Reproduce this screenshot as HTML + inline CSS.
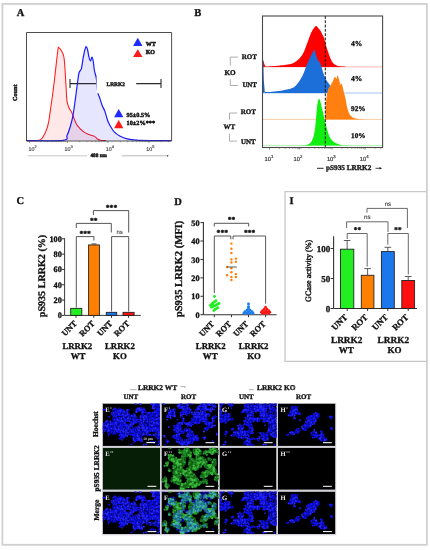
<!DOCTYPE html>
<html><head><meta charset="utf-8"><style>
html,body{margin:0;padding:0;background:#fff;}
svg{display:block;}
</style></head><body>
<svg width="430" height="550" viewBox="0 0 430 550" text-rendering="geometricPrecision">
<rect width="430" height="550" fill="#fff"/>
<rect x="2.4" y="3.9" width="424.5" height="540.9" fill="none" stroke="#d0d0d0" stroke-width="1.8"/>
<text x="16.8" y="16.3" font-family="'Liberation Serif', serif" font-size="10.5" font-weight="bold" fill="#111" stroke="#111" stroke-width="0.32" text-anchor="start">A</text>
<path d="M26.50,140.60 C28.65,140.53 36.47,141.13 39.40,140.20 C42.33,139.27 42.83,136.98 44.10,135.00 C45.37,133.02 46.20,130.68 47.00,128.30 C47.80,125.92 48.27,124.20 48.90,120.70 C49.53,117.20 50.17,111.75 50.80,107.30 C51.43,102.85 52.07,98.77 52.70,94.00 C53.33,89.23 53.97,84.12 54.60,78.70 C55.23,73.28 55.92,66.53 56.50,61.50 C57.08,56.47 57.72,50.82 58.10,48.50 C58.48,46.18 58.27,47.27 58.80,47.60 C59.33,47.93 60.57,49.38 61.30,50.50 C62.03,51.62 62.72,52.87 63.20,54.30 C63.68,55.73 63.88,56.40 64.20,59.10 C64.52,61.80 64.78,65.73 65.10,70.50 C65.42,75.27 65.78,82.60 66.10,87.70 C66.42,92.80 66.52,97.75 67.00,101.10 C67.48,104.45 68.20,105.88 69.00,107.80 C69.80,109.72 70.85,110.53 71.80,112.60 C72.75,114.67 73.73,117.98 74.70,120.20 C75.67,122.42 76.17,124.00 77.60,125.90 C79.03,127.80 81.40,130.17 83.30,131.60 C85.20,133.03 87.10,133.70 89.00,134.50 C90.90,135.30 93.30,135.65 94.70,136.40 C96.10,137.15 96.32,138.33 97.40,139.00 C98.48,139.67 99.77,140.13 101.20,140.40 C102.63,140.67 105.20,140.57 106.00,140.60 L106,140.8 L26.5,140.8 Z" fill="rgba(255,0,0,0.09)" stroke="none"/>
<path d="M26.50,140.60 C28.65,140.53 36.47,141.13 39.40,140.20 C42.33,139.27 42.83,136.98 44.10,135.00 C45.37,133.02 46.20,130.68 47.00,128.30 C47.80,125.92 48.27,124.20 48.90,120.70 C49.53,117.20 50.17,111.75 50.80,107.30 C51.43,102.85 52.07,98.77 52.70,94.00 C53.33,89.23 53.97,84.12 54.60,78.70 C55.23,73.28 55.92,66.53 56.50,61.50 C57.08,56.47 57.72,50.82 58.10,48.50 C58.48,46.18 58.27,47.27 58.80,47.60 C59.33,47.93 60.57,49.38 61.30,50.50 C62.03,51.62 62.72,52.87 63.20,54.30 C63.68,55.73 63.88,56.40 64.20,59.10 C64.52,61.80 64.78,65.73 65.10,70.50 C65.42,75.27 65.78,82.60 66.10,87.70 C66.42,92.80 66.52,97.75 67.00,101.10 C67.48,104.45 68.20,105.88 69.00,107.80 C69.80,109.72 70.85,110.53 71.80,112.60 C72.75,114.67 73.73,117.98 74.70,120.20 C75.67,122.42 76.17,124.00 77.60,125.90 C79.03,127.80 81.40,130.17 83.30,131.60 C85.20,133.03 87.10,133.70 89.00,134.50 C90.90,135.30 93.30,135.65 94.70,136.40 C96.10,137.15 96.32,138.33 97.40,139.00 C98.48,139.67 99.77,140.13 101.20,140.40 C102.63,140.67 105.20,140.57 106.00,140.60" fill="none" stroke="#ff1a1a" stroke-width="1.05"/>
<path d="M26.50,140.60 C32.62,140.57 56.45,141.25 63.20,140.40 C69.95,139.55 65.88,137.60 67.00,135.50 C68.12,133.40 68.93,130.98 69.90,127.80 C70.87,124.62 71.85,121.48 72.80,116.40 C73.75,111.32 74.80,103.03 75.60,97.30 C76.40,91.57 77.02,86.13 77.60,82.00 C78.18,77.87 78.47,74.73 79.10,72.50 C79.73,70.27 80.70,71.15 81.40,68.60 C82.10,66.05 82.67,60.53 83.30,57.20 C83.93,53.87 84.70,50.35 85.20,48.60 C85.70,46.85 85.92,46.55 86.30,46.70 C86.68,46.85 87.05,47.75 87.50,49.50 C87.95,51.25 88.50,55.28 89.00,57.20 C89.50,59.12 90.02,61.00 90.50,61.00 C90.98,61.00 91.45,57.20 91.90,57.20 C92.35,57.20 92.78,58.78 93.20,61.00 C93.62,63.22 93.88,67.63 94.40,70.50 C94.92,73.37 95.77,74.68 96.30,78.20 C96.83,81.72 97.07,88.42 97.60,91.60 C98.13,94.78 98.75,95.02 99.50,97.30 C100.25,99.58 101.20,102.95 102.10,105.30 C103.00,107.65 103.97,108.83 104.90,111.40 C105.83,113.97 106.77,118.22 107.70,120.70 C108.63,123.18 109.42,124.43 110.50,126.30 C111.58,128.17 112.65,130.28 114.20,131.90 C115.75,133.52 117.63,134.83 119.80,136.00 C121.97,137.17 124.42,138.20 127.20,138.90 C129.98,139.60 132.70,139.92 136.50,140.20 C140.30,140.48 144.25,140.53 150.00,140.60 C155.75,140.67 167.50,140.60 171.00,140.60 L171,140.8 L26.5,140.8 Z" fill="rgba(30,30,255,0.11)" stroke="none"/>
<path d="M26.50,140.60 C32.62,140.57 56.45,141.25 63.20,140.40 C69.95,139.55 65.88,137.60 67.00,135.50 C68.12,133.40 68.93,130.98 69.90,127.80 C70.87,124.62 71.85,121.48 72.80,116.40 C73.75,111.32 74.80,103.03 75.60,97.30 C76.40,91.57 77.02,86.13 77.60,82.00 C78.18,77.87 78.47,74.73 79.10,72.50 C79.73,70.27 80.70,71.15 81.40,68.60 C82.10,66.05 82.67,60.53 83.30,57.20 C83.93,53.87 84.70,50.35 85.20,48.60 C85.70,46.85 85.92,46.55 86.30,46.70 C86.68,46.85 87.05,47.75 87.50,49.50 C87.95,51.25 88.50,55.28 89.00,57.20 C89.50,59.12 90.02,61.00 90.50,61.00 C90.98,61.00 91.45,57.20 91.90,57.20 C92.35,57.20 92.78,58.78 93.20,61.00 C93.62,63.22 93.88,67.63 94.40,70.50 C94.92,73.37 95.77,74.68 96.30,78.20 C96.83,81.72 97.07,88.42 97.60,91.60 C98.13,94.78 98.75,95.02 99.50,97.30 C100.25,99.58 101.20,102.95 102.10,105.30 C103.00,107.65 103.97,108.83 104.90,111.40 C105.83,113.97 106.77,118.22 107.70,120.70 C108.63,123.18 109.42,124.43 110.50,126.30 C111.58,128.17 112.65,130.28 114.20,131.90 C115.75,133.52 117.63,134.83 119.80,136.00 C121.97,137.17 124.42,138.20 127.20,138.90 C129.98,139.60 132.70,139.92 136.50,140.20 C140.30,140.48 144.25,140.53 150.00,140.60 C155.75,140.67 167.50,140.60 171.00,140.60" fill="none" stroke="#1a1aff" stroke-width="1.2"/>
<path d="M26.5,141.0 L26.5,32.5 L171.6,32.5 L171.6,141.0 Z" fill="none" stroke="#3a3a3a" stroke-width="0.9"/>
<path d="M29.5,141.0 v2 M40.94,141.0 v1.2 M47.63,141.0 v1.2 M52.38,141.0 v1.2 M56.06,141.0 v1.2 M59.07,141.0 v1.2 M61.61,141.0 v1.2 M63.82,141.0 v1.2 M65.76,141.0 v1.2 M67.5,141.0 v2 M79.69,141.0 v1.2 M86.82,141.0 v1.2 M91.88,141.0 v1.2 M95.81,141.0 v1.2 M99.02,141.0 v1.2 M101.73,141.0 v1.2 M104.08,141.0 v1.2 M106.15,141.0 v1.2 M108,141.0 v2 M120.34,141.0 v1.2 M127.56,141.0 v1.2 M132.68,141.0 v1.2 M136.66,141.0 v1.2 M139.90,141.0 v1.2 M142.65,141.0 v1.2 M145.03,141.0 v1.2 M147.12,141.0 v1.2 M149,141.0 v2 M161.19,141.0 v1.2 M168.32,141.0 v1.2" stroke="#555" stroke-width="0.6" fill="none"/>
<text x="28.5" y="150.8" font-family="'Liberation Sans', sans-serif" font-size="5.3" fill="#444" stroke="#444" stroke-width="0.15">10<tspan dy="-2.9" font-size="3.9">2</tspan></text>
<text x="64.5" y="150.8" font-family="'Liberation Sans', sans-serif" font-size="5.3" fill="#444" stroke="#444" stroke-width="0.15">10<tspan dy="-2.9" font-size="3.9">3</tspan></text>
<text x="105.8" y="150.8" font-family="'Liberation Sans', sans-serif" font-size="5.3" fill="#444" stroke="#444" stroke-width="0.15">10<tspan dy="-2.9" font-size="3.9">4</tspan></text>
<text x="146.3" y="150.8" font-family="'Liberation Sans', sans-serif" font-size="5.3" fill="#444" stroke="#444" stroke-width="0.15">10<tspan dy="-2.9" font-size="3.9">5</tspan></text>
<line x1="27.8" y1="155.8" x2="87" y2="155.8" stroke="#bbb" stroke-width="0.8"/>
<line x1="121.6" y1="155.8" x2="168" y2="155.8" stroke="#999" stroke-width="0.7"/>
<path d="M168.8,155.8 l-1.8,-0.9 v1.8 Z" fill="#333"/>
<text x="90.4" y="157.1" font-family="'Liberation Serif', serif" font-size="5.3" font-weight="bold" fill="#111" stroke="#111" stroke-width="0.4" text-anchor="start">488 nm</text>
<text x="16.5" y="101" font-family="'Liberation Serif', serif" font-size="6.2" font-weight="bold" fill="#111" stroke="#111" stroke-width="0.4" text-anchor="start" transform="rotate(-90 16.5 101)">Count</text>
<rect x="96.6" y="77.2" width="39.2" height="16" fill="#fff"/>
<path d="M70,79 v9 M70,83.6 H96 M136.2,83.6 H161 M161,79 v9" stroke="#2a2a2a" stroke-width="1.1" fill="none"/>
<text x="106.6" y="85.6" font-family="'Liberation Serif', serif" font-size="5.4" font-weight="bold" fill="#111" stroke="#111" stroke-width="0.4" text-anchor="start">LRRK2</text>
<path d="M137.8,37.8 L142.5,46 L133.1,46 Z" fill="#1f2bff"/>
<path d="M137.8,49.2 L142.5,57 L133.1,57 Z" fill="#ff1a1a"/>
<text x="145.7" y="46.3" font-family="'Liberation Serif', serif" font-size="6.0" font-weight="bold" fill="#111" stroke="#111" stroke-width="0.45" text-anchor="start">WT</text>
<text x="145.7" y="54.0" font-family="'Liberation Serif', serif" font-size="6.0" font-weight="bold" fill="#111" stroke="#111" stroke-width="0.45" text-anchor="start">KO</text>
<path d="M118.7,109.1 L123.4,117.2 L114.1,117.2 Z" fill="#1f2bff"/>
<path d="M118.7,120.1 L123.4,128.3 L114.1,128.3 Z" fill="#ff1a1a"/>
<text x="126.5" y="117.2" font-family="'Liberation Serif', serif" font-size="6.3" font-weight="bold" fill="#111" stroke="#111" stroke-width="0.4" text-anchor="start">95±0.5%</text>
<text x="126.5" y="124.8" font-family="'Liberation Serif', serif" font-size="6.3" font-weight="bold" fill="#111" stroke="#111" stroke-width="0.4" text-anchor="start">10±2%***</text>
<text x="194.2" y="16.0" font-family="'Liberation Serif', serif" font-size="10.5" font-weight="bold" fill="#111" stroke="#111" stroke-width="0.32" text-anchor="start">B</text>
<line x1="262.5" y1="66.9" x2="382.6" y2="66.9" stroke="#f7a0a0" stroke-width="0.8"/>
<path d="M264.60,66.20 C264.83,66.25 263.67,66.58 266.00,66.50 C268.33,66.42 274.95,66.02 278.60,65.70 C282.25,65.38 285.27,65.15 287.90,64.60 C290.53,64.05 292.53,63.38 294.40,62.40 C296.27,61.42 297.70,60.10 299.10,58.70 C300.50,57.30 301.72,55.87 302.80,54.00 C303.88,52.13 304.67,49.83 305.60,47.50 C306.53,45.17 307.47,42.48 308.40,40.00 C309.33,37.52 310.27,34.60 311.20,32.60 C312.13,30.60 313.17,29.08 314.00,28.00 C314.83,26.92 315.43,26.02 316.20,26.10 C316.97,26.18 317.88,27.73 318.60,28.50 C319.32,29.27 319.88,29.70 320.50,30.70 C321.12,31.70 321.68,33.25 322.30,34.50 C322.92,35.75 323.58,36.35 324.20,38.20 C324.82,40.05 325.38,43.43 326.00,45.60 C326.62,47.77 327.27,49.33 327.90,51.20 C328.53,53.07 329.02,54.93 329.80,56.80 C330.58,58.67 331.52,61.00 332.60,62.40 C333.68,63.80 335.07,64.55 336.30,65.20 C337.53,65.85 338.55,66.07 340.00,66.30 C341.45,66.53 344.17,66.55 345.00,66.60 L345,66.9 L264.6,66.9 Z" fill="#ff0000"/>
<line x1="262.5" y1="93.0" x2="382.6" y2="93.0" stroke="#8cb8ee" stroke-width="0.8"/>
<path d="M264.70,91.80 C265.58,91.83 267.68,92.12 270.00,92.00 C272.32,91.88 275.62,91.55 278.60,91.10 C281.58,90.65 285.42,89.92 287.90,89.30 C290.38,88.68 291.95,88.27 293.50,87.40 C295.05,86.53 295.97,85.58 297.20,84.10 C298.43,82.62 299.82,80.37 300.90,78.50 C301.98,76.63 302.77,75.07 303.70,72.90 C304.63,70.73 305.57,67.82 306.50,65.50 C307.43,63.18 308.37,61.02 309.30,59.00 C310.23,56.98 311.23,54.95 312.10,53.40 C312.97,51.85 313.88,49.55 314.50,49.70 C315.12,49.85 315.27,52.60 315.80,54.30 C316.33,56.00 317.08,58.67 317.70,59.90 C318.32,61.13 318.88,60.62 319.50,61.70 C320.12,62.78 320.77,64.53 321.40,66.40 C322.03,68.27 322.68,71.03 323.30,72.90 C323.92,74.77 324.48,76.20 325.10,77.60 C325.72,79.00 326.22,80.07 327.00,81.30 C327.78,82.53 328.87,83.77 329.80,85.00 C330.73,86.23 331.52,87.62 332.60,88.70 C333.68,89.78 335.07,90.85 336.30,91.50 C337.53,92.15 339.38,92.42 340.00,92.60 L340,93.0 L264.7,93.0 Z" fill="#1c6fd8"/>
<line x1="262.5" y1="119.4" x2="382.6" y2="119.4" stroke="#f8c090" stroke-width="0.8"/>
<path d="M318.00,119.30 C319.12,119.25 323.42,121.47 324.70,119.00 C325.98,116.53 325.20,109.22 325.70,104.50 C326.20,99.78 327.05,93.67 327.70,90.70 C328.35,87.73 328.78,88.18 329.60,86.70 C330.42,85.22 331.77,83.43 332.60,81.80 C333.43,80.17 333.93,77.40 334.60,76.90 C335.27,76.40 336.12,79.07 336.60,78.80 C337.08,78.53 337.08,75.13 337.50,75.30 C337.92,75.47 338.60,78.22 339.10,79.80 C339.60,81.38 340.03,84.13 340.50,84.80 C340.97,85.47 341.40,82.82 341.90,83.80 C342.40,84.78 342.90,88.23 343.50,90.70 C344.10,93.17 344.85,95.63 345.50,98.60 C346.15,101.57 346.58,105.70 347.40,108.50 C348.22,111.30 349.08,113.75 350.40,115.40 C351.72,117.05 353.48,117.77 355.30,118.40 C357.12,119.03 359.52,119.03 361.30,119.20 C363.08,119.37 365.22,119.37 366.00,119.40 L366,119.4 L318,119.4 Z" fill="#ff8010"/>
<line x1="262.5" y1="145.4" x2="382.6" y2="145.4" stroke="#a0f0a0" stroke-width="0.8"/>
<path d="M300.00,145.30 C301.03,145.25 304.48,145.37 306.20,145.00 C307.92,144.63 309.27,144.00 310.30,143.10 C311.33,142.20 311.82,140.88 312.40,139.60 C312.98,138.32 313.33,137.48 313.80,135.40 C314.27,133.32 314.80,130.35 315.20,127.10 C315.60,123.85 315.85,119.62 316.20,115.90 C316.55,112.18 316.88,107.63 317.30,104.80 C317.72,101.97 318.23,99.60 318.70,98.90 C319.17,98.20 319.63,99.38 320.10,100.60 C320.57,101.82 321.03,104.35 321.50,106.20 C321.97,108.05 322.38,109.38 322.90,111.70 C323.42,114.02 324.02,117.53 324.60,120.10 C325.18,122.67 325.75,124.78 326.40,127.10 C327.05,129.42 327.68,131.92 328.50,134.00 C329.32,136.08 330.15,138.08 331.30,139.60 C332.45,141.12 333.78,142.22 335.40,143.10 C337.02,143.98 338.90,144.53 341.00,144.90 C343.10,145.27 346.83,145.23 348.00,145.30 L348,145.4 L300,145.4 Z" fill="#11ee11"/>
<path d="M262.6,67 V60 L263.5,61.3 L264.5,64.5 L265.6,66.7 Z" fill="#ff0000"/>
<path d="M262.6,93 V56 L263.3,61 L263.8,80 L264.8,92.3 Z" fill="#1c5fc8"/>
<line x1="325.3" y1="16.0" x2="325.3" y2="147.5" stroke="#111" stroke-width="1.0" stroke-dasharray="2.8 1.5"/>
<rect x="262.5" y="16.0" width="120.10000000000002" height="131.5" fill="none" stroke="#4a4a4a" stroke-width="1.1"/>
<path d="M269.5,147.5 v2.2 M279.43,147.5 v1.2 M285.25,147.5 v1.2 M289.37,147.5 v1.2 M292.57,147.5 v1.2 M295.18,147.5 v1.2 M297.39,147.5 v1.2 M299.30,147.5 v1.2 M300.99,147.5 v1.2 M299,147.5 v2.2 M308.93,147.5 v1.2 M314.75,147.5 v1.2 M318.87,147.5 v1.2 M322.07,147.5 v1.2 M324.68,147.5 v1.2 M326.89,147.5 v1.2 M328.80,147.5 v1.2 M330.49,147.5 v1.2 M332,147.5 v2.2 M341.93,147.5 v1.2 M347.75,147.5 v1.2 M351.87,147.5 v1.2 M355.07,147.5 v1.2 M357.68,147.5 v1.2 M359.89,147.5 v1.2 M361.80,147.5 v1.2 M363.49,147.5 v1.2 M365,147.5 v2.2 M374.93,147.5 v1.2 M380.75,147.5 v1.2" stroke="#444" stroke-width="0.6" fill="none"/>
<text x="264.59999999999997" y="160.9" font-family="'Liberation Sans', sans-serif" font-size="5.8" fill="#333" stroke="#333" stroke-width="0.18">10<tspan dy="-3.0" font-size="4.3">1</tspan></text>
<text x="293.59999999999997" y="160.9" font-family="'Liberation Sans', sans-serif" font-size="5.8" fill="#333" stroke="#333" stroke-width="0.18">10<tspan dy="-3.0" font-size="4.3">2</tspan></text>
<text x="326.9" y="160.9" font-family="'Liberation Sans', sans-serif" font-size="5.8" fill="#333" stroke="#333" stroke-width="0.18">10<tspan dy="-3.0" font-size="4.3">3</tspan></text>
<text x="359.8" y="160.9" font-family="'Liberation Sans', sans-serif" font-size="5.8" fill="#333" stroke="#333" stroke-width="0.18">10<tspan dy="-3.0" font-size="4.3">4</tspan></text>
<line x1="317" y1="168.3" x2="323.5" y2="168.3" stroke="#111" stroke-width="0.9"/>
<text x="326" y="170.4" font-family="'Liberation Serif', serif" font-size="7.25" font-weight="bold" fill="#111" stroke="#111" stroke-width="0.32" text-anchor="start">pS935 LRRK2</text>
<line x1="375.5" y1="168.3" x2="380" y2="168.3" stroke="#111" stroke-width="0.8"/><path d="M382,168.3 l-2.4,-1.2 v2.4 Z" fill="#111"/>
<text x="351" y="46.2" font-family="'Liberation Serif', serif" font-size="7.5" font-weight="bold" fill="#111" stroke="#111" stroke-width="0.32" text-anchor="start">4%</text>
<text x="351" y="80.9" font-family="'Liberation Serif', serif" font-size="7.5" font-weight="bold" fill="#111" stroke="#111" stroke-width="0.32" text-anchor="start">4%</text>
<text x="351" y="110.6" font-family="'Liberation Serif', serif" font-size="7.3" font-weight="bold" fill="#111" stroke="#111" stroke-width="0.32" text-anchor="start">92%</text>
<text x="351" y="138.4" font-family="'Liberation Serif', serif" font-size="7.3" font-weight="bold" fill="#111" stroke="#111" stroke-width="0.32" text-anchor="start">10%</text>
<text x="241.7" y="59.3" font-family="'Liberation Serif', serif" font-size="7.0" font-weight="bold" fill="#111" stroke="#111" stroke-width="0.32" text-anchor="start">ROT</text>
<text x="224.4" y="74.8" font-family="'Liberation Serif', serif" font-size="7.2" font-weight="bold" fill="#111" stroke="#111" stroke-width="0.32" text-anchor="start">KO</text>
<text x="242.4" y="87.2" font-family="'Liberation Serif', serif" font-size="6.9" font-weight="bold" fill="#111" stroke="#111" stroke-width="0.32" text-anchor="start">UNT</text>
<text x="240.7" y="113.8" font-family="'Liberation Serif', serif" font-size="7.0" font-weight="bold" fill="#111" stroke="#111" stroke-width="0.32" text-anchor="start">ROT</text>
<text x="223.4" y="128.9" font-family="'Liberation Serif', serif" font-size="7.0" font-weight="bold" fill="#111" stroke="#111" stroke-width="0.32" text-anchor="start">WT</text>
<text x="241.0" y="143.8" font-family="'Liberation Serif', serif" font-size="6.9" font-weight="bold" fill="#111" stroke="#111" stroke-width="0.32" text-anchor="start">UNT</text>
<path d="M238,57.1 H230.3 V65.6 M230.3,79.3 V85.5 H238 M237.1,113 H229.5 V119.6 M229.5,133.8 V141.1 H237.1" stroke="#999" stroke-width="0.8" fill="none"/>
<text x="16.4" y="204.2" font-family="'Liberation Serif', serif" font-size="10.5" font-weight="bold" fill="#111" stroke="#111" stroke-width="0.32" text-anchor="start">C</text>
<path d="M64.6,315.4 V238.3 M64.6,315.4 H140.8" stroke="#3a3a3a" stroke-width="1.0" fill="none"/>
<text x="61.9" y="318.2" font-family="'Liberation Serif', serif" font-size="8.3" font-weight="bold" fill="#111" stroke="#111" stroke-width="0.32" text-anchor="end">0</text>
<text x="61.9" y="302.88" font-family="'Liberation Serif', serif" font-size="8.3" font-weight="bold" fill="#111" stroke="#111" stroke-width="0.32" text-anchor="end">20</text>
<text x="61.9" y="287.56" font-family="'Liberation Serif', serif" font-size="8.3" font-weight="bold" fill="#111" stroke="#111" stroke-width="0.32" text-anchor="end">40</text>
<text x="61.9" y="272.24" font-family="'Liberation Serif', serif" font-size="8.3" font-weight="bold" fill="#111" stroke="#111" stroke-width="0.32" text-anchor="end">60</text>
<text x="61.9" y="256.91999999999996" font-family="'Liberation Serif', serif" font-size="8.3" font-weight="bold" fill="#111" stroke="#111" stroke-width="0.32" text-anchor="end">80</text>
<text x="61.9" y="241.6" font-family="'Liberation Serif', serif" font-size="8.3" font-weight="bold" fill="#111" stroke="#111" stroke-width="0.32" text-anchor="end">100</text>
<path d="M61.8,315.40 H64.6 M61.8,300.08 H64.6 M61.8,284.76 H64.6 M61.8,269.44 H64.6 M61.8,254.12 H64.6 M61.8,238.80 H64.6 M76,315.4 v2.5 M93.8,315.4 v2.5 M111.5,315.4 v2.5 M128.6,315.4 v2.5" stroke="#333" stroke-width="1" fill="none"/>
<rect x="70.7" y="308.35" width="11.099999999999994" height="7.05" fill="#22ee22" stroke="#222" stroke-width="0.9"/>
<rect x="88.6" y="244.93" width="10.800000000000011" height="70.47" fill="#ff8000" stroke="#222" stroke-width="0.9"/>
<rect x="106.3" y="312.34" width="10.400000000000006" height="3.06" fill="#1a78ec" stroke="#222" stroke-width="0.9"/>
<rect x="123.0" y="312.34" width="11.099999999999994" height="3.06" fill="#ff1010" stroke="#222" stroke-width="0.9"/>
<path d="M91.5,243.9 H96.5" stroke="#222" stroke-width="0.8"/>
<path d="M76.3,307.6 V236.6 H93.9 V240.5 M111.6,311.5 V236.6 H128.7 V311.5 M76.3,228 V223.4 H111.3 V232.5 M93.4,215.1 V210.6 H128.7 V232.5" stroke="#444" stroke-width="0.9" fill="none"/>
<text x="85.1" y="235.9" font-family="'Liberation Serif', serif" font-size="7.6" font-weight="bold" fill="#111" stroke="#111" stroke-width="0.32" text-anchor="middle">***</text>
<text x="93.8" y="222.7" font-family="'Liberation Serif', serif" font-size="7.6" font-weight="bold" fill="#111" stroke="#111" stroke-width="0.32" text-anchor="middle">**</text>
<text x="111.5" y="210.2" font-family="'Liberation Serif', serif" font-size="7.6" font-weight="bold" fill="#111" stroke="#111" stroke-width="0.32" text-anchor="middle">***</text>
<text x="119.7" y="234.0" font-family="'Liberation Sans', sans-serif" font-size="6.0" font-weight="normal" fill="#444" stroke="#444" stroke-width="0.1" text-anchor="middle">ns</text>
<text x="44.9" y="317.2" font-family="'Liberation Serif', serif" font-size="10.1" font-weight="bold" fill="#111" stroke="#111" stroke-width="0.32" text-anchor="start" transform="rotate(-90 44.9 317.2)">pS935 LRRK2 (%)</text>
<text x="77.5" y="324.2" font-family="'Liberation Serif', serif" font-size="8.3" font-weight="bold" fill="#111" stroke="#111" stroke-width="0.32" text-anchor="end" transform="rotate(-45 77.5 324.2)">UNT</text>
<text x="95.3" y="324.2" font-family="'Liberation Serif', serif" font-size="8.3" font-weight="bold" fill="#111" stroke="#111" stroke-width="0.32" text-anchor="end" transform="rotate(-45 95.3 324.2)">ROT</text>
<text x="113.0" y="324.2" font-family="'Liberation Serif', serif" font-size="8.3" font-weight="bold" fill="#111" stroke="#111" stroke-width="0.32" text-anchor="end" transform="rotate(-45 113.0 324.2)">UNT</text>
<text x="130.1" y="324.2" font-family="'Liberation Serif', serif" font-size="8.3" font-weight="bold" fill="#111" stroke="#111" stroke-width="0.32" text-anchor="end" transform="rotate(-45 130.1 324.2)">ROT</text>
<text x="77.3" y="349.2" font-family="'Liberation Serif', serif" font-size="8.8" font-weight="bold" fill="#111" stroke="#111" stroke-width="0.32" text-anchor="middle">LRRK2</text>
<text x="78" y="359.2" font-family="'Liberation Serif', serif" font-size="8.8" font-weight="bold" fill="#111" stroke="#111" stroke-width="0.32" text-anchor="middle">WT</text>
<text x="119.9" y="349.2" font-family="'Liberation Serif', serif" font-size="8.8" font-weight="bold" fill="#111" stroke="#111" stroke-width="0.32" text-anchor="middle">LRRK2</text>
<text x="119.9" y="359.2" font-family="'Liberation Serif', serif" font-size="8.8" font-weight="bold" fill="#111" stroke="#111" stroke-width="0.32" text-anchor="middle">KO</text>
<text x="174.2" y="204.6" font-family="'Liberation Serif', serif" font-size="10.5" font-weight="bold" fill="#111" stroke="#111" stroke-width="0.32" text-anchor="start">D</text>
<path d="M203.4,314.7 V222 M203.4,314.7 H276.6" stroke="#333" stroke-width="1.1" fill="none"/>
<text x="199.6" y="317.9" font-family="'Liberation Serif', serif" font-size="8.3" font-weight="bold" fill="#111" stroke="#111" stroke-width="0.32" text-anchor="end">0</text>
<text x="199.6" y="299.47999999999996" font-family="'Liberation Serif', serif" font-size="8.3" font-weight="bold" fill="#111" stroke="#111" stroke-width="0.32" text-anchor="end">10</text>
<text x="199.6" y="281.06" font-family="'Liberation Serif', serif" font-size="8.3" font-weight="bold" fill="#111" stroke="#111" stroke-width="0.32" text-anchor="end">20</text>
<text x="199.6" y="262.64" font-family="'Liberation Serif', serif" font-size="8.3" font-weight="bold" fill="#111" stroke="#111" stroke-width="0.32" text-anchor="end">30</text>
<text x="199.6" y="244.21999999999997" font-family="'Liberation Serif', serif" font-size="8.3" font-weight="bold" fill="#111" stroke="#111" stroke-width="0.32" text-anchor="end">40</text>
<text x="199.6" y="225.79999999999995" font-family="'Liberation Serif', serif" font-size="8.3" font-weight="bold" fill="#111" stroke="#111" stroke-width="0.32" text-anchor="end">50</text>
<path d="M200.4,314.70 H203.4 M200.4,296.28 H203.4 M200.4,277.86 H203.4 M200.4,259.44 H203.4 M200.4,241.02 H203.4 M200.4,222.60 H203.4 M214.3,314.7 v2.5 M231.5,314.7 v2.5 M248.5,314.7 v2.5 M265.6,314.7 v2.5" stroke="#333" stroke-width="1" fill="none"/>
<path d="M214.3,293 V236 H230.8 V239.3 M233,239.3 V236 H265.6 V303.7 M214.3,226.5 V223.3 H248.7 V226.5" stroke="#444" stroke-width="0.9" fill="none"/>
<text x="222.3" y="234.8" font-family="'Liberation Serif', serif" font-size="7.6" font-weight="bold" fill="#111" stroke="#111" stroke-width="0.32" text-anchor="middle">***</text>
<text x="231.6" y="221.8" font-family="'Liberation Serif', serif" font-size="7.6" font-weight="bold" fill="#111" stroke="#111" stroke-width="0.32" text-anchor="middle">**</text>
<text x="249.6" y="234.8" font-family="'Liberation Serif', serif" font-size="7.6" font-weight="bold" fill="#111" stroke="#111" stroke-width="0.32" text-anchor="middle">***</text>
<circle cx="214.5" cy="296.5" r="1.45" fill="#22ee22"/><circle cx="216.0" cy="300.8" r="1.45" fill="#22ee22"/><circle cx="214.6" cy="301.8" r="1.45" fill="#22ee22"/><circle cx="213.2" cy="302.8" r="1.45" fill="#22ee22"/><circle cx="211.8" cy="304.0" r="1.45" fill="#22ee22"/><circle cx="210.4" cy="305.4" r="1.45" fill="#22ee22"/><circle cx="219" cy="303.4" r="1.45" fill="#22ee22"/><circle cx="217.6" cy="304.2" r="1.45" fill="#22ee22"/><circle cx="216.2" cy="305.0" r="1.45" fill="#22ee22"/><circle cx="214.6" cy="305.9" r="1.45" fill="#22ee22"/><circle cx="213.0" cy="306.6" r="1.45" fill="#22ee22"/><circle cx="211.6" cy="307.2" r="1.45" fill="#22ee22"/><circle cx="217.8" cy="307.8" r="1.45" fill="#22ee22"/><circle cx="216.4" cy="308.6" r="1.45" fill="#22ee22"/><circle cx="215.0" cy="309.4" r="1.45" fill="#22ee22"/><circle cx="213.9" cy="310.6" r="1.45" fill="#22ee22"/><circle cx="212.8" cy="305.0" r="1.45" fill="#22ee22"/><circle cx="231.4" cy="243.6" r="1.2" fill="#ff7f0e"/><circle cx="231.4" cy="248.8" r="1.2" fill="#ff7f0e"/><circle cx="231.4" cy="253" r="1.2" fill="#ff7f0e"/><circle cx="231.4" cy="259.4" r="1.2" fill="#ff7f0e"/><circle cx="235.9" cy="258.6" r="1.2" fill="#ff7f0e"/><circle cx="231.4" cy="262.5" r="1.2" fill="#ff7f0e"/><circle cx="235.9" cy="261.8" r="1.2" fill="#ff7f0e"/><circle cx="227" cy="267" r="1.2" fill="#ff7f0e"/><circle cx="231.4" cy="268.2" r="1.2" fill="#ff7f0e"/><circle cx="231.4" cy="272.3" r="1.2" fill="#ff7f0e"/><circle cx="227" cy="275.2" r="1.2" fill="#ff7f0e"/><circle cx="235.9" cy="274.1" r="1.2" fill="#ff7f0e"/><circle cx="231.4" cy="277" r="1.2" fill="#ff7f0e"/><circle cx="235.9" cy="277" r="1.2" fill="#ff7f0e"/><circle cx="231.4" cy="280" r="1.2" fill="#ff7f0e"/><circle cx="248.5" cy="304.0" r="1.45" fill="#1a7cf0"/><circle cx="248.5" cy="306.8" r="1.45" fill="#1a7cf0"/><circle cx="248.5" cy="308.4" r="1.45" fill="#1a7cf0"/><circle cx="247" cy="310.2" r="1.45" fill="#1a7cf0"/><circle cx="250" cy="310.2" r="1.45" fill="#1a7cf0"/><circle cx="245" cy="311.8" r="1.45" fill="#1a7cf0"/><circle cx="248.5" cy="311.8" r="1.45" fill="#1a7cf0"/><circle cx="252" cy="311.8" r="1.45" fill="#1a7cf0"/><circle cx="244" cy="313.2" r="1.45" fill="#1a7cf0"/><circle cx="247" cy="313.2" r="1.45" fill="#1a7cf0"/><circle cx="250" cy="313.2" r="1.45" fill="#1a7cf0"/><circle cx="253" cy="313.2" r="1.45" fill="#1a7cf0"/><circle cx="265.6" cy="307.2" r="1.35" fill="#ff1010"/><circle cx="264.2" cy="309" r="1.35" fill="#ff1010"/><circle cx="267" cy="309" r="1.35" fill="#ff1010"/><circle cx="262.5" cy="310.6" r="1.35" fill="#ff1010"/><circle cx="265.6" cy="310.6" r="1.35" fill="#ff1010"/><circle cx="268.7" cy="310.6" r="1.35" fill="#ff1010"/><circle cx="261.4" cy="312.2" r="1.35" fill="#ff1010"/><circle cx="264.2" cy="312.2" r="1.35" fill="#ff1010"/><circle cx="267" cy="312.2" r="1.35" fill="#ff1010"/><circle cx="269.8" cy="312.2" r="1.35" fill="#ff1010"/><circle cx="262.5" cy="313.6" r="1.35" fill="#ff1010"/><circle cx="265.6" cy="313.6" r="1.35" fill="#ff1010"/><circle cx="268.7" cy="313.6" r="1.35" fill="#ff1010"/>
<line x1="226.8" y1="267" x2="236.8" y2="267" stroke="#333" stroke-width="0.8"/>
<text x="181.8" y="317.2" font-family="'Liberation Serif', serif" font-size="10.6" font-weight="bold" fill="#111" stroke="#111" stroke-width="0.32" text-anchor="start" transform="rotate(-90 181.8 317.2)">pS935 LRRK2 (MFI)</text>
<text x="214.8" y="324.6" font-family="'Liberation Serif', serif" font-size="8.3" font-weight="bold" fill="#111" stroke="#111" stroke-width="0.32" text-anchor="end" transform="rotate(-45 214.8 324.6)">UNT</text>
<text x="232.0" y="324.6" font-family="'Liberation Serif', serif" font-size="8.3" font-weight="bold" fill="#111" stroke="#111" stroke-width="0.32" text-anchor="end" transform="rotate(-45 232.0 324.6)">ROT</text>
<text x="249.0" y="324.6" font-family="'Liberation Serif', serif" font-size="8.3" font-weight="bold" fill="#111" stroke="#111" stroke-width="0.32" text-anchor="end" transform="rotate(-45 249.0 324.6)">UNT</text>
<text x="266.1" y="324.6" font-family="'Liberation Serif', serif" font-size="8.3" font-weight="bold" fill="#111" stroke="#111" stroke-width="0.32" text-anchor="end" transform="rotate(-45 266.1 324.6)">ROT</text>
<text x="210.7" y="349.2" font-family="'Liberation Serif', serif" font-size="8.8" font-weight="bold" fill="#111" stroke="#111" stroke-width="0.32" text-anchor="middle">LRRK2</text>
<text x="210.2" y="359.2" font-family="'Liberation Serif', serif" font-size="8.8" font-weight="bold" fill="#111" stroke="#111" stroke-width="0.32" text-anchor="middle">WT</text>
<text x="253.6" y="349.2" font-family="'Liberation Serif', serif" font-size="8.8" font-weight="bold" fill="#111" stroke="#111" stroke-width="0.32" text-anchor="middle">LRRK2</text>
<text x="254.1" y="359.2" font-family="'Liberation Serif', serif" font-size="8.8" font-weight="bold" fill="#111" stroke="#111" stroke-width="0.32" text-anchor="middle">KO</text>
<path d="M427,191.6 H285 V361.4 H427" fill="none" stroke="#c8c8c8" stroke-width="1.3"/>
<text x="289.5" y="203.8" font-family="'Liberation Serif', serif" font-size="10.5" font-weight="bold" fill="#111" stroke="#111" stroke-width="0.32" text-anchor="start">I</text>
<path d="M333.6,308.5 V236.2 M333.6,308.5 H417" stroke="#333" stroke-width="1.1" fill="none"/>
<text x="330.2" y="311.5" font-family="'Liberation Serif', serif" font-size="9.0" font-weight="bold" fill="#111" stroke="#111" stroke-width="0.32" text-anchor="end">0</text>
<text x="330.2" y="281.5" font-family="'Liberation Serif', serif" font-size="9.0" font-weight="bold" fill="#111" stroke="#111" stroke-width="0.32" text-anchor="end">50</text>
<text x="330.2" y="251.5" font-family="'Liberation Serif', serif" font-size="9.0" font-weight="bold" fill="#111" stroke="#111" stroke-width="0.32" text-anchor="end">100</text>
<path d="M330.6,308.50 H333.6 M330.6,278.50 H333.6 M330.6,248.50 H333.6 M347.2,308.5 v2.5 M367.6,308.5 v2.5 M387.8,308.5 v2.5 M408.2,308.5 v2.5" stroke="#333" stroke-width="1" fill="none"/>
<path d="M347.15,249.2 V240.5 M343.85,240.5 H350.45" stroke="#333" stroke-width="0.8"/>
<rect x="340.5" y="249.2" width="13.30" height="59.30" fill="#22ee22" stroke="#222" stroke-width="0.9"/>
<path d="M367.60,275.3 V268.6 M364.30,268.6 H370.90" stroke="#333" stroke-width="0.8"/>
<rect x="361.3" y="275.3" width="12.60" height="33.20" fill="#ff8000" stroke="#222" stroke-width="0.9"/>
<path d="M387.85,251.6 V247.3 M384.55,247.3 H391.15" stroke="#333" stroke-width="0.8"/>
<rect x="381.4" y="251.6" width="12.90" height="56.90" fill="#1a78ec" stroke="#222" stroke-width="0.9"/>
<path d="M408.20,280.5 V276.5 M404.90,276.5 H411.50" stroke="#333" stroke-width="0.8"/>
<rect x="401.8" y="280.5" width="12.80" height="28.00" fill="#ff1010" stroke="#222" stroke-width="0.9"/>
<path d="M347.2,239 V233.5 H367.2 V266.6 M387.8,244.7 V233.5 H408.3 V274.5 M346.6,228 V221.8 H388 V232 M367,212.6 V208.4 H407.4 V228" stroke="#444" stroke-width="0.8" fill="none"/>
<text x="357.4" y="232.4" font-family="'Liberation Serif', serif" font-size="7.2" font-weight="bold" fill="#111" stroke="#111" stroke-width="0.32" text-anchor="middle">**</text>
<text x="397.9" y="232.4" font-family="'Liberation Serif', serif" font-size="7.2" font-weight="bold" fill="#111" stroke="#111" stroke-width="0.32" text-anchor="middle">**</text>
<text x="367.3" y="219.4" font-family="'Liberation Sans', sans-serif" font-size="6.2" font-weight="normal" fill="#333" stroke="#333" stroke-width="0.1" text-anchor="middle">ns</text>
<text x="387.9" y="206.1" font-family="'Liberation Sans', sans-serif" font-size="6.2" font-weight="normal" fill="#333" stroke="#333" stroke-width="0.1" text-anchor="middle">ns</text>
<text x="311.1" y="301.9" font-family="'Liberation Serif', serif" font-size="8.1" font-weight="normal" fill="#111" stroke="#111" stroke-width="0.4" text-anchor="start" transform="rotate(-90 311.1 301.9)">GCase activity (%)</text>
<text x="348.0" y="317.8" font-family="'Liberation Serif', serif" font-size="8.7" font-weight="bold" fill="#111" stroke="#111" stroke-width="0.32" text-anchor="end" transform="rotate(-45 348.0 317.8)">UNT</text>
<text x="368.40000000000003" y="317.8" font-family="'Liberation Serif', serif" font-size="8.7" font-weight="bold" fill="#111" stroke="#111" stroke-width="0.32" text-anchor="end" transform="rotate(-45 368.40000000000003 317.8)">ROT</text>
<text x="388.6" y="317.8" font-family="'Liberation Serif', serif" font-size="8.7" font-weight="bold" fill="#111" stroke="#111" stroke-width="0.32" text-anchor="end" transform="rotate(-45 388.6 317.8)">UNT</text>
<text x="409.0" y="317.8" font-family="'Liberation Serif', serif" font-size="8.7" font-weight="bold" fill="#111" stroke="#111" stroke-width="0.32" text-anchor="end" transform="rotate(-45 409.0 317.8)">ROT</text>
<text x="346.7" y="342.6" font-family="'Liberation Serif', serif" font-size="9.3" font-weight="bold" fill="#111" stroke="#111" stroke-width="0.32" text-anchor="middle">LRRK2</text>
<text x="346.2" y="353.0" font-family="'Liberation Serif', serif" font-size="9.0" font-weight="bold" fill="#111" stroke="#111" stroke-width="0.32" text-anchor="middle">WT</text>
<text x="393.3" y="342.6" font-family="'Liberation Serif', serif" font-size="9.3" font-weight="bold" fill="#111" stroke="#111" stroke-width="0.32" text-anchor="middle">LRRK2</text>
<text x="394.4" y="353.0" font-family="'Liberation Serif', serif" font-size="9.0" font-weight="bold" fill="#111" stroke="#111" stroke-width="0.32" text-anchor="middle">KO</text>
<rect x="102" y="403" width="234.2" height="132.3" fill="#d2d2d8"/>
<defs><clipPath id="cp"><rect x="0" y="0" width="57.3" height="42.3"/></clipPath><g id="bE"><g fill="#1414ff"><circle cx="32.4" cy="-0.1" r="0.8"/><circle cx="36.6" cy="0.1" r="0.9"/><circle cx="48.5" cy="0.5" r="1.1"/><circle cx="50.9" cy="0.3" r="0.7"/><circle cx="54.1" cy="0.3" r="1.0"/><circle cx="49.9" cy="1.6" r="0.9"/><circle cx="50.7" cy="3.0" r="0.7"/><circle cx="55.8" cy="3.3" r="0.8"/><circle cx="12.2" cy="4.9" r="1.0"/><circle cx="13.0" cy="4.9" r="0.9"/><circle cx="16.3" cy="4.6" r="0.7"/><circle cx="39.1" cy="4.5" r="0.9"/><circle cx="41.2" cy="4.8" r="0.8"/><circle cx="55.3" cy="5.0" r="1.0"/><circle cx="56.8" cy="5.0" r="0.9"/><circle cx="1.5" cy="6.0" r="1.0"/><circle cx="2.9" cy="6.1" r="0.8"/><circle cx="16.5" cy="6.5" r="0.8"/><circle cx="17.9" cy="6.3" r="0.9"/><circle cx="20.2" cy="6.4" r="0.9"/><circle cx="33.7" cy="6.1" r="1.1"/><circle cx="39.4" cy="6.1" r="1.0"/><circle cx="41.1" cy="6.1" r="0.8"/><circle cx="42.0" cy="6.0" r="0.9"/><circle cx="53.9" cy="6.5" r="1.0"/><circle cx="55.1" cy="6.5" r="0.8"/><circle cx="56.7" cy="6.1" r="1.1"/><circle cx="10.1" cy="7.4" r="0.8"/><circle cx="13.0" cy="7.5" r="1.0"/><circle cx="15.9" cy="7.5" r="1.1"/><circle cx="20.4" cy="7.8" r="0.8"/><circle cx="23.9" cy="7.4" r="0.9"/><circle cx="25.2" cy="7.8" r="0.8"/><circle cx="33.6" cy="7.4" r="1.0"/><circle cx="34.9" cy="7.4" r="0.9"/><circle cx="39.6" cy="7.8" r="1.1"/><circle cx="40.9" cy="7.4" r="0.7"/><circle cx="52.3" cy="7.7" r="1.1"/><circle cx="54.0" cy="7.6" r="0.7"/><circle cx="56.5" cy="7.2" r="1.0"/><circle cx="17.5" cy="8.8" r="0.9"/><circle cx="24.7" cy="9.3" r="1.0"/><circle cx="39.5" cy="8.9" r="1.1"/><circle cx="41.0" cy="8.6" r="0.9"/><circle cx="42.5" cy="8.6" r="0.7"/><circle cx="43.5" cy="9.0" r="0.8"/><circle cx="47.0" cy="8.8" r="1.0"/><circle cx="49.9" cy="8.9" r="1.0"/><circle cx="51.2" cy="9.4" r="1.0"/><circle cx="55.0" cy="9.1" r="1.1"/><circle cx="12.0" cy="10.8" r="1.0"/><circle cx="13.3" cy="10.1" r="0.7"/><circle cx="19.3" cy="10.8" r="0.9"/><circle cx="32.2" cy="10.8" r="0.8"/><circle cx="39.5" cy="10.4" r="0.9"/><circle cx="40.6" cy="10.4" r="0.8"/><circle cx="45.1" cy="10.2" r="0.8"/><circle cx="46.5" cy="10.4" r="0.7"/><circle cx="53.9" cy="10.6" r="0.9"/><circle cx="55.4" cy="10.1" r="0.8"/><circle cx="56.7" cy="10.6" r="1.1"/><circle cx="10.3" cy="11.5" r="1.0"/><circle cx="12.1" cy="12.3" r="0.9"/><circle cx="13.6" cy="12.0" r="0.8"/><circle cx="16.5" cy="11.8" r="1.1"/><circle cx="17.9" cy="11.7" r="0.7"/><circle cx="18.9" cy="12.1" r="0.8"/><circle cx="23.7" cy="11.8" r="0.8"/><circle cx="25.2" cy="11.6" r="0.9"/><circle cx="37.7" cy="12.2" r="0.8"/><circle cx="39.5" cy="12.3" r="1.0"/><circle cx="43.8" cy="12.2" r="0.9"/><circle cx="49.7" cy="11.6" r="0.9"/><circle cx="55.0" cy="11.6" r="0.8"/><circle cx="57.2" cy="11.6" r="0.7"/><circle cx="10.8" cy="13.2" r="0.7"/><circle cx="12.1" cy="13.2" r="0.8"/><circle cx="15.2" cy="13.6" r="0.7"/><circle cx="16.6" cy="13.6" r="0.7"/><circle cx="17.6" cy="13.5" r="0.7"/><circle cx="23.2" cy="13.2" r="0.8"/><circle cx="27.5" cy="13.2" r="0.9"/><circle cx="29.5" cy="13.0" r="1.0"/><circle cx="30.8" cy="13.1" r="0.8"/><circle cx="32.1" cy="13.3" r="1.0"/><circle cx="39.4" cy="13.5" r="0.8"/><circle cx="48.0" cy="13.2" r="0.9"/><circle cx="49.6" cy="13.7" r="0.8"/><circle cx="52.4" cy="13.3" r="0.9"/><circle cx="57.1" cy="13.6" r="0.8"/><circle cx="11.9" cy="15.1" r="0.7"/><circle cx="14.6" cy="14.7" r="0.8"/><circle cx="16.6" cy="15.0" r="1.0"/><circle cx="21.9" cy="14.8" r="0.8"/><circle cx="26.2" cy="14.7" r="0.8"/><circle cx="29.7" cy="14.5" r="0.7"/><circle cx="30.9" cy="15.1" r="0.7"/><circle cx="32.2" cy="14.7" r="0.7"/><circle cx="37.8" cy="14.8" r="0.9"/><circle cx="42.0" cy="15.0" r="1.0"/><circle cx="44.1" cy="14.5" r="0.7"/><circle cx="47.8" cy="15.2" r="1.0"/><circle cx="49.4" cy="14.6" r="0.9"/><circle cx="50.7" cy="14.6" r="0.8"/><circle cx="54.2" cy="14.7" r="0.9"/><circle cx="11.6" cy="15.9" r="0.9"/><circle cx="13.5" cy="16.0" r="1.0"/><circle cx="16.5" cy="16.4" r="0.7"/><circle cx="17.7" cy="16.6" r="1.0"/><circle cx="21.9" cy="15.9" r="1.1"/><circle cx="23.3" cy="16.3" r="1.1"/><circle cx="24.7" cy="16.5" r="0.8"/><circle cx="27.5" cy="15.9" r="0.7"/><circle cx="29.6" cy="16.0" r="0.8"/><circle cx="33.6" cy="16.3" r="0.8"/><circle cx="34.8" cy="16.0" r="1.0"/><circle cx="36.3" cy="16.0" r="0.8"/><circle cx="39.1" cy="16.4" r="0.8"/><circle cx="42.0" cy="16.1" r="0.9"/><circle cx="43.4" cy="16.1" r="0.9"/><circle cx="48.1" cy="16.2" r="0.7"/><circle cx="49.7" cy="16.5" r="0.7"/><circle cx="50.9" cy="16.1" r="1.0"/><circle cx="52.3" cy="16.2" r="1.1"/><circle cx="56.9" cy="16.3" r="1.0"/><circle cx="5.0" cy="17.5" r="1.0"/><circle cx="12.1" cy="17.4" r="0.9"/><circle cx="18.1" cy="17.8" r="1.1"/><circle cx="24.8" cy="17.7" r="0.9"/><circle cx="27.9" cy="17.9" r="0.8"/><circle cx="28.9" cy="18.1" r="0.7"/><circle cx="30.9" cy="17.9" r="0.9"/><circle cx="32.5" cy="17.7" r="1.0"/><circle cx="33.8" cy="17.4" r="0.8"/><circle cx="34.8" cy="17.7" r="1.0"/><circle cx="36.3" cy="18.1" r="0.9"/><circle cx="42.3" cy="18.0" r="0.7"/><circle cx="46.9" cy="17.7" r="0.7"/><circle cx="49.4" cy="17.7" r="1.0"/><circle cx="50.7" cy="17.3" r="0.7"/><circle cx="52.4" cy="17.5" r="0.7"/><circle cx="55.3" cy="17.9" r="0.8"/><circle cx="3.1" cy="19.2" r="0.9"/><circle cx="4.6" cy="19.2" r="0.8"/><circle cx="10.4" cy="19.4" r="1.0"/><circle cx="14.9" cy="19.4" r="1.0"/><circle cx="17.5" cy="19.1" r="1.0"/><circle cx="21.0" cy="19.4" r="0.7"/><circle cx="27.5" cy="19.2" r="0.7"/><circle cx="29.2" cy="19.4" r="1.0"/><circle cx="30.5" cy="19.0" r="0.8"/><circle cx="32.2" cy="19.1" r="1.1"/><circle cx="33.7" cy="19.2" r="0.7"/><circle cx="46.6" cy="19.4" r="0.9"/><circle cx="48.2" cy="18.9" r="0.7"/><circle cx="52.1" cy="19.1" r="1.0"/><circle cx="55.6" cy="19.2" r="0.7"/><circle cx="57.0" cy="19.2" r="0.9"/><circle cx="0.6" cy="20.4" r="0.9"/><circle cx="1.5" cy="20.2" r="0.7"/><circle cx="9.0" cy="20.6" r="1.0"/><circle cx="10.1" cy="20.7" r="1.0"/><circle cx="11.6" cy="20.3" r="1.1"/><circle cx="17.5" cy="20.7" r="0.9"/><circle cx="19.5" cy="20.5" r="1.1"/><circle cx="23.6" cy="20.8" r="1.0"/><circle cx="37.7" cy="20.6" r="0.7"/><circle cx="39.8" cy="20.8" r="0.9"/><circle cx="43.9" cy="20.7" r="0.8"/><circle cx="46.7" cy="20.4" r="1.0"/><circle cx="47.9" cy="20.9" r="0.7"/><circle cx="49.8" cy="20.7" r="0.8"/><circle cx="51.1" cy="20.4" r="1.0"/><circle cx="52.8" cy="20.2" r="0.9"/><circle cx="53.9" cy="20.5" r="1.0"/><circle cx="56.8" cy="20.9" r="0.8"/><circle cx="0.6" cy="22.4" r="1.0"/><circle cx="2.1" cy="21.9" r="1.0"/><circle cx="12.0" cy="22.4" r="1.0"/><circle cx="16.6" cy="22.0" r="0.9"/><circle cx="17.9" cy="22.2" r="1.1"/><circle cx="20.4" cy="21.9" r="0.9"/><circle cx="22.3" cy="21.7" r="1.0"/><circle cx="29.0" cy="22.3" r="1.1"/><circle cx="36.2" cy="22.1" r="0.8"/><circle cx="37.7" cy="21.7" r="0.8"/><circle cx="40.6" cy="22.2" r="1.0"/><circle cx="43.6" cy="22.4" r="1.0"/><circle cx="46.7" cy="22.3" r="1.0"/><circle cx="47.9" cy="21.8" r="0.8"/><circle cx="51.1" cy="21.9" r="1.1"/><circle cx="55.6" cy="22.0" r="0.7"/><circle cx="3.5" cy="23.3" r="0.8"/><circle cx="5.7" cy="23.2" r="0.9"/><circle cx="7.3" cy="23.8" r="0.8"/><circle cx="10.1" cy="23.9" r="0.7"/><circle cx="11.9" cy="23.8" r="1.1"/><circle cx="14.5" cy="23.5" r="0.8"/><circle cx="17.7" cy="23.5" r="0.8"/><circle cx="19.1" cy="23.4" r="1.1"/><circle cx="20.2" cy="23.1" r="0.8"/><circle cx="24.7" cy="23.4" r="0.8"/><circle cx="28.2" cy="23.1" r="0.9"/><circle cx="29.3" cy="23.5" r="0.7"/><circle cx="33.3" cy="23.7" r="1.0"/><circle cx="38.1" cy="23.8" r="0.7"/><circle cx="42.2" cy="23.9" r="0.9"/><circle cx="51.3" cy="23.8" r="0.7"/><circle cx="52.6" cy="23.7" r="1.0"/><circle cx="53.9" cy="23.9" r="0.8"/><circle cx="56.6" cy="23.7" r="0.8"/><circle cx="3.3" cy="25.3" r="0.7"/><circle cx="6.2" cy="24.6" r="1.0"/><circle cx="10.2" cy="24.9" r="0.8"/><circle cx="16.2" cy="25.0" r="0.8"/><circle cx="23.8" cy="25.0" r="0.8"/><circle cx="25.0" cy="25.3" r="1.0"/><circle cx="27.6" cy="25.3" r="1.0"/><circle cx="30.4" cy="24.7" r="0.8"/><circle cx="36.8" cy="25.3" r="0.8"/><circle cx="38.3" cy="24.9" r="0.8"/><circle cx="39.6" cy="25.1" r="0.9"/><circle cx="44.9" cy="24.7" r="1.1"/><circle cx="48.0" cy="25.2" r="0.7"/><circle cx="49.6" cy="25.1" r="0.7"/><circle cx="50.9" cy="24.7" r="1.1"/><circle cx="55.7" cy="25.0" r="0.9"/><circle cx="2.1" cy="26.2" r="0.8"/><circle cx="3.1" cy="26.2" r="1.0"/><circle cx="10.7" cy="26.0" r="1.0"/><circle cx="15.0" cy="26.5" r="1.0"/><circle cx="17.7" cy="26.5" r="1.0"/><circle cx="20.4" cy="26.5" r="1.0"/><circle cx="22.4" cy="26.3" r="0.7"/><circle cx="29.1" cy="26.2" r="0.8"/><circle cx="30.4" cy="26.5" r="1.0"/><circle cx="32.6" cy="26.4" r="1.0"/><circle cx="33.3" cy="26.7" r="0.7"/><circle cx="43.4" cy="26.0" r="0.9"/><circle cx="44.9" cy="26.7" r="0.7"/><circle cx="48.1" cy="26.1" r="1.1"/><circle cx="51.4" cy="26.3" r="1.0"/><circle cx="52.4" cy="26.5" r="0.8"/><circle cx="54.2" cy="26.2" r="1.1"/><circle cx="56.7" cy="26.1" r="1.0"/><circle cx="0.4" cy="27.5" r="0.7"/><circle cx="4.9" cy="28.2" r="1.0"/><circle cx="6.3" cy="27.5" r="1.0"/><circle cx="9.3" cy="28.0" r="1.0"/><circle cx="13.7" cy="27.9" r="0.7"/><circle cx="15.2" cy="28.1" r="1.0"/><circle cx="22.3" cy="27.7" r="0.8"/><circle cx="23.7" cy="28.1" r="0.8"/><circle cx="30.7" cy="28.2" r="0.9"/><circle cx="33.4" cy="27.7" r="0.9"/><circle cx="36.4" cy="27.6" r="0.8"/><circle cx="42.7" cy="28.1" r="0.9"/><circle cx="45.1" cy="27.9" r="0.8"/><circle cx="46.4" cy="27.9" r="1.0"/><circle cx="47.8" cy="27.6" r="0.8"/><circle cx="49.8" cy="27.9" r="0.7"/><circle cx="53.8" cy="27.6" r="0.7"/><circle cx="55.8" cy="28.0" r="1.0"/><circle cx="56.8" cy="28.2" r="1.1"/><circle cx="6.5" cy="29.7" r="0.9"/><circle cx="10.7" cy="29.5" r="0.8"/><circle cx="11.5" cy="29.0" r="0.8"/><circle cx="14.4" cy="29.2" r="0.7"/><circle cx="17.8" cy="29.3" r="1.0"/><circle cx="19.1" cy="28.9" r="0.7"/><circle cx="20.7" cy="29.7" r="1.0"/><circle cx="22.4" cy="29.2" r="0.9"/><circle cx="30.4" cy="29.1" r="0.8"/><circle cx="31.9" cy="29.4" r="0.9"/><circle cx="35.4" cy="29.5" r="1.1"/><circle cx="37.8" cy="29.1" r="1.0"/><circle cx="39.2" cy="29.4" r="0.7"/><circle cx="45.2" cy="29.2" r="0.9"/><circle cx="53.6" cy="29.4" r="0.7"/><circle cx="55.6" cy="29.2" r="1.0"/><circle cx="5.8" cy="31.1" r="0.9"/><circle cx="16.5" cy="30.5" r="0.7"/><circle cx="17.5" cy="30.9" r="0.8"/><circle cx="21.0" cy="31.0" r="0.9"/><circle cx="27.8" cy="30.9" r="1.1"/><circle cx="29.6" cy="31.1" r="1.0"/><circle cx="30.9" cy="30.7" r="0.8"/><circle cx="32.0" cy="30.7" r="0.8"/><circle cx="33.7" cy="30.6" r="1.0"/><circle cx="37.8" cy="30.6" r="0.8"/><circle cx="39.7" cy="30.6" r="0.8"/><circle cx="43.7" cy="31.1" r="0.9"/><circle cx="52.8" cy="30.6" r="0.7"/><circle cx="54.3" cy="31.1" r="0.8"/><circle cx="16.5" cy="31.9" r="0.8"/><circle cx="18.8" cy="32.4" r="1.0"/><circle cx="20.3" cy="32.4" r="1.1"/><circle cx="21.9" cy="32.1" r="1.1"/><circle cx="30.7" cy="32.0" r="1.1"/><circle cx="32.1" cy="32.0" r="0.9"/><circle cx="33.7" cy="32.1" r="0.8"/><circle cx="36.3" cy="32.5" r="1.1"/><circle cx="39.7" cy="31.9" r="0.7"/><circle cx="44.1" cy="32.5" r="0.7"/><circle cx="45.1" cy="32.0" r="0.7"/><circle cx="48.3" cy="32.0" r="0.7"/><circle cx="49.5" cy="32.2" r="0.8"/><circle cx="55.6" cy="32.4" r="1.1"/><circle cx="57.1" cy="32.3" r="0.8"/><circle cx="17.8" cy="33.5" r="0.8"/><circle cx="19.0" cy="33.7" r="0.9"/><circle cx="20.9" cy="33.5" r="1.0"/><circle cx="21.7" cy="33.5" r="0.8"/><circle cx="32.3" cy="33.4" r="0.9"/><circle cx="47.9" cy="33.5" r="1.0"/><circle cx="52.1" cy="33.8" r="0.8"/><circle cx="54.3" cy="33.9" r="0.8"/><circle cx="17.5" cy="35.4" r="0.7"/><circle cx="19.1" cy="35.5" r="0.8"/><circle cx="32.2" cy="35.4" r="0.8"/><circle cx="55.2" cy="34.8" r="1.0"/><circle cx="32.2" cy="36.6" r="0.8"/><circle cx="33.6" cy="36.4" r="0.9"/><circle cx="35.1" cy="36.6" r="1.0"/><circle cx="38.3" cy="36.9" r="0.7"/><circle cx="56.6" cy="36.8" r="0.7"/><circle cx="32.2" cy="37.6" r="1.1"/><circle cx="39.1" cy="37.6" r="1.0"/><circle cx="48.2" cy="38.1" r="1.0"/><circle cx="50.7" cy="37.7" r="0.7"/><circle cx="52.6" cy="38.3" r="0.9"/><circle cx="56.6" cy="38.1" r="0.9"/><circle cx="31.1" cy="39.1" r="0.7"/><circle cx="29.2" cy="40.7" r="0.8"/><circle cx="43.6" cy="40.9" r="1.0"/></g><g fill="#0a0ad8"><circle cx="49.6" cy="0.4" r="0.8"/><circle cx="52.5" cy="0.1" r="0.8"/><circle cx="55.2" cy="-0.1" r="0.8"/><circle cx="52.4" cy="1.5" r="1.1"/><circle cx="54.2" cy="1.4" r="1.1"/><circle cx="55.3" cy="1.7" r="1.0"/><circle cx="52.1" cy="3.3" r="1.0"/><circle cx="54.2" cy="3.3" r="0.8"/><circle cx="57.2" cy="3.3" r="0.8"/><circle cx="17.9" cy="5.0" r="0.7"/><circle cx="37.8" cy="4.4" r="0.8"/><circle cx="52.7" cy="4.4" r="0.9"/><circle cx="54.3" cy="4.9" r="1.0"/><circle cx="12.1" cy="5.9" r="1.1"/><circle cx="13.6" cy="6.4" r="0.9"/><circle cx="14.8" cy="6.5" r="1.0"/><circle cx="19.1" cy="6.4" r="1.0"/><circle cx="26.4" cy="6.2" r="0.9"/><circle cx="35.2" cy="6.5" r="1.0"/><circle cx="12.1" cy="7.8" r="1.0"/><circle cx="19.0" cy="7.5" r="1.1"/><circle cx="36.6" cy="7.3" r="1.0"/><circle cx="38.0" cy="7.2" r="0.8"/><circle cx="42.2" cy="7.2" r="0.9"/><circle cx="55.1" cy="7.4" r="1.0"/><circle cx="11.8" cy="9.1" r="0.9"/><circle cx="14.9" cy="9.0" r="0.7"/><circle cx="16.0" cy="8.8" r="0.9"/><circle cx="19.1" cy="8.7" r="0.8"/><circle cx="20.6" cy="9.0" r="1.0"/><circle cx="22.2" cy="8.6" r="0.8"/><circle cx="48.2" cy="8.9" r="0.7"/><circle cx="53.9" cy="9.2" r="0.9"/><circle cx="57.0" cy="9.0" r="0.8"/><circle cx="9.0" cy="10.4" r="0.9"/><circle cx="10.6" cy="10.2" r="0.9"/><circle cx="14.5" cy="10.7" r="1.0"/><circle cx="18.1" cy="10.1" r="0.8"/><circle cx="22.2" cy="10.3" r="0.8"/><circle cx="23.8" cy="10.8" r="0.8"/><circle cx="26.6" cy="10.6" r="1.0"/><circle cx="30.9" cy="10.4" r="0.9"/><circle cx="42.6" cy="10.3" r="0.7"/><circle cx="44.1" cy="10.7" r="0.9"/><circle cx="48.0" cy="10.2" r="1.0"/><circle cx="49.4" cy="10.4" r="1.0"/><circle cx="51.1" cy="10.4" r="0.8"/><circle cx="52.2" cy="10.7" r="0.7"/><circle cx="14.8" cy="11.6" r="1.1"/><circle cx="20.7" cy="11.7" r="0.9"/><circle cx="26.0" cy="11.7" r="1.0"/><circle cx="28.2" cy="12.2" r="0.7"/><circle cx="30.8" cy="11.7" r="0.9"/><circle cx="41.3" cy="12.1" r="1.0"/><circle cx="45.3" cy="11.8" r="0.7"/><circle cx="47.0" cy="11.7" r="1.0"/><circle cx="48.4" cy="11.8" r="1.1"/><circle cx="51.4" cy="11.8" r="0.8"/><circle cx="52.6" cy="12.0" r="0.9"/><circle cx="6.4" cy="13.2" r="1.1"/><circle cx="19.3" cy="13.7" r="0.7"/><circle cx="21.8" cy="13.0" r="0.7"/><circle cx="25.3" cy="13.2" r="1.1"/><circle cx="42.6" cy="13.4" r="0.9"/><circle cx="45.2" cy="13.3" r="1.0"/><circle cx="46.7" cy="13.4" r="1.0"/><circle cx="51.2" cy="13.7" r="1.0"/><circle cx="54.2" cy="13.0" r="1.0"/><circle cx="55.2" cy="13.0" r="0.8"/><circle cx="10.3" cy="14.6" r="0.9"/><circle cx="13.7" cy="14.9" r="0.9"/><circle cx="17.9" cy="14.6" r="0.9"/><circle cx="20.6" cy="14.7" r="0.9"/><circle cx="23.3" cy="14.5" r="0.9"/><circle cx="33.4" cy="14.6" r="0.8"/><circle cx="39.4" cy="14.4" r="0.8"/><circle cx="45.1" cy="14.9" r="0.9"/><circle cx="46.8" cy="14.5" r="0.8"/><circle cx="52.5" cy="15.1" r="1.0"/><circle cx="55.7" cy="15.1" r="1.1"/><circle cx="10.6" cy="16.0" r="0.9"/><circle cx="20.9" cy="16.5" r="0.9"/><circle cx="26.3" cy="15.9" r="1.1"/><circle cx="32.2" cy="16.2" r="1.0"/><circle cx="44.9" cy="16.1" r="1.0"/><circle cx="47.1" cy="16.3" r="1.1"/><circle cx="55.2" cy="16.1" r="1.0"/><circle cx="10.4" cy="17.3" r="0.9"/><circle cx="13.5" cy="18.0" r="0.9"/><circle cx="14.9" cy="17.5" r="0.7"/><circle cx="23.4" cy="17.4" r="1.1"/><circle cx="38.3" cy="17.9" r="0.8"/><circle cx="39.2" cy="17.9" r="0.9"/><circle cx="43.8" cy="18.0" r="0.9"/><circle cx="53.9" cy="17.9" r="0.8"/><circle cx="56.8" cy="17.7" r="0.9"/><circle cx="2.1" cy="19.2" r="0.9"/><circle cx="5.9" cy="19.2" r="0.8"/><circle cx="8.9" cy="19.0" r="0.9"/><circle cx="11.7" cy="19.1" r="1.0"/><circle cx="15.9" cy="19.2" r="0.8"/><circle cx="19.1" cy="18.9" r="0.9"/><circle cx="36.4" cy="18.8" r="0.9"/><circle cx="40.7" cy="19.4" r="1.0"/><circle cx="42.0" cy="19.1" r="0.7"/><circle cx="44.2" cy="19.2" r="1.0"/><circle cx="49.2" cy="19.3" r="0.9"/><circle cx="3.2" cy="20.2" r="0.7"/><circle cx="5.0" cy="20.5" r="0.9"/><circle cx="14.6" cy="20.4" r="0.9"/><circle cx="16.3" cy="20.5" r="0.7"/><circle cx="20.6" cy="20.4" r="0.8"/><circle cx="22.0" cy="20.7" r="0.8"/><circle cx="25.1" cy="20.7" r="0.9"/><circle cx="29.1" cy="20.9" r="1.0"/><circle cx="36.9" cy="20.6" r="1.0"/><circle cx="41.0" cy="20.7" r="0.9"/><circle cx="42.7" cy="20.6" r="0.9"/><circle cx="6.3" cy="21.7" r="0.8"/><circle cx="7.7" cy="22.4" r="1.1"/><circle cx="9.2" cy="22.0" r="0.7"/><circle cx="13.4" cy="21.7" r="0.8"/><circle cx="14.5" cy="21.9" r="1.0"/><circle cx="18.9" cy="21.9" r="0.9"/><circle cx="24.6" cy="22.2" r="1.1"/><circle cx="27.8" cy="22.4" r="0.7"/><circle cx="42.4" cy="22.4" r="0.9"/><circle cx="52.1" cy="21.8" r="1.0"/><circle cx="53.8" cy="21.8" r="0.9"/><circle cx="56.6" cy="22.1" r="1.0"/><circle cx="-0.1" cy="23.9" r="0.9"/><circle cx="1.5" cy="23.3" r="0.8"/><circle cx="9.3" cy="23.6" r="1.0"/><circle cx="22.0" cy="23.8" r="1.0"/><circle cx="23.8" cy="23.8" r="0.7"/><circle cx="43.9" cy="23.2" r="1.0"/><circle cx="45.5" cy="23.2" r="0.9"/><circle cx="46.3" cy="23.7" r="1.1"/><circle cx="48.4" cy="23.9" r="0.9"/><circle cx="49.9" cy="23.6" r="0.8"/><circle cx="55.0" cy="23.2" r="0.9"/><circle cx="1.7" cy="25.1" r="1.0"/><circle cx="4.3" cy="24.8" r="0.9"/><circle cx="7.9" cy="24.8" r="1.0"/><circle cx="14.8" cy="25.2" r="0.9"/><circle cx="18.0" cy="24.6" r="1.0"/><circle cx="18.9" cy="24.9" r="1.0"/><circle cx="22.2" cy="24.8" r="0.8"/><circle cx="31.9" cy="25.0" r="1.0"/><circle cx="33.3" cy="24.6" r="0.9"/><circle cx="42.0" cy="25.0" r="1.1"/><circle cx="46.8" cy="25.3" r="1.0"/><circle cx="54.3" cy="24.6" r="0.9"/><circle cx="56.5" cy="24.6" r="0.8"/><circle cx="4.8" cy="26.0" r="1.0"/><circle cx="7.7" cy="26.4" r="0.9"/><circle cx="8.9" cy="26.7" r="1.0"/><circle cx="12.0" cy="26.5" r="0.9"/><circle cx="25.1" cy="26.4" r="0.9"/><circle cx="26.8" cy="26.3" r="0.8"/><circle cx="28.1" cy="26.6" r="0.7"/><circle cx="38.1" cy="26.7" r="0.7"/><circle cx="40.8" cy="26.4" r="1.0"/><circle cx="46.5" cy="26.7" r="1.1"/><circle cx="7.3" cy="27.8" r="0.7"/><circle cx="10.3" cy="28.1" r="0.8"/><circle cx="16.6" cy="27.5" r="1.0"/><circle cx="19.5" cy="27.7" r="0.8"/><circle cx="24.8" cy="27.7" r="0.7"/><circle cx="26.8" cy="27.6" r="1.0"/><circle cx="27.9" cy="28.1" r="0.9"/><circle cx="32.4" cy="28.2" r="1.1"/><circle cx="34.9" cy="28.1" r="0.8"/><circle cx="37.8" cy="27.7" r="1.1"/><circle cx="39.4" cy="27.7" r="0.8"/><circle cx="40.8" cy="27.6" r="0.8"/><circle cx="51.0" cy="27.6" r="1.0"/><circle cx="52.7" cy="27.9" r="0.8"/><circle cx="0.4" cy="29.3" r="0.8"/><circle cx="7.7" cy="29.4" r="0.8"/><circle cx="8.8" cy="29.1" r="0.7"/><circle cx="13.0" cy="29.2" r="0.7"/><circle cx="16.4" cy="29.0" r="1.0"/><circle cx="27.6" cy="29.4" r="0.8"/><circle cx="29.3" cy="29.1" r="1.0"/><circle cx="33.5" cy="29.4" r="0.8"/><circle cx="36.8" cy="29.2" r="1.0"/><circle cx="42.0" cy="29.2" r="0.7"/><circle cx="10.6" cy="30.5" r="1.0"/><circle cx="13.0" cy="30.5" r="1.0"/><circle cx="21.7" cy="30.8" r="0.8"/><circle cx="23.4" cy="30.8" r="0.9"/><circle cx="26.6" cy="30.6" r="0.9"/><circle cx="36.5" cy="30.4" r="0.8"/><circle cx="42.0" cy="30.7" r="0.9"/><circle cx="45.6" cy="30.8" r="0.7"/><circle cx="49.3" cy="30.5" r="0.8"/><circle cx="5.8" cy="32.2" r="0.8"/><circle cx="17.5" cy="32.1" r="1.0"/><circle cx="38.4" cy="32.6" r="1.0"/><circle cx="47.0" cy="31.9" r="0.9"/><circle cx="53.6" cy="32.4" r="0.8"/><circle cx="30.8" cy="34.0" r="1.0"/><circle cx="33.6" cy="34.0" r="0.9"/><circle cx="36.6" cy="33.6" r="0.7"/><circle cx="38.3" cy="33.7" r="0.8"/><circle cx="39.2" cy="33.5" r="0.8"/><circle cx="47.0" cy="33.3" r="0.7"/><circle cx="51.1" cy="33.3" r="0.7"/><circle cx="55.2" cy="33.3" r="1.1"/><circle cx="57.0" cy="33.6" r="0.8"/><circle cx="16.6" cy="35.0" r="1.0"/><circle cx="20.8" cy="35.2" r="0.7"/><circle cx="33.8" cy="35.0" r="1.0"/><circle cx="39.1" cy="35.5" r="0.9"/><circle cx="57.0" cy="35.3" r="0.9"/><circle cx="37.9" cy="37.9" r="1.0"/><circle cx="49.2" cy="37.7" r="1.1"/><circle cx="55.7" cy="38.1" r="0.8"/><circle cx="28.2" cy="41.2" r="0.8"/><circle cx="54.0" cy="41.3" r="0.7"/></g><g fill="#2828ff"><circle cx="33.3" cy="0.4" r="0.9"/><circle cx="38.1" cy="0.5" r="1.0"/><circle cx="57.2" cy="0.6" r="0.9"/><circle cx="51.1" cy="1.5" r="1.0"/><circle cx="56.6" cy="1.9" r="0.7"/><circle cx="49.9" cy="2.8" r="0.7"/><circle cx="35.1" cy="5.0" r="1.0"/><circle cx="36.7" cy="4.7" r="1.1"/><circle cx="50.0" cy="4.6" r="1.1"/><circle cx="51.4" cy="4.9" r="1.1"/><circle cx="0.0" cy="6.2" r="0.9"/><circle cx="10.7" cy="5.7" r="0.8"/><circle cx="24.8" cy="6.4" r="1.0"/><circle cx="36.4" cy="6.0" r="1.1"/><circle cx="38.1" cy="6.4" r="1.1"/><circle cx="14.8" cy="7.9" r="0.7"/><circle cx="17.7" cy="7.5" r="1.1"/><circle cx="21.7" cy="7.9" r="1.0"/><circle cx="8.9" cy="9.4" r="0.8"/><circle cx="10.6" cy="9.3" r="0.9"/><circle cx="13.4" cy="9.0" r="0.8"/><circle cx="23.2" cy="9.3" r="0.7"/><circle cx="33.7" cy="8.6" r="1.1"/><circle cx="45.6" cy="9.3" r="1.0"/><circle cx="52.4" cy="8.9" r="0.8"/><circle cx="16.1" cy="10.2" r="1.1"/><circle cx="20.2" cy="10.7" r="1.1"/><circle cx="25.0" cy="10.4" r="1.0"/><circle cx="22.4" cy="11.9" r="1.0"/><circle cx="28.9" cy="11.8" r="0.9"/><circle cx="32.0" cy="11.8" r="1.0"/><circle cx="42.3" cy="12.2" r="0.9"/><circle cx="54.2" cy="11.9" r="0.9"/><circle cx="13.3" cy="13.5" r="0.8"/><circle cx="20.7" cy="13.6" r="0.9"/><circle cx="26.2" cy="13.7" r="0.7"/><circle cx="33.4" cy="13.5" r="0.8"/><circle cx="37.7" cy="13.5" r="1.0"/><circle cx="40.8" cy="13.5" r="1.0"/><circle cx="43.8" cy="13.5" r="0.9"/><circle cx="18.8" cy="14.7" r="0.9"/><circle cx="25.2" cy="15.0" r="1.0"/><circle cx="27.9" cy="14.8" r="0.7"/><circle cx="41.1" cy="14.6" r="0.8"/><circle cx="56.5" cy="14.5" r="1.0"/><circle cx="14.7" cy="16.3" r="1.1"/><circle cx="19.0" cy="16.6" r="0.9"/><circle cx="30.8" cy="16.6" r="0.9"/><circle cx="37.9" cy="16.3" r="1.0"/><circle cx="41.0" cy="16.5" r="1.0"/><circle cx="54.1" cy="15.9" r="0.9"/><circle cx="3.5" cy="17.6" r="0.9"/><circle cx="7.6" cy="17.8" r="1.0"/><circle cx="16.1" cy="17.4" r="0.9"/><circle cx="19.1" cy="17.3" r="0.8"/><circle cx="20.2" cy="17.8" r="0.9"/><circle cx="22.4" cy="17.4" r="0.8"/><circle cx="26.4" cy="17.4" r="0.9"/><circle cx="40.6" cy="18.0" r="0.8"/><circle cx="45.0" cy="17.7" r="0.9"/><circle cx="48.5" cy="17.8" r="0.8"/><circle cx="7.9" cy="19.4" r="0.8"/><circle cx="13.1" cy="19.1" r="1.1"/><circle cx="22.1" cy="19.3" r="1.0"/><circle cx="38.3" cy="19.3" r="0.8"/><circle cx="39.1" cy="19.3" r="0.7"/><circle cx="51.1" cy="18.8" r="1.0"/><circle cx="54.2" cy="19.3" r="1.0"/><circle cx="5.8" cy="20.6" r="1.0"/><circle cx="7.7" cy="20.6" r="0.9"/><circle cx="13.5" cy="20.3" r="0.9"/><circle cx="27.6" cy="21.0" r="1.1"/><circle cx="30.6" cy="20.3" r="1.1"/><circle cx="55.6" cy="20.2" r="0.9"/><circle cx="3.0" cy="21.9" r="1.0"/><circle cx="4.7" cy="21.7" r="1.0"/><circle cx="10.4" cy="22.3" r="0.7"/><circle cx="23.7" cy="22.3" r="1.1"/><circle cx="26.4" cy="22.3" r="0.8"/><circle cx="39.5" cy="22.1" r="1.0"/><circle cx="49.3" cy="22.1" r="1.1"/><circle cx="4.3" cy="23.1" r="1.0"/><circle cx="13.1" cy="23.1" r="0.7"/><circle cx="16.1" cy="23.3" r="0.9"/><circle cx="26.0" cy="23.3" r="1.0"/><circle cx="35.2" cy="23.5" r="0.8"/><circle cx="36.6" cy="23.7" r="1.1"/><circle cx="39.4" cy="23.5" r="0.8"/><circle cx="41.0" cy="23.8" r="0.9"/><circle cx="0.4" cy="25.2" r="0.9"/><circle cx="8.6" cy="25.0" r="0.8"/><circle cx="11.9" cy="25.0" r="0.7"/><circle cx="13.1" cy="25.3" r="1.0"/><circle cx="20.6" cy="25.0" r="0.8"/><circle cx="26.0" cy="25.1" r="0.8"/><circle cx="34.9" cy="25.0" r="0.7"/><circle cx="40.6" cy="24.6" r="1.1"/><circle cx="44.2" cy="24.7" r="1.0"/><circle cx="52.6" cy="24.9" r="1.0"/><circle cx="0.2" cy="26.4" r="0.8"/><circle cx="5.9" cy="26.6" r="1.0"/><circle cx="13.6" cy="26.8" r="0.7"/><circle cx="16.2" cy="26.0" r="1.1"/><circle cx="19.2" cy="26.6" r="0.9"/><circle cx="23.4" cy="26.8" r="1.1"/><circle cx="35.2" cy="26.0" r="0.9"/><circle cx="36.2" cy="26.7" r="1.1"/><circle cx="39.8" cy="26.7" r="0.8"/><circle cx="42.2" cy="26.7" r="1.1"/><circle cx="49.7" cy="26.6" r="0.9"/><circle cx="55.2" cy="26.5" r="0.8"/><circle cx="1.8" cy="27.6" r="0.8"/><circle cx="12.0" cy="27.6" r="0.8"/><circle cx="17.6" cy="28.1" r="0.8"/><circle cx="20.5" cy="27.9" r="1.0"/><circle cx="29.0" cy="27.6" r="0.9"/><circle cx="44.1" cy="27.5" r="0.9"/><circle cx="23.2" cy="29.3" r="0.9"/><circle cx="25.1" cy="29.1" r="0.9"/><circle cx="26.2" cy="29.1" r="0.8"/><circle cx="40.7" cy="29.5" r="0.8"/><circle cx="43.9" cy="29.5" r="1.0"/><circle cx="52.6" cy="29.5" r="0.7"/><circle cx="56.5" cy="29.2" r="0.9"/><circle cx="19.2" cy="31.1" r="0.9"/><circle cx="25.3" cy="30.8" r="0.7"/><circle cx="34.9" cy="30.7" r="0.8"/><circle cx="40.9" cy="30.9" r="1.1"/><circle cx="47.1" cy="30.9" r="0.8"/><circle cx="47.8" cy="31.0" r="0.7"/><circle cx="51.2" cy="30.8" r="0.7"/><circle cx="55.8" cy="30.6" r="1.0"/><circle cx="57.1" cy="31.0" r="0.9"/><circle cx="23.1" cy="31.9" r="0.9"/><circle cx="24.6" cy="32.4" r="0.9"/><circle cx="34.8" cy="32.4" r="1.0"/><circle cx="51.4" cy="31.8" r="0.8"/><circle cx="52.5" cy="32.4" r="0.7"/><circle cx="35.4" cy="33.7" r="0.7"/><circle cx="30.8" cy="34.9" r="0.9"/><circle cx="35.0" cy="35.0" r="0.8"/><circle cx="36.3" cy="35.1" r="1.1"/><circle cx="38.4" cy="35.2" r="0.8"/><circle cx="41.2" cy="35.1" r="1.0"/><circle cx="19.4" cy="36.3" r="0.7"/><circle cx="30.7" cy="36.3" r="0.9"/><circle cx="36.9" cy="36.3" r="1.1"/><circle cx="39.5" cy="36.4" r="1.0"/><circle cx="51.3" cy="39.6" r="0.8"/><circle cx="57.0" cy="39.8" r="0.8"/><circle cx="40.9" cy="41.2" r="0.9"/><circle cx="42.7" cy="40.5" r="0.7"/><circle cx="55.7" cy="40.9" r="0.9"/></g></g><g id="bF"><g fill="#1414ff"><circle cx="0.2" cy="-0.0" r="0.8"/><circle cx="3.0" cy="0.5" r="0.9"/><circle cx="17.4" cy="0.7" r="0.8"/><circle cx="19.5" cy="0.0" r="1.1"/><circle cx="24.7" cy="0.6" r="0.8"/><circle cx="27.5" cy="0.0" r="0.8"/><circle cx="29.2" cy="0.1" r="0.8"/><circle cx="30.5" cy="0.4" r="0.8"/><circle cx="39.4" cy="0.7" r="0.8"/><circle cx="44.9" cy="-0.0" r="1.1"/><circle cx="47.0" cy="0.4" r="1.1"/><circle cx="48.0" cy="0.5" r="0.7"/><circle cx="50.7" cy="0.7" r="1.0"/><circle cx="16.0" cy="1.7" r="0.8"/><circle cx="42.2" cy="2.1" r="0.8"/><circle cx="46.7" cy="1.7" r="0.8"/><circle cx="48.0" cy="1.5" r="0.9"/><circle cx="49.6" cy="1.8" r="0.8"/><circle cx="52.6" cy="2.1" r="1.0"/><circle cx="53.7" cy="2.0" r="0.8"/><circle cx="17.8" cy="3.4" r="0.9"/><circle cx="18.9" cy="2.8" r="1.0"/><circle cx="22.0" cy="3.2" r="0.8"/><circle cx="23.3" cy="3.2" r="1.0"/><circle cx="36.6" cy="3.3" r="1.1"/><circle cx="38.0" cy="2.9" r="1.0"/><circle cx="39.2" cy="3.0" r="1.0"/><circle cx="42.4" cy="2.9" r="1.0"/><circle cx="45.3" cy="3.6" r="0.7"/><circle cx="19.3" cy="4.4" r="0.9"/><circle cx="22.2" cy="4.7" r="0.8"/><circle cx="23.5" cy="4.6" r="0.8"/><circle cx="27.9" cy="4.7" r="1.0"/><circle cx="37.7" cy="4.7" r="0.9"/><circle cx="45.2" cy="5.0" r="0.9"/><circle cx="50.9" cy="4.7" r="1.0"/><circle cx="23.8" cy="6.2" r="1.0"/><circle cx="24.7" cy="6.3" r="0.7"/><circle cx="26.6" cy="5.9" r="0.8"/><circle cx="28.1" cy="5.7" r="1.0"/><circle cx="34.0" cy="5.8" r="0.7"/><circle cx="36.4" cy="5.7" r="1.1"/><circle cx="37.9" cy="5.8" r="0.9"/><circle cx="42.6" cy="6.2" r="1.0"/><circle cx="44.1" cy="5.7" r="0.7"/><circle cx="48.3" cy="5.9" r="0.9"/><circle cx="52.6" cy="6.1" r="0.8"/><circle cx="7.3" cy="7.4" r="0.7"/><circle cx="10.3" cy="7.9" r="1.0"/><circle cx="11.6" cy="7.9" r="1.0"/><circle cx="21.9" cy="7.6" r="0.8"/><circle cx="23.4" cy="7.2" r="0.8"/><circle cx="24.9" cy="7.6" r="1.0"/><circle cx="26.4" cy="7.4" r="0.8"/><circle cx="28.2" cy="7.9" r="1.0"/><circle cx="29.0" cy="7.2" r="0.8"/><circle cx="35.3" cy="7.5" r="0.8"/><circle cx="36.4" cy="7.4" r="0.8"/><circle cx="48.2" cy="7.5" r="0.9"/><circle cx="9.1" cy="9.3" r="0.9"/><circle cx="19.1" cy="9.1" r="1.0"/><circle cx="20.5" cy="8.9" r="0.8"/><circle cx="22.2" cy="8.7" r="1.0"/><circle cx="23.6" cy="8.7" r="1.0"/><circle cx="25.2" cy="9.4" r="0.9"/><circle cx="32.4" cy="9.3" r="0.7"/><circle cx="38.3" cy="9.2" r="0.9"/><circle cx="39.3" cy="8.8" r="0.8"/><circle cx="43.6" cy="9.2" r="1.0"/><circle cx="7.2" cy="10.5" r="1.0"/><circle cx="10.4" cy="10.2" r="0.8"/><circle cx="12.0" cy="10.4" r="0.8"/><circle cx="13.2" cy="10.2" r="0.9"/><circle cx="19.4" cy="10.8" r="1.0"/><circle cx="20.9" cy="10.1" r="0.7"/><circle cx="30.4" cy="10.6" r="0.7"/><circle cx="31.9" cy="10.6" r="1.1"/><circle cx="36.4" cy="10.7" r="1.0"/><circle cx="42.3" cy="10.4" r="1.0"/><circle cx="46.6" cy="10.6" r="1.0"/><circle cx="48.3" cy="10.5" r="0.8"/><circle cx="5.9" cy="12.2" r="1.1"/><circle cx="7.8" cy="11.6" r="0.9"/><circle cx="10.1" cy="11.7" r="0.7"/><circle cx="11.7" cy="12.2" r="1.1"/><circle cx="20.3" cy="11.6" r="0.9"/><circle cx="32.4" cy="11.5" r="1.0"/><circle cx="36.5" cy="11.8" r="0.9"/><circle cx="39.6" cy="11.9" r="1.0"/><circle cx="48.0" cy="12.2" r="0.8"/><circle cx="7.4" cy="13.7" r="1.0"/><circle cx="19.0" cy="13.3" r="0.8"/><circle cx="20.9" cy="13.0" r="0.7"/><circle cx="32.3" cy="13.3" r="0.9"/><circle cx="36.5" cy="13.1" r="1.1"/><circle cx="39.4" cy="13.2" r="0.8"/><circle cx="40.7" cy="13.7" r="0.9"/><circle cx="42.0" cy="13.1" r="1.1"/><circle cx="44.9" cy="13.4" r="0.9"/><circle cx="9.2" cy="14.6" r="0.9"/><circle cx="30.4" cy="15.0" r="0.8"/><circle cx="33.4" cy="14.5" r="0.9"/><circle cx="35.3" cy="14.6" r="1.0"/><circle cx="39.3" cy="14.6" r="1.0"/><circle cx="40.8" cy="14.7" r="0.7"/><circle cx="44.2" cy="14.7" r="1.1"/><circle cx="49.8" cy="15.0" r="0.7"/><circle cx="15.9" cy="15.9" r="0.8"/><circle cx="21.8" cy="16.3" r="1.1"/><circle cx="30.7" cy="16.3" r="1.0"/><circle cx="32.1" cy="16.3" r="0.9"/><circle cx="34.8" cy="16.2" r="1.0"/><circle cx="37.8" cy="16.6" r="1.0"/><circle cx="39.1" cy="15.9" r="1.0"/><circle cx="40.6" cy="15.9" r="1.0"/><circle cx="42.7" cy="16.1" r="0.9"/><circle cx="43.9" cy="16.0" r="0.8"/><circle cx="44.9" cy="16.3" r="1.1"/><circle cx="21.0" cy="17.5" r="0.9"/><circle cx="30.4" cy="17.4" r="0.7"/><circle cx="38.3" cy="17.5" r="1.1"/><circle cx="39.6" cy="17.4" r="0.7"/><circle cx="43.7" cy="17.8" r="0.8"/><circle cx="51.3" cy="17.5" r="1.0"/><circle cx="52.2" cy="17.7" r="0.9"/><circle cx="19.1" cy="18.9" r="0.8"/><circle cx="26.2" cy="19.5" r="1.1"/><circle cx="32.0" cy="18.8" r="0.7"/><circle cx="35.3" cy="19.3" r="1.0"/><circle cx="36.8" cy="19.2" r="1.0"/><circle cx="38.0" cy="19.4" r="1.0"/><circle cx="45.2" cy="19.3" r="1.0"/><circle cx="46.9" cy="19.1" r="0.9"/><circle cx="49.5" cy="19.2" r="0.9"/><circle cx="50.7" cy="19.3" r="1.1"/><circle cx="16.5" cy="20.7" r="0.8"/><circle cx="27.6" cy="20.7" r="1.1"/><circle cx="29.3" cy="20.5" r="1.0"/><circle cx="31.8" cy="20.9" r="0.8"/><circle cx="43.9" cy="20.2" r="1.0"/><circle cx="45.2" cy="21.0" r="1.0"/><circle cx="46.9" cy="20.5" r="0.9"/><circle cx="47.9" cy="21.0" r="0.8"/><circle cx="49.8" cy="20.3" r="0.9"/><circle cx="15.0" cy="21.8" r="1.0"/><circle cx="16.1" cy="22.1" r="1.1"/><circle cx="17.5" cy="22.3" r="0.8"/><circle cx="18.9" cy="22.4" r="1.0"/><circle cx="28.0" cy="21.9" r="1.0"/><circle cx="53.6" cy="21.9" r="1.0"/><circle cx="14.6" cy="23.9" r="1.0"/><circle cx="16.6" cy="23.3" r="1.0"/><circle cx="13.6" cy="25.0" r="0.8"/><circle cx="18.0" cy="25.3" r="1.1"/><circle cx="19.0" cy="24.6" r="1.0"/><circle cx="27.6" cy="25.2" r="0.8"/><circle cx="43.5" cy="25.0" r="1.1"/><circle cx="46.4" cy="24.8" r="1.0"/><circle cx="12.1" cy="26.1" r="0.8"/><circle cx="13.2" cy="26.3" r="1.1"/><circle cx="14.9" cy="26.3" r="0.9"/><circle cx="19.2" cy="26.1" r="0.9"/><circle cx="23.5" cy="26.3" r="1.0"/><circle cx="26.2" cy="26.7" r="1.0"/><circle cx="28.0" cy="26.3" r="1.0"/><circle cx="43.7" cy="26.2" r="0.7"/><circle cx="45.5" cy="26.3" r="0.9"/><circle cx="16.3" cy="28.1" r="1.0"/><circle cx="19.5" cy="27.5" r="0.8"/><circle cx="20.4" cy="27.8" r="1.1"/><circle cx="23.4" cy="27.5" r="0.8"/><circle cx="25.3" cy="27.7" r="0.8"/><circle cx="29.7" cy="27.8" r="0.8"/><circle cx="16.3" cy="28.9" r="0.9"/><circle cx="17.5" cy="29.5" r="0.7"/><circle cx="22.0" cy="29.0" r="1.1"/><circle cx="27.8" cy="29.0" r="0.8"/><circle cx="29.1" cy="29.7" r="0.8"/><circle cx="30.4" cy="29.0" r="0.9"/><circle cx="55.1" cy="29.6" r="0.8"/><circle cx="16.4" cy="31.1" r="1.0"/><circle cx="27.5" cy="30.8" r="1.0"/><circle cx="30.5" cy="30.8" r="0.7"/><circle cx="32.1" cy="30.7" r="0.8"/><circle cx="2.1" cy="32.1" r="0.9"/><circle cx="12.2" cy="31.9" r="1.0"/><circle cx="13.3" cy="32.2" r="1.0"/><circle cx="17.8" cy="32.4" r="0.8"/><circle cx="25.0" cy="32.0" r="1.0"/><circle cx="28.1" cy="32.2" r="0.8"/><circle cx="29.3" cy="31.9" r="1.0"/><circle cx="30.4" cy="31.9" r="0.8"/><circle cx="32.3" cy="32.1" r="0.8"/><circle cx="35.5" cy="32.1" r="1.0"/><circle cx="3.2" cy="33.3" r="0.9"/><circle cx="12.0" cy="33.5" r="1.0"/><circle cx="15.2" cy="33.8" r="0.9"/><circle cx="27.7" cy="33.5" r="0.8"/><circle cx="29.5" cy="33.7" r="0.7"/><circle cx="32.3" cy="33.5" r="0.9"/><circle cx="35.5" cy="33.6" r="0.8"/><circle cx="36.8" cy="33.8" r="0.7"/><circle cx="42.0" cy="33.8" r="0.9"/><circle cx="13.6" cy="34.7" r="1.0"/><circle cx="16.3" cy="35.0" r="0.8"/><circle cx="17.5" cy="34.9" r="0.8"/><circle cx="29.0" cy="34.9" r="1.0"/><circle cx="30.9" cy="35.0" r="0.9"/><circle cx="32.0" cy="35.4" r="1.0"/><circle cx="33.3" cy="34.8" r="0.8"/><circle cx="35.1" cy="34.9" r="1.1"/><circle cx="36.5" cy="35.2" r="1.0"/><circle cx="17.3" cy="36.2" r="0.8"/><circle cx="19.5" cy="36.2" r="0.7"/><circle cx="20.5" cy="36.8" r="1.0"/><circle cx="23.4" cy="36.3" r="0.8"/><circle cx="26.3" cy="36.3" r="0.7"/><circle cx="35.2" cy="36.3" r="1.1"/><circle cx="4.7" cy="38.4" r="0.8"/><circle cx="7.2" cy="37.8" r="0.9"/><circle cx="15.0" cy="37.9" r="0.8"/><circle cx="17.6" cy="38.2" r="0.9"/><circle cx="20.2" cy="38.2" r="1.0"/><circle cx="22.4" cy="38.4" r="0.9"/><circle cx="23.1" cy="38.2" r="1.0"/><circle cx="24.6" cy="37.9" r="1.0"/><circle cx="29.2" cy="37.9" r="0.9"/><circle cx="31.9" cy="37.7" r="0.8"/><circle cx="19.5" cy="39.6" r="1.0"/><circle cx="21.7" cy="39.7" r="1.1"/><circle cx="28.2" cy="39.7" r="1.1"/><circle cx="30.8" cy="39.3" r="0.9"/><circle cx="3.4" cy="41.1" r="0.8"/><circle cx="21.8" cy="40.9" r="0.9"/><circle cx="23.3" cy="40.6" r="0.8"/><circle cx="24.6" cy="41.1" r="1.0"/><circle cx="26.1" cy="40.8" r="1.0"/></g><g fill="#0a0ad8"><circle cx="1.9" cy="0.2" r="0.8"/><circle cx="41.0" cy="0.2" r="1.0"/><circle cx="44.1" cy="0.3" r="0.9"/><circle cx="49.5" cy="0.0" r="0.7"/><circle cx="52.8" cy="0.1" r="0.9"/><circle cx="19.2" cy="1.7" r="0.8"/><circle cx="21.0" cy="1.5" r="1.0"/><circle cx="23.5" cy="1.5" r="0.8"/><circle cx="25.1" cy="1.9" r="1.0"/><circle cx="39.5" cy="1.7" r="0.9"/><circle cx="40.9" cy="1.9" r="0.7"/><circle cx="45.0" cy="2.0" r="1.0"/><circle cx="51.1" cy="2.0" r="0.8"/><circle cx="25.3" cy="3.3" r="0.7"/><circle cx="26.3" cy="3.2" r="0.7"/><circle cx="49.8" cy="3.5" r="0.7"/><circle cx="51.1" cy="3.1" r="0.9"/><circle cx="17.7" cy="4.6" r="1.1"/><circle cx="25.2" cy="5.0" r="1.0"/><circle cx="35.5" cy="4.9" r="0.9"/><circle cx="39.8" cy="5.0" r="0.8"/><circle cx="41.1" cy="4.8" r="0.8"/><circle cx="42.2" cy="4.4" r="1.0"/><circle cx="46.8" cy="4.9" r="1.1"/><circle cx="52.8" cy="4.5" r="0.7"/><circle cx="8.7" cy="5.9" r="1.0"/><circle cx="10.6" cy="6.1" r="0.8"/><circle cx="13.1" cy="5.9" r="1.0"/><circle cx="34.8" cy="6.3" r="0.9"/><circle cx="39.2" cy="5.7" r="0.8"/><circle cx="40.6" cy="5.9" r="0.9"/><circle cx="13.5" cy="7.5" r="0.9"/><circle cx="20.7" cy="7.6" r="1.0"/><circle cx="42.2" cy="7.6" r="0.9"/><circle cx="10.3" cy="8.8" r="0.7"/><circle cx="11.8" cy="9.3" r="0.7"/><circle cx="26.3" cy="9.4" r="1.0"/><circle cx="27.8" cy="9.4" r="1.1"/><circle cx="35.4" cy="8.7" r="1.0"/><circle cx="42.0" cy="9.4" r="0.9"/><circle cx="9.1" cy="10.2" r="0.9"/><circle cx="25.3" cy="10.7" r="0.7"/><circle cx="26.4" cy="10.5" r="0.8"/><circle cx="44.1" cy="10.4" r="0.9"/><circle cx="25.2" cy="12.0" r="0.9"/><circle cx="33.7" cy="11.7" r="0.7"/><circle cx="35.1" cy="12.0" r="1.0"/><circle cx="37.8" cy="12.1" r="0.8"/><circle cx="40.5" cy="12.2" r="1.0"/><circle cx="42.7" cy="11.8" r="0.9"/><circle cx="45.1" cy="11.5" r="0.7"/><circle cx="54.0" cy="12.1" r="0.8"/><circle cx="52.5" cy="13.0" r="0.9"/><circle cx="53.7" cy="13.7" r="0.9"/><circle cx="55.2" cy="13.1" r="0.8"/><circle cx="20.9" cy="14.7" r="0.9"/><circle cx="32.1" cy="15.0" r="1.0"/><circle cx="36.4" cy="14.5" r="1.0"/><circle cx="38.0" cy="15.1" r="0.7"/><circle cx="45.0" cy="14.8" r="1.0"/><circle cx="52.7" cy="14.7" r="1.0"/><circle cx="33.9" cy="16.6" r="1.0"/><circle cx="36.5" cy="16.2" r="0.8"/><circle cx="52.6" cy="16.5" r="0.8"/><circle cx="21.9" cy="17.4" r="1.0"/><circle cx="29.6" cy="18.0" r="0.9"/><circle cx="32.2" cy="17.3" r="1.0"/><circle cx="33.8" cy="18.1" r="1.0"/><circle cx="35.2" cy="17.7" r="1.0"/><circle cx="36.4" cy="17.9" r="0.7"/><circle cx="41.0" cy="18.0" r="0.9"/><circle cx="44.9" cy="17.6" r="0.9"/><circle cx="46.7" cy="17.9" r="0.9"/><circle cx="16.3" cy="19.5" r="0.9"/><circle cx="22.0" cy="18.8" r="0.9"/><circle cx="24.9" cy="19.5" r="0.9"/><circle cx="29.6" cy="19.4" r="0.8"/><circle cx="30.4" cy="18.8" r="0.9"/><circle cx="43.7" cy="19.0" r="0.8"/><circle cx="19.5" cy="20.3" r="1.0"/><circle cx="30.5" cy="20.5" r="1.0"/><circle cx="35.2" cy="20.3" r="0.7"/><circle cx="50.7" cy="21.0" r="0.9"/><circle cx="12.3" cy="22.1" r="0.8"/><circle cx="13.1" cy="22.1" r="1.0"/><circle cx="26.2" cy="22.4" r="1.0"/><circle cx="47.0" cy="21.9" r="1.1"/><circle cx="48.1" cy="22.3" r="0.8"/><circle cx="49.9" cy="22.3" r="1.0"/><circle cx="12.1" cy="23.5" r="0.8"/><circle cx="13.2" cy="23.5" r="0.9"/><circle cx="18.0" cy="23.8" r="0.9"/><circle cx="19.4" cy="23.6" r="0.8"/><circle cx="44.9" cy="23.9" r="0.9"/><circle cx="46.5" cy="23.8" r="0.8"/><circle cx="47.8" cy="23.6" r="1.0"/><circle cx="50.8" cy="23.4" r="1.0"/><circle cx="14.6" cy="25.3" r="0.9"/><circle cx="23.8" cy="24.7" r="0.8"/><circle cx="24.8" cy="25.0" r="0.9"/><circle cx="45.6" cy="24.9" r="0.8"/><circle cx="16.4" cy="26.4" r="0.8"/><circle cx="29.2" cy="26.8" r="0.9"/><circle cx="13.5" cy="28.2" r="0.9"/><circle cx="17.5" cy="28.1" r="0.9"/><circle cx="22.0" cy="27.8" r="1.1"/><circle cx="26.1" cy="27.9" r="0.9"/><circle cx="28.0" cy="27.6" r="0.9"/><circle cx="15.1" cy="29.0" r="0.7"/><circle cx="19.1" cy="29.6" r="1.0"/><circle cx="20.6" cy="29.5" r="0.9"/><circle cx="26.0" cy="29.3" r="0.7"/><circle cx="32.2" cy="29.6" r="0.8"/><circle cx="28.9" cy="30.7" r="1.0"/><circle cx="16.5" cy="32.3" r="0.9"/><circle cx="33.7" cy="32.2" r="0.8"/><circle cx="10.7" cy="33.4" r="0.8"/><circle cx="13.2" cy="33.6" r="0.8"/><circle cx="16.6" cy="33.9" r="1.0"/><circle cx="17.4" cy="33.5" r="0.9"/><circle cx="18.9" cy="34.0" r="0.9"/><circle cx="26.7" cy="33.6" r="0.9"/><circle cx="30.9" cy="33.6" r="1.0"/><circle cx="41.1" cy="34.0" r="0.7"/><circle cx="14.9" cy="34.7" r="0.9"/><circle cx="18.9" cy="35.0" r="0.7"/><circle cx="20.4" cy="35.3" r="0.9"/><circle cx="26.7" cy="35.0" r="0.7"/><circle cx="43.8" cy="34.8" r="1.0"/><circle cx="5.0" cy="36.7" r="1.0"/><circle cx="15.0" cy="36.4" r="0.9"/><circle cx="27.5" cy="36.7" r="0.8"/><circle cx="29.3" cy="36.2" r="1.1"/><circle cx="30.8" cy="36.3" r="1.0"/><circle cx="33.9" cy="36.7" r="0.8"/><circle cx="36.2" cy="36.5" r="1.1"/><circle cx="19.1" cy="37.7" r="1.0"/><circle cx="26.5" cy="38.1" r="0.8"/><circle cx="31.0" cy="37.8" r="0.7"/><circle cx="51.2" cy="37.7" r="1.0"/><circle cx="6.1" cy="39.2" r="0.9"/><circle cx="25.0" cy="39.2" r="1.0"/><circle cx="29.5" cy="39.4" r="0.8"/><circle cx="19.2" cy="40.8" r="0.9"/></g><g fill="#2828ff"><circle cx="20.2" cy="0.2" r="0.8"/><circle cx="26.5" cy="0.0" r="0.8"/><circle cx="32.4" cy="-0.1" r="0.7"/><circle cx="42.4" cy="0.3" r="1.1"/><circle cx="17.6" cy="1.7" r="1.0"/><circle cx="26.4" cy="1.4" r="1.0"/><circle cx="38.3" cy="1.9" r="0.8"/><circle cx="43.8" cy="1.7" r="0.9"/><circle cx="16.6" cy="3.0" r="1.0"/><circle cx="20.7" cy="3.1" r="0.9"/><circle cx="41.3" cy="3.1" r="0.8"/><circle cx="44.2" cy="3.3" r="1.0"/><circle cx="52.2" cy="2.8" r="0.9"/><circle cx="54.2" cy="3.3" r="0.8"/><circle cx="20.5" cy="4.3" r="1.0"/><circle cx="26.0" cy="4.5" r="1.0"/><circle cx="36.9" cy="4.8" r="1.0"/><circle cx="43.7" cy="4.6" r="1.1"/><circle cx="49.2" cy="4.6" r="0.7"/><circle cx="12.0" cy="5.9" r="1.0"/><circle cx="21.8" cy="5.9" r="1.0"/><circle cx="29.4" cy="6.1" r="0.7"/><circle cx="45.5" cy="6.1" r="1.1"/><circle cx="47.1" cy="6.2" r="0.8"/><circle cx="49.2" cy="6.2" r="1.0"/><circle cx="51.3" cy="5.8" r="1.0"/><circle cx="8.9" cy="7.5" r="1.0"/><circle cx="39.3" cy="7.5" r="0.9"/><circle cx="41.1" cy="7.9" r="0.8"/><circle cx="43.7" cy="7.2" r="0.7"/><circle cx="49.4" cy="7.8" r="1.0"/><circle cx="7.7" cy="9.2" r="1.1"/><circle cx="13.1" cy="8.9" r="0.8"/><circle cx="30.4" cy="8.8" r="1.0"/><circle cx="33.5" cy="8.6" r="0.9"/><circle cx="36.7" cy="8.9" r="0.8"/><circle cx="41.0" cy="9.1" r="0.8"/><circle cx="22.1" cy="10.5" r="0.9"/><circle cx="23.7" cy="10.6" r="0.8"/><circle cx="33.8" cy="10.5" r="1.0"/><circle cx="35.4" cy="10.3" r="0.7"/><circle cx="37.8" cy="10.4" r="1.0"/><circle cx="39.8" cy="10.3" r="0.9"/><circle cx="40.8" cy="10.5" r="0.8"/><circle cx="45.4" cy="10.6" r="1.0"/><circle cx="8.7" cy="11.8" r="0.9"/><circle cx="13.3" cy="11.9" r="0.9"/><circle cx="19.4" cy="11.6" r="0.9"/><circle cx="44.1" cy="11.7" r="1.0"/><circle cx="46.5" cy="12.3" r="0.7"/><circle cx="5.8" cy="13.3" r="0.9"/><circle cx="9.0" cy="13.4" r="0.9"/><circle cx="13.2" cy="13.0" r="1.0"/><circle cx="33.6" cy="13.1" r="0.9"/><circle cx="35.0" cy="13.5" r="1.0"/><circle cx="37.8" cy="13.5" r="1.0"/><circle cx="44.0" cy="13.1" r="0.8"/><circle cx="51.2" cy="13.6" r="0.8"/><circle cx="22.2" cy="14.9" r="0.9"/><circle cx="42.0" cy="14.8" r="0.9"/><circle cx="51.2" cy="15.0" r="1.0"/><circle cx="5.7" cy="16.2" r="0.8"/><circle cx="51.0" cy="16.2" r="0.8"/><circle cx="42.3" cy="17.7" r="1.0"/><circle cx="17.8" cy="19.5" r="1.0"/><circle cx="20.6" cy="19.3" r="0.9"/><circle cx="23.3" cy="19.3" r="0.8"/><circle cx="27.9" cy="18.9" r="1.0"/><circle cx="33.5" cy="19.5" r="1.0"/><circle cx="48.2" cy="19.3" r="1.0"/><circle cx="17.5" cy="20.4" r="0.8"/><circle cx="20.8" cy="20.4" r="0.9"/><circle cx="24.8" cy="20.5" r="1.1"/><circle cx="26.7" cy="20.7" r="1.0"/><circle cx="29.6" cy="22.1" r="1.0"/><circle cx="51.2" cy="22.3" r="0.8"/><circle cx="52.7" cy="22.0" r="0.9"/><circle cx="7.3" cy="23.3" r="0.9"/><circle cx="49.8" cy="23.6" r="0.9"/><circle cx="16.1" cy="24.9" r="1.1"/><circle cx="17.3" cy="26.7" r="0.9"/><circle cx="25.3" cy="26.7" r="0.9"/><circle cx="15.1" cy="27.6" r="0.7"/><circle cx="30.9" cy="28.1" r="0.8"/><circle cx="42.4" cy="27.9" r="1.1"/><circle cx="15.0" cy="30.8" r="1.0"/><circle cx="17.8" cy="30.4" r="0.9"/><circle cx="26.6" cy="30.6" r="1.0"/><circle cx="55.4" cy="31.0" r="1.0"/><circle cx="2.9" cy="32.1" r="1.0"/><circle cx="15.2" cy="32.5" r="0.9"/><circle cx="26.4" cy="32.5" r="0.9"/><circle cx="33.8" cy="33.5" r="1.1"/><circle cx="43.5" cy="33.6" r="1.0"/><circle cx="27.6" cy="35.4" r="0.8"/><circle cx="42.7" cy="35.4" r="0.8"/><circle cx="16.6" cy="36.2" r="0.7"/><circle cx="25.2" cy="36.4" r="0.8"/><circle cx="32.4" cy="36.2" r="1.0"/><circle cx="6.2" cy="37.8" r="0.8"/><circle cx="15.9" cy="38.2" r="1.0"/><circle cx="27.6" cy="38.2" r="0.9"/><circle cx="17.7" cy="39.4" r="0.9"/><circle cx="20.6" cy="39.4" r="0.8"/><circle cx="23.1" cy="39.4" r="0.7"/><circle cx="26.4" cy="39.2" r="1.1"/><circle cx="20.7" cy="41.0" r="1.1"/></g></g><g id="bG"><g fill="#1414ff"><circle cx="0.2" cy="0.4" r="1.0"/><circle cx="1.6" cy="0.2" r="0.9"/><circle cx="4.3" cy="0.1" r="1.0"/><circle cx="8.9" cy="0.5" r="1.0"/><circle cx="10.6" cy="0.4" r="1.0"/><circle cx="26.4" cy="0.1" r="0.8"/><circle cx="33.9" cy="0.2" r="1.0"/><circle cx="36.7" cy="0.0" r="0.8"/><circle cx="51.0" cy="0.1" r="0.9"/><circle cx="55.5" cy="-0.1" r="0.8"/><circle cx="56.5" cy="0.3" r="1.1"/><circle cx="11.9" cy="1.7" r="1.0"/><circle cx="13.3" cy="2.0" r="0.8"/><circle cx="24.7" cy="1.7" r="0.8"/><circle cx="26.1" cy="1.5" r="0.9"/><circle cx="28.9" cy="1.7" r="0.8"/><circle cx="31.1" cy="1.5" r="0.7"/><circle cx="31.9" cy="1.8" r="0.8"/><circle cx="35.1" cy="2.1" r="0.8"/><circle cx="36.4" cy="2.0" r="0.9"/><circle cx="39.1" cy="1.4" r="0.7"/><circle cx="44.1" cy="2.1" r="0.7"/><circle cx="45.3" cy="2.1" r="0.7"/><circle cx="47.0" cy="1.4" r="0.8"/><circle cx="54.0" cy="1.9" r="0.8"/><circle cx="55.1" cy="1.9" r="0.7"/><circle cx="57.1" cy="1.9" r="0.7"/><circle cx="10.6" cy="3.0" r="0.7"/><circle cx="12.0" cy="3.3" r="0.7"/><circle cx="25.3" cy="2.9" r="0.9"/><circle cx="28.1" cy="3.1" r="0.9"/><circle cx="31.9" cy="3.1" r="0.9"/><circle cx="36.4" cy="3.1" r="0.7"/><circle cx="44.1" cy="3.0" r="1.1"/><circle cx="46.8" cy="2.8" r="1.0"/><circle cx="49.4" cy="2.9" r="0.8"/><circle cx="52.9" cy="3.6" r="1.0"/><circle cx="12.1" cy="5.0" r="0.7"/><circle cx="31.1" cy="4.9" r="0.9"/><circle cx="34.0" cy="4.7" r="0.9"/><circle cx="36.3" cy="4.5" r="0.9"/><circle cx="39.1" cy="4.7" r="0.9"/><circle cx="40.7" cy="4.8" r="1.1"/><circle cx="45.0" cy="4.6" r="1.0"/><circle cx="46.5" cy="5.0" r="1.1"/><circle cx="48.1" cy="4.5" r="0.7"/><circle cx="50.0" cy="4.3" r="0.8"/><circle cx="52.6" cy="4.9" r="0.7"/><circle cx="54.3" cy="4.3" r="0.8"/><circle cx="55.2" cy="4.7" r="0.7"/><circle cx="57.2" cy="4.4" r="1.1"/><circle cx="0.7" cy="6.2" r="1.0"/><circle cx="1.4" cy="6.3" r="0.8"/><circle cx="23.7" cy="6.3" r="0.9"/><circle cx="27.6" cy="6.5" r="1.0"/><circle cx="30.7" cy="6.4" r="0.7"/><circle cx="35.1" cy="5.8" r="0.9"/><circle cx="36.6" cy="6.0" r="0.8"/><circle cx="39.7" cy="5.9" r="1.1"/><circle cx="40.6" cy="6.1" r="1.0"/><circle cx="42.5" cy="5.9" r="1.1"/><circle cx="45.3" cy="6.1" r="0.9"/><circle cx="46.6" cy="6.4" r="1.0"/><circle cx="52.4" cy="5.9" r="0.9"/><circle cx="56.6" cy="5.8" r="0.8"/><circle cx="23.5" cy="7.8" r="1.1"/><circle cx="28.2" cy="7.3" r="0.8"/><circle cx="30.8" cy="7.2" r="0.8"/><circle cx="33.8" cy="7.6" r="0.8"/><circle cx="38.2" cy="7.3" r="0.7"/><circle cx="39.3" cy="7.3" r="1.0"/><circle cx="42.3" cy="7.3" r="0.8"/><circle cx="44.9" cy="7.5" r="0.8"/><circle cx="46.5" cy="7.4" r="1.0"/><circle cx="50.8" cy="7.7" r="0.9"/><circle cx="55.7" cy="7.5" r="0.9"/><circle cx="0.7" cy="8.9" r="1.1"/><circle cx="6.1" cy="9.0" r="1.0"/><circle cx="23.4" cy="8.7" r="0.9"/><circle cx="27.5" cy="8.6" r="0.9"/><circle cx="31.1" cy="9.3" r="0.9"/><circle cx="33.3" cy="9.4" r="0.9"/><circle cx="41.1" cy="9.2" r="1.1"/><circle cx="42.5" cy="9.2" r="0.8"/><circle cx="44.2" cy="8.9" r="1.0"/><circle cx="45.4" cy="8.8" r="0.9"/><circle cx="51.1" cy="8.9" r="0.7"/><circle cx="57.0" cy="9.3" r="0.8"/><circle cx="4.7" cy="10.8" r="0.7"/><circle cx="5.8" cy="10.7" r="0.8"/><circle cx="8.6" cy="10.3" r="1.0"/><circle cx="40.8" cy="10.1" r="0.9"/><circle cx="42.5" cy="10.7" r="1.1"/><circle cx="43.9" cy="10.3" r="0.9"/><circle cx="45.1" cy="10.2" r="0.9"/><circle cx="47.1" cy="10.1" r="1.1"/><circle cx="51.1" cy="10.8" r="0.7"/><circle cx="55.4" cy="10.5" r="0.7"/><circle cx="57.0" cy="10.3" r="0.9"/><circle cx="1.7" cy="11.7" r="0.8"/><circle cx="3.0" cy="12.0" r="0.9"/><circle cx="5.9" cy="12.2" r="0.9"/><circle cx="8.9" cy="12.1" r="0.8"/><circle cx="32.0" cy="11.5" r="1.1"/><circle cx="33.6" cy="12.3" r="0.8"/><circle cx="40.7" cy="11.9" r="0.9"/><circle cx="44.0" cy="12.2" r="0.7"/><circle cx="47.0" cy="11.9" r="0.7"/><circle cx="47.8" cy="12.2" r="0.8"/><circle cx="50.0" cy="11.7" r="1.1"/><circle cx="51.2" cy="11.6" r="1.1"/><circle cx="52.4" cy="12.0" r="0.9"/><circle cx="55.3" cy="11.6" r="0.8"/><circle cx="56.7" cy="11.9" r="0.9"/><circle cx="0.1" cy="13.3" r="1.0"/><circle cx="2.0" cy="13.3" r="0.7"/><circle cx="4.9" cy="13.3" r="0.8"/><circle cx="5.7" cy="13.4" r="0.9"/><circle cx="7.5" cy="13.3" r="1.0"/><circle cx="9.4" cy="13.0" r="1.0"/><circle cx="26.2" cy="13.5" r="0.7"/><circle cx="31.0" cy="13.5" r="0.7"/><circle cx="46.6" cy="13.1" r="0.7"/><circle cx="56.9" cy="13.0" r="0.8"/><circle cx="0.7" cy="14.8" r="0.9"/><circle cx="1.9" cy="15.1" r="1.0"/><circle cx="6.1" cy="15.1" r="0.9"/><circle cx="8.9" cy="14.4" r="0.7"/><circle cx="10.1" cy="15.1" r="0.9"/><circle cx="13.1" cy="15.2" r="0.7"/><circle cx="26.1" cy="14.5" r="1.0"/><circle cx="29.4" cy="15.1" r="0.7"/><circle cx="32.4" cy="15.1" r="1.0"/><circle cx="33.7" cy="15.0" r="1.0"/><circle cx="36.2" cy="14.9" r="0.9"/><circle cx="39.5" cy="15.1" r="1.1"/><circle cx="42.3" cy="14.6" r="1.0"/><circle cx="44.0" cy="14.9" r="1.0"/><circle cx="45.1" cy="15.1" r="1.0"/><circle cx="1.6" cy="16.6" r="1.0"/><circle cx="3.4" cy="16.2" r="0.9"/><circle cx="4.9" cy="16.5" r="1.0"/><circle cx="6.4" cy="15.9" r="0.9"/><circle cx="10.4" cy="15.9" r="1.1"/><circle cx="26.4" cy="16.6" r="1.0"/><circle cx="28.1" cy="16.2" r="0.8"/><circle cx="30.5" cy="16.2" r="0.7"/><circle cx="32.5" cy="16.3" r="0.7"/><circle cx="33.8" cy="16.1" r="1.1"/><circle cx="35.4" cy="16.3" r="1.0"/><circle cx="36.2" cy="16.0" r="0.9"/><circle cx="45.3" cy="16.4" r="1.1"/><circle cx="47.0" cy="16.6" r="0.8"/><circle cx="48.4" cy="16.6" r="1.0"/><circle cx="49.7" cy="15.9" r="0.8"/><circle cx="52.8" cy="15.9" r="1.1"/><circle cx="54.2" cy="16.5" r="1.1"/><circle cx="55.6" cy="16.1" r="1.0"/><circle cx="0.2" cy="17.4" r="0.8"/><circle cx="3.5" cy="18.0" r="1.0"/><circle cx="4.5" cy="17.4" r="0.9"/><circle cx="24.6" cy="17.4" r="1.1"/><circle cx="26.6" cy="17.8" r="0.8"/><circle cx="32.0" cy="17.7" r="0.7"/><circle cx="33.9" cy="17.9" r="1.0"/><circle cx="37.8" cy="17.9" r="0.9"/><circle cx="39.7" cy="17.4" r="0.9"/><circle cx="43.7" cy="18.0" r="1.0"/><circle cx="44.9" cy="18.1" r="0.9"/><circle cx="46.4" cy="17.9" r="0.8"/><circle cx="49.8" cy="17.8" r="0.9"/><circle cx="51.2" cy="17.8" r="0.9"/><circle cx="53.6" cy="17.5" r="1.1"/><circle cx="0.6" cy="18.9" r="0.8"/><circle cx="2.0" cy="18.8" r="0.7"/><circle cx="6.1" cy="19.1" r="1.1"/><circle cx="25.2" cy="19.5" r="0.9"/><circle cx="31.0" cy="18.8" r="1.0"/><circle cx="50.0" cy="19.2" r="1.0"/><circle cx="50.8" cy="19.0" r="1.0"/><circle cx="52.8" cy="19.0" r="1.1"/><circle cx="55.3" cy="19.2" r="0.8"/><circle cx="56.7" cy="19.5" r="0.7"/><circle cx="24.7" cy="20.9" r="0.9"/><circle cx="26.8" cy="21.0" r="1.0"/><circle cx="27.7" cy="20.6" r="0.8"/><circle cx="31.8" cy="20.9" r="0.9"/><circle cx="49.3" cy="20.4" r="0.8"/><circle cx="51.2" cy="20.2" r="0.9"/><circle cx="53.8" cy="20.6" r="0.9"/><circle cx="55.4" cy="20.6" r="0.8"/><circle cx="57.1" cy="20.5" r="0.8"/><circle cx="18.0" cy="22.3" r="0.8"/><circle cx="29.3" cy="21.9" r="0.9"/><circle cx="30.6" cy="22.3" r="0.7"/><circle cx="52.7" cy="21.9" r="0.7"/><circle cx="19.1" cy="23.7" r="0.8"/><circle cx="20.4" cy="23.7" r="0.9"/><circle cx="23.8" cy="23.6" r="1.0"/><circle cx="30.4" cy="23.6" r="1.1"/><circle cx="32.3" cy="23.8" r="1.0"/><circle cx="13.5" cy="25.3" r="1.1"/><circle cx="31.9" cy="25.1" r="0.7"/><circle cx="49.4" cy="25.1" r="1.0"/><circle cx="52.6" cy="25.3" r="0.8"/><circle cx="55.2" cy="25.0" r="0.9"/><circle cx="12.0" cy="26.2" r="0.8"/><circle cx="13.1" cy="26.3" r="0.7"/><circle cx="20.9" cy="26.3" r="0.7"/><circle cx="22.4" cy="26.1" r="0.9"/><circle cx="23.3" cy="26.5" r="0.7"/><circle cx="32.4" cy="26.4" r="1.1"/><circle cx="33.7" cy="26.5" r="0.9"/><circle cx="57.1" cy="26.1" r="0.9"/><circle cx="6.4" cy="28.2" r="1.0"/><circle cx="7.3" cy="27.8" r="0.8"/><circle cx="16.4" cy="27.7" r="0.8"/><circle cx="20.9" cy="27.5" r="1.1"/><circle cx="22.4" cy="28.2" r="0.8"/><circle cx="25.2" cy="27.7" r="1.0"/><circle cx="26.3" cy="27.8" r="1.0"/><circle cx="27.9" cy="27.9" r="1.0"/><circle cx="30.4" cy="27.6" r="0.7"/><circle cx="52.3" cy="27.6" r="0.9"/><circle cx="20.9" cy="29.3" r="0.9"/><circle cx="22.3" cy="29.4" r="0.9"/><circle cx="23.2" cy="29.2" r="1.1"/><circle cx="25.2" cy="29.0" r="0.8"/><circle cx="26.2" cy="29.5" r="0.8"/><circle cx="29.6" cy="29.2" r="0.8"/><circle cx="31.1" cy="29.7" r="0.9"/><circle cx="31.9" cy="29.6" r="0.9"/><circle cx="33.4" cy="29.3" r="1.0"/><circle cx="39.6" cy="29.2" r="0.7"/><circle cx="42.2" cy="29.0" r="0.7"/><circle cx="48.3" cy="29.2" r="0.8"/><circle cx="49.7" cy="29.5" r="0.7"/><circle cx="55.1" cy="29.0" r="0.8"/><circle cx="57.2" cy="29.3" r="0.9"/><circle cx="5.8" cy="30.7" r="1.0"/><circle cx="13.3" cy="30.7" r="0.7"/><circle cx="15.9" cy="30.6" r="0.9"/><circle cx="19.0" cy="30.6" r="0.9"/><circle cx="20.2" cy="30.7" r="0.8"/><circle cx="22.3" cy="30.9" r="0.9"/><circle cx="26.4" cy="30.6" r="0.7"/><circle cx="44.0" cy="30.6" r="0.9"/><circle cx="46.6" cy="30.6" r="0.9"/><circle cx="48.0" cy="31.1" r="0.8"/><circle cx="53.8" cy="30.5" r="0.8"/><circle cx="56.7" cy="30.9" r="1.1"/><circle cx="6.4" cy="32.3" r="0.7"/><circle cx="14.6" cy="32.1" r="0.7"/><circle cx="19.1" cy="32.1" r="1.0"/><circle cx="20.3" cy="31.9" r="1.1"/><circle cx="21.7" cy="32.3" r="0.7"/><circle cx="26.4" cy="31.9" r="1.1"/><circle cx="28.2" cy="31.8" r="0.7"/><circle cx="29.4" cy="32.3" r="1.0"/><circle cx="42.3" cy="32.4" r="1.0"/><circle cx="43.9" cy="32.5" r="1.0"/><circle cx="44.9" cy="32.6" r="1.0"/><circle cx="46.9" cy="32.3" r="0.9"/><circle cx="48.3" cy="32.1" r="0.8"/><circle cx="52.4" cy="31.8" r="1.0"/><circle cx="55.7" cy="32.5" r="1.1"/><circle cx="57.1" cy="32.2" r="1.0"/><circle cx="19.0" cy="34.0" r="1.0"/><circle cx="23.4" cy="33.9" r="0.8"/><circle cx="24.7" cy="34.0" r="0.7"/><circle cx="26.4" cy="33.8" r="1.0"/><circle cx="27.8" cy="33.8" r="0.7"/><circle cx="29.6" cy="33.3" r="0.7"/><circle cx="40.5" cy="33.4" r="0.9"/><circle cx="44.2" cy="33.7" r="0.8"/><circle cx="55.2" cy="33.9" r="0.7"/><circle cx="29.2" cy="34.9" r="0.8"/><circle cx="30.4" cy="35.0" r="0.8"/><circle cx="32.5" cy="35.3" r="0.9"/><circle cx="34.9" cy="35.3" r="0.9"/><circle cx="36.8" cy="35.0" r="0.7"/><circle cx="38.1" cy="34.9" r="0.7"/><circle cx="43.7" cy="35.0" r="1.1"/><circle cx="44.9" cy="34.7" r="0.9"/><circle cx="30.6" cy="36.3" r="0.9"/><circle cx="38.0" cy="36.3" r="0.8"/><circle cx="44.1" cy="36.5" r="1.1"/><circle cx="45.2" cy="36.7" r="1.0"/><circle cx="6.1" cy="38.3" r="1.1"/><circle cx="24.9" cy="38.2" r="0.8"/><circle cx="26.4" cy="38.0" r="0.7"/><circle cx="27.5" cy="37.9" r="1.1"/><circle cx="5.7" cy="39.2" r="0.8"/><circle cx="27.9" cy="39.7" r="0.8"/><circle cx="3.5" cy="41.0" r="0.7"/><circle cx="6.0" cy="40.8" r="0.7"/><circle cx="29.0" cy="41.0" r="0.9"/><circle cx="30.5" cy="41.3" r="0.9"/><circle cx="32.2" cy="41.2" r="0.9"/><circle cx="46.5" cy="40.8" r="0.9"/><circle cx="55.2" cy="41.2" r="0.9"/></g><g fill="#0a0ad8"><circle cx="3.3" cy="0.7" r="0.8"/><circle cx="12.1" cy="0.7" r="1.0"/><circle cx="13.0" cy="0.3" r="0.8"/><circle cx="28.0" cy="0.5" r="0.9"/><circle cx="30.4" cy="0.3" r="0.8"/><circle cx="32.1" cy="0.2" r="0.8"/><circle cx="34.9" cy="-0.0" r="0.7"/><circle cx="38.2" cy="0.6" r="1.0"/><circle cx="39.2" cy="0.2" r="0.8"/><circle cx="44.1" cy="0.7" r="0.8"/><circle cx="45.3" cy="0.4" r="1.1"/><circle cx="46.5" cy="0.6" r="0.9"/><circle cx="49.8" cy="0.4" r="0.9"/><circle cx="52.5" cy="0.4" r="0.9"/><circle cx="54.3" cy="0.6" r="0.7"/><circle cx="1.8" cy="2.1" r="1.0"/><circle cx="10.2" cy="1.5" r="0.9"/><circle cx="27.5" cy="1.7" r="0.9"/><circle cx="33.3" cy="1.9" r="0.8"/><circle cx="37.7" cy="1.9" r="1.1"/><circle cx="48.3" cy="2.1" r="0.8"/><circle cx="50.9" cy="1.7" r="0.8"/><circle cx="52.5" cy="1.6" r="0.8"/><circle cx="26.7" cy="3.3" r="0.9"/><circle cx="30.5" cy="3.2" r="0.9"/><circle cx="33.7" cy="3.4" r="0.9"/><circle cx="39.8" cy="3.3" r="1.1"/><circle cx="44.9" cy="3.4" r="0.8"/><circle cx="48.1" cy="3.1" r="1.0"/><circle cx="50.7" cy="2.9" r="1.0"/><circle cx="25.2" cy="4.4" r="0.7"/><circle cx="26.6" cy="4.7" r="1.0"/><circle cx="27.7" cy="4.4" r="0.7"/><circle cx="29.6" cy="5.0" r="0.9"/><circle cx="32.2" cy="4.4" r="0.8"/><circle cx="38.3" cy="4.9" r="1.1"/><circle cx="32.5" cy="6.3" r="1.1"/><circle cx="33.7" cy="6.3" r="0.7"/><circle cx="50.0" cy="6.0" r="0.8"/><circle cx="51.4" cy="6.0" r="1.0"/><circle cx="53.8" cy="6.2" r="1.0"/><circle cx="55.1" cy="5.9" r="0.8"/><circle cx="-0.1" cy="7.6" r="1.1"/><circle cx="26.7" cy="7.4" r="0.9"/><circle cx="29.4" cy="7.2" r="1.1"/><circle cx="35.4" cy="7.3" r="0.9"/><circle cx="49.6" cy="7.6" r="0.8"/><circle cx="52.7" cy="7.5" r="0.9"/><circle cx="54.1" cy="7.5" r="0.7"/><circle cx="1.5" cy="9.2" r="0.8"/><circle cx="22.1" cy="8.8" r="1.0"/><circle cx="26.3" cy="8.8" r="0.9"/><circle cx="29.3" cy="8.7" r="0.7"/><circle cx="49.5" cy="9.2" r="0.8"/><circle cx="52.6" cy="8.8" r="1.0"/><circle cx="55.6" cy="8.9" r="0.7"/><circle cx="0.7" cy="10.6" r="0.9"/><circle cx="1.5" cy="10.5" r="1.0"/><circle cx="7.9" cy="10.5" r="0.8"/><circle cx="27.6" cy="10.5" r="0.8"/><circle cx="29.4" cy="10.6" r="1.0"/><circle cx="30.7" cy="10.3" r="0.7"/><circle cx="32.2" cy="10.1" r="1.1"/><circle cx="47.8" cy="10.6" r="0.9"/><circle cx="49.6" cy="10.6" r="0.7"/><circle cx="52.6" cy="10.8" r="0.9"/><circle cx="4.4" cy="11.6" r="0.8"/><circle cx="7.5" cy="11.5" r="1.0"/><circle cx="10.2" cy="11.7" r="0.9"/><circle cx="3.5" cy="13.3" r="0.8"/><circle cx="10.7" cy="13.2" r="0.7"/><circle cx="29.1" cy="13.5" r="1.0"/><circle cx="32.2" cy="13.7" r="0.8"/><circle cx="33.4" cy="13.6" r="0.9"/><circle cx="41.2" cy="13.3" r="0.8"/><circle cx="42.5" cy="13.2" r="0.8"/><circle cx="48.2" cy="13.2" r="1.1"/><circle cx="49.6" cy="13.5" r="0.9"/><circle cx="53.6" cy="13.3" r="0.9"/><circle cx="55.2" cy="13.2" r="0.7"/><circle cx="3.2" cy="14.8" r="0.7"/><circle cx="4.5" cy="14.6" r="0.9"/><circle cx="7.2" cy="14.8" r="0.8"/><circle cx="12.1" cy="14.9" r="0.7"/><circle cx="28.0" cy="14.7" r="1.0"/><circle cx="41.2" cy="15.1" r="1.1"/><circle cx="46.7" cy="14.7" r="1.0"/><circle cx="48.0" cy="15.2" r="1.1"/><circle cx="51.2" cy="14.6" r="1.0"/><circle cx="52.4" cy="14.9" r="0.9"/><circle cx="54.2" cy="15.2" r="0.7"/><circle cx="56.5" cy="15.0" r="0.9"/><circle cx="0.1" cy="16.3" r="0.7"/><circle cx="7.2" cy="16.2" r="1.1"/><circle cx="11.7" cy="16.5" r="0.7"/><circle cx="13.6" cy="16.3" r="0.8"/><circle cx="39.7" cy="16.3" r="1.0"/><circle cx="1.6" cy="17.9" r="1.1"/><circle cx="6.3" cy="17.6" r="0.9"/><circle cx="7.7" cy="17.4" r="0.8"/><circle cx="27.9" cy="18.1" r="0.9"/><circle cx="29.1" cy="17.9" r="0.9"/><circle cx="31.1" cy="17.4" r="1.1"/><circle cx="55.7" cy="17.8" r="0.7"/><circle cx="26.7" cy="18.9" r="0.8"/><circle cx="29.0" cy="19.0" r="1.1"/><circle cx="53.9" cy="18.9" r="0.7"/><circle cx="29.1" cy="20.4" r="1.0"/><circle cx="30.7" cy="20.6" r="0.9"/><circle cx="52.6" cy="20.9" r="0.8"/><circle cx="20.9" cy="22.2" r="0.9"/><circle cx="23.6" cy="21.9" r="0.8"/><circle cx="27.8" cy="22.0" r="1.0"/><circle cx="32.5" cy="21.9" r="0.9"/><circle cx="49.4" cy="22.3" r="0.8"/><circle cx="51.1" cy="22.0" r="0.7"/><circle cx="57.1" cy="22.4" r="1.0"/><circle cx="21.9" cy="23.6" r="0.8"/><circle cx="29.6" cy="23.7" r="0.9"/><circle cx="49.5" cy="23.8" r="0.9"/><circle cx="52.7" cy="23.5" r="0.9"/><circle cx="12.0" cy="25.1" r="0.7"/><circle cx="20.2" cy="25.1" r="1.0"/><circle cx="30.5" cy="24.7" r="0.9"/><circle cx="51.1" cy="25.1" r="0.8"/><circle cx="56.8" cy="24.9" r="0.8"/><circle cx="19.4" cy="26.2" r="0.9"/><circle cx="29.5" cy="26.5" r="0.9"/><circle cx="30.9" cy="26.6" r="0.8"/><circle cx="51.0" cy="26.5" r="1.0"/><circle cx="52.4" cy="26.2" r="1.0"/><circle cx="53.8" cy="26.5" r="0.7"/><circle cx="55.7" cy="26.8" r="0.7"/><circle cx="15.1" cy="28.1" r="0.9"/><circle cx="17.9" cy="28.1" r="0.8"/><circle cx="18.8" cy="27.9" r="0.9"/><circle cx="29.2" cy="27.9" r="0.9"/><circle cx="49.6" cy="27.9" r="1.1"/><circle cx="50.9" cy="27.7" r="1.0"/><circle cx="54.2" cy="28.0" r="0.7"/><circle cx="55.5" cy="27.5" r="0.9"/><circle cx="5.9" cy="29.0" r="0.8"/><circle cx="7.3" cy="29.3" r="1.1"/><circle cx="28.0" cy="29.3" r="1.0"/><circle cx="43.8" cy="29.5" r="1.0"/><circle cx="46.5" cy="29.1" r="0.8"/><circle cx="15.0" cy="31.1" r="1.1"/><circle cx="17.9" cy="30.6" r="1.0"/><circle cx="23.7" cy="30.6" r="0.7"/><circle cx="28.2" cy="31.0" r="0.8"/><circle cx="29.1" cy="30.9" r="0.8"/><circle cx="41.2" cy="30.7" r="0.9"/><circle cx="42.1" cy="30.7" r="0.9"/><circle cx="44.9" cy="31.0" r="1.1"/><circle cx="49.7" cy="30.4" r="0.8"/><circle cx="55.1" cy="31.1" r="0.9"/><circle cx="13.7" cy="32.3" r="0.8"/><circle cx="16.6" cy="32.4" r="0.8"/><circle cx="17.3" cy="32.5" r="0.9"/><circle cx="50.9" cy="31.9" r="0.8"/><circle cx="20.5" cy="33.8" r="0.9"/><circle cx="45.2" cy="33.9" r="1.0"/><circle cx="46.7" cy="34.0" r="0.8"/><circle cx="48.5" cy="33.9" r="0.9"/><circle cx="22.0" cy="34.7" r="0.8"/><circle cx="23.5" cy="34.8" r="1.0"/><circle cx="33.8" cy="35.0" r="1.1"/><circle cx="47.1" cy="34.7" r="0.8"/><circle cx="26.4" cy="36.8" r="0.7"/><circle cx="29.5" cy="36.2" r="1.0"/><circle cx="39.2" cy="36.8" r="1.0"/><circle cx="30.4" cy="37.9" r="1.0"/><circle cx="24.9" cy="39.3" r="1.0"/><circle cx="26.4" cy="39.5" r="0.8"/><circle cx="29.6" cy="39.5" r="1.0"/><circle cx="31.0" cy="39.3" r="1.0"/><circle cx="24.6" cy="40.8" r="0.7"/><circle cx="26.8" cy="40.7" r="1.0"/><circle cx="34.0" cy="41.2" r="1.0"/></g><g fill="#2828ff"><circle cx="29.2" cy="0.1" r="0.8"/><circle cx="42.2" cy="0.5" r="0.7"/><circle cx="0.6" cy="1.9" r="0.7"/><circle cx="40.5" cy="1.4" r="1.0"/><circle cx="42.1" cy="2.1" r="0.9"/><circle cx="49.8" cy="2.0" r="0.9"/><circle cx="0.6" cy="3.3" r="1.0"/><circle cx="29.0" cy="3.5" r="0.9"/><circle cx="35.2" cy="3.0" r="0.8"/><circle cx="37.7" cy="3.5" r="1.0"/><circle cx="40.8" cy="3.6" r="1.1"/><circle cx="42.3" cy="3.4" r="0.9"/><circle cx="0.6" cy="4.5" r="0.9"/><circle cx="35.1" cy="4.9" r="0.9"/><circle cx="42.5" cy="4.5" r="0.9"/><circle cx="44.2" cy="4.8" r="0.8"/><circle cx="50.7" cy="4.7" r="1.0"/><circle cx="25.0" cy="6.1" r="0.9"/><circle cx="26.2" cy="6.2" r="1.1"/><circle cx="29.1" cy="5.9" r="0.7"/><circle cx="38.1" cy="6.5" r="1.1"/><circle cx="43.8" cy="6.1" r="1.0"/><circle cx="1.9" cy="7.8" r="1.0"/><circle cx="24.6" cy="7.5" r="0.9"/><circle cx="32.5" cy="7.6" r="0.8"/><circle cx="36.4" cy="7.8" r="1.1"/><circle cx="41.2" cy="7.9" r="0.7"/><circle cx="43.8" cy="7.5" r="1.0"/><circle cx="57.2" cy="7.7" r="0.8"/><circle cx="31.9" cy="8.8" r="0.8"/><circle cx="10.1" cy="10.5" r="0.8"/><circle cx="33.7" cy="10.4" r="0.7"/><circle cx="0.2" cy="12.0" r="1.0"/><circle cx="28.2" cy="11.7" r="1.0"/><circle cx="29.2" cy="11.6" r="0.8"/><circle cx="30.7" cy="11.8" r="0.9"/><circle cx="42.4" cy="11.7" r="1.0"/><circle cx="45.0" cy="11.6" r="1.1"/><circle cx="53.6" cy="12.0" r="0.7"/><circle cx="28.0" cy="13.0" r="0.9"/><circle cx="44.0" cy="13.2" r="0.7"/><circle cx="45.4" cy="13.4" r="0.8"/><circle cx="51.0" cy="13.4" r="0.9"/><circle cx="52.3" cy="13.6" r="0.8"/><circle cx="30.6" cy="14.7" r="1.0"/><circle cx="35.0" cy="14.9" r="0.8"/><circle cx="38.1" cy="14.8" r="1.1"/><circle cx="49.4" cy="14.6" r="1.0"/><circle cx="55.8" cy="14.9" r="0.9"/><circle cx="8.9" cy="16.5" r="0.8"/><circle cx="29.5" cy="16.3" r="0.8"/><circle cx="37.7" cy="16.5" r="1.0"/><circle cx="43.6" cy="16.2" r="0.7"/><circle cx="57.2" cy="16.3" r="0.7"/><circle cx="48.3" cy="17.6" r="1.0"/><circle cx="52.7" cy="17.5" r="1.0"/><circle cx="56.5" cy="18.0" r="0.8"/><circle cx="28.1" cy="19.2" r="0.7"/><circle cx="20.4" cy="20.7" r="0.8"/><circle cx="19.2" cy="22.1" r="0.8"/><circle cx="21.8" cy="22.3" r="0.7"/><circle cx="45.6" cy="21.8" r="0.8"/><circle cx="53.8" cy="22.4" r="1.0"/><circle cx="55.6" cy="21.8" r="0.8"/><circle cx="51.2" cy="23.4" r="0.8"/><circle cx="53.8" cy="23.2" r="0.9"/><circle cx="55.1" cy="23.9" r="0.8"/><circle cx="57.1" cy="23.3" r="0.8"/><circle cx="19.0" cy="25.1" r="1.0"/><circle cx="22.3" cy="25.2" r="0.9"/><circle cx="23.5" cy="24.6" r="0.8"/><circle cx="33.3" cy="24.9" r="0.7"/><circle cx="54.0" cy="25.0" r="0.9"/><circle cx="49.5" cy="26.6" r="1.1"/><circle cx="23.2" cy="28.2" r="1.0"/><circle cx="32.5" cy="27.9" r="0.9"/><circle cx="48.5" cy="27.6" r="0.7"/><circle cx="56.8" cy="28.0" r="0.8"/><circle cx="14.5" cy="29.0" r="1.0"/><circle cx="16.2" cy="28.9" r="0.7"/><circle cx="17.9" cy="29.2" r="1.0"/><circle cx="18.8" cy="29.5" r="1.1"/><circle cx="40.7" cy="29.5" r="0.8"/><circle cx="51.3" cy="29.5" r="0.7"/><circle cx="52.7" cy="29.5" r="0.8"/><circle cx="53.9" cy="29.4" r="1.1"/><circle cx="25.3" cy="30.6" r="0.9"/><circle cx="51.3" cy="30.6" r="0.7"/><circle cx="52.1" cy="30.7" r="0.9"/><circle cx="11.8" cy="31.9" r="0.9"/><circle cx="23.7" cy="32.0" r="0.9"/><circle cx="25.2" cy="32.5" r="0.7"/><circle cx="53.6" cy="32.4" r="0.9"/><circle cx="21.9" cy="33.7" r="0.9"/><circle cx="39.1" cy="33.5" r="0.7"/><circle cx="54.0" cy="33.3" r="0.8"/><circle cx="56.9" cy="33.5" r="1.1"/><circle cx="27.9" cy="34.9" r="1.0"/><circle cx="39.7" cy="34.9" r="1.0"/><circle cx="42.7" cy="35.2" r="1.0"/><circle cx="48.2" cy="35.4" r="1.0"/><circle cx="27.7" cy="36.8" r="1.0"/><circle cx="46.7" cy="36.4" r="0.8"/><circle cx="48.5" cy="36.5" r="0.7"/><circle cx="29.5" cy="38.1" r="1.0"/><circle cx="4.3" cy="41.2" r="1.0"/><circle cx="27.9" cy="41.1" r="0.9"/><circle cx="43.8" cy="40.9" r="1.0"/><circle cx="45.6" cy="41.0" r="0.8"/></g></g><g id="bH"><g fill="#1414ff"><circle cx="13.4" cy="3.4" r="0.7"/><circle cx="15.0" cy="2.9" r="0.7"/><circle cx="19.5" cy="3.5" r="0.8"/><circle cx="13.4" cy="4.3" r="0.9"/><circle cx="15.1" cy="6.0" r="1.1"/><circle cx="19.2" cy="6.2" r="1.1"/><circle cx="13.1" cy="7.2" r="0.9"/><circle cx="16.1" cy="7.7" r="0.7"/><circle cx="19.5" cy="7.5" r="0.8"/><circle cx="12.3" cy="8.7" r="1.0"/><circle cx="13.0" cy="8.8" r="1.0"/><circle cx="14.8" cy="8.7" r="0.8"/><circle cx="16.3" cy="9.3" r="0.9"/><circle cx="22.0" cy="9.4" r="0.7"/><circle cx="16.0" cy="10.1" r="0.8"/><circle cx="17.6" cy="10.1" r="0.9"/><circle cx="19.0" cy="10.1" r="0.9"/><circle cx="20.9" cy="10.3" r="1.1"/><circle cx="22.0" cy="10.7" r="0.9"/><circle cx="36.4" cy="10.3" r="0.9"/><circle cx="39.5" cy="10.8" r="1.1"/><circle cx="12.0" cy="12.0" r="1.1"/><circle cx="13.7" cy="11.9" r="0.9"/><circle cx="14.4" cy="11.6" r="0.9"/><circle cx="33.5" cy="12.0" r="0.9"/><circle cx="36.9" cy="12.0" r="0.7"/><circle cx="39.3" cy="12.1" r="1.0"/><circle cx="30.5" cy="13.3" r="1.0"/><circle cx="32.2" cy="13.3" r="1.1"/><circle cx="33.9" cy="13.1" r="1.1"/><circle cx="36.6" cy="13.2" r="1.0"/><circle cx="39.7" cy="13.7" r="0.7"/><circle cx="52.2" cy="13.0" r="1.0"/><circle cx="53.8" cy="13.3" r="1.0"/><circle cx="16.0" cy="15.1" r="0.9"/><circle cx="17.4" cy="14.9" r="0.8"/><circle cx="29.0" cy="14.5" r="1.0"/><circle cx="30.9" cy="14.6" r="0.8"/><circle cx="36.7" cy="14.9" r="0.9"/><circle cx="39.4" cy="14.5" r="0.7"/><circle cx="21.9" cy="16.6" r="1.0"/><circle cx="32.2" cy="16.0" r="1.0"/><circle cx="36.6" cy="16.6" r="0.7"/><circle cx="37.7" cy="16.1" r="1.1"/><circle cx="27.7" cy="18.0" r="0.8"/><circle cx="29.4" cy="17.7" r="1.0"/><circle cx="31.1" cy="17.5" r="0.9"/><circle cx="32.1" cy="17.7" r="1.1"/><circle cx="33.4" cy="18.0" r="1.1"/><circle cx="35.1" cy="18.0" r="0.9"/><circle cx="36.5" cy="17.5" r="0.8"/><circle cx="29.3" cy="18.9" r="0.9"/><circle cx="31.0" cy="19.4" r="0.7"/><circle cx="32.3" cy="19.2" r="0.8"/><circle cx="26.6" cy="20.9" r="1.0"/><circle cx="28.9" cy="20.8" r="0.9"/><circle cx="30.7" cy="20.4" r="0.8"/><circle cx="33.7" cy="20.5" r="0.9"/><circle cx="26.4" cy="21.8" r="0.9"/><circle cx="30.4" cy="22.2" r="0.7"/><circle cx="29.2" cy="23.2" r="1.0"/><circle cx="31.0" cy="23.6" r="0.8"/><circle cx="53.8" cy="23.6" r="0.7"/><circle cx="20.6" cy="25.0" r="0.8"/><circle cx="52.9" cy="24.8" r="0.9"/><circle cx="53.8" cy="25.3" r="1.0"/><circle cx="18.0" cy="26.7" r="0.9"/><circle cx="19.3" cy="26.2" r="1.1"/><circle cx="26.1" cy="26.3" r="1.0"/><circle cx="13.7" cy="28.2" r="0.9"/><circle cx="35.4" cy="27.9" r="0.7"/><circle cx="36.4" cy="27.6" r="0.9"/><circle cx="42.7" cy="28.0" r="1.0"/><circle cx="44.0" cy="27.7" r="0.8"/><circle cx="13.0" cy="29.5" r="1.0"/><circle cx="19.5" cy="29.1" r="0.8"/><circle cx="20.4" cy="29.3" r="0.7"/><circle cx="33.5" cy="29.4" r="1.1"/><circle cx="35.5" cy="29.2" r="0.8"/><circle cx="44.0" cy="29.4" r="0.9"/><circle cx="13.0" cy="30.4" r="0.8"/><circle cx="14.8" cy="30.8" r="0.8"/><circle cx="34.9" cy="31.1" r="0.8"/><circle cx="38.0" cy="30.5" r="0.8"/><circle cx="42.4" cy="30.9" r="0.9"/><circle cx="43.4" cy="30.6" r="0.9"/><circle cx="45.4" cy="31.1" r="1.0"/><circle cx="35.3" cy="31.9" r="0.8"/><circle cx="37.8" cy="32.2" r="1.0"/><circle cx="39.2" cy="32.3" r="1.1"/><circle cx="42.7" cy="32.0" r="0.8"/><circle cx="43.9" cy="32.1" r="1.0"/><circle cx="45.2" cy="32.4" r="0.7"/><circle cx="34.9" cy="33.8" r="1.0"/><circle cx="36.8" cy="33.6" r="0.9"/><circle cx="38.2" cy="33.6" r="0.9"/><circle cx="41.0" cy="33.6" r="0.7"/><circle cx="45.2" cy="33.8" r="0.7"/><circle cx="40.9" cy="35.2" r="0.8"/><circle cx="48.1" cy="34.9" r="0.7"/><circle cx="42.6" cy="36.2" r="1.1"/><circle cx="43.5" cy="36.8" r="0.8"/><circle cx="48.2" cy="36.3" r="1.1"/></g><g fill="#0a0ad8"><circle cx="16.1" cy="3.1" r="0.8"/><circle cx="17.4" cy="3.1" r="1.0"/><circle cx="15.2" cy="4.4" r="1.0"/><circle cx="16.2" cy="4.5" r="0.8"/><circle cx="17.7" cy="4.7" r="0.8"/><circle cx="18.9" cy="4.6" r="1.0"/><circle cx="13.6" cy="6.4" r="0.8"/><circle cx="17.4" cy="7.8" r="0.8"/><circle cx="19.1" cy="8.8" r="0.7"/><circle cx="20.8" cy="9.3" r="1.1"/><circle cx="39.1" cy="9.0" r="0.8"/><circle cx="11.8" cy="10.7" r="1.0"/><circle cx="13.7" cy="10.7" r="1.0"/><circle cx="35.4" cy="10.4" r="0.9"/><circle cx="38.3" cy="10.3" r="0.8"/><circle cx="40.9" cy="10.6" r="0.9"/><circle cx="32.3" cy="12.2" r="0.8"/><circle cx="35.4" cy="11.9" r="1.1"/><circle cx="40.9" cy="12.2" r="0.9"/><circle cx="34.8" cy="13.5" r="0.9"/><circle cx="38.1" cy="13.5" r="0.8"/><circle cx="40.6" cy="13.1" r="0.9"/><circle cx="32.4" cy="14.7" r="1.1"/><circle cx="33.7" cy="14.8" r="0.9"/><circle cx="37.8" cy="15.0" r="0.8"/><circle cx="52.6" cy="14.9" r="0.9"/><circle cx="53.7" cy="14.7" r="0.8"/><circle cx="29.4" cy="16.5" r="1.1"/><circle cx="33.8" cy="16.1" r="1.0"/><circle cx="35.2" cy="19.2" r="0.7"/><circle cx="27.7" cy="21.0" r="0.9"/><circle cx="36.5" cy="20.5" r="0.9"/><circle cx="29.4" cy="21.9" r="1.1"/><circle cx="33.4" cy="22.1" r="0.7"/><circle cx="26.5" cy="23.2" r="1.1"/><circle cx="28.0" cy="23.2" r="1.0"/><circle cx="19.3" cy="25.2" r="0.9"/><circle cx="26.1" cy="25.3" r="1.1"/><circle cx="27.6" cy="24.9" r="0.7"/><circle cx="29.0" cy="24.9" r="0.7"/><circle cx="20.7" cy="26.5" r="0.7"/><circle cx="22.0" cy="26.6" r="0.9"/><circle cx="25.1" cy="26.1" r="0.8"/><circle cx="27.7" cy="26.4" r="1.0"/><circle cx="54.0" cy="26.0" r="0.8"/><circle cx="14.9" cy="28.1" r="0.8"/><circle cx="17.4" cy="28.0" r="0.8"/><circle cx="19.2" cy="28.1" r="1.0"/><circle cx="16.2" cy="29.3" r="0.8"/><circle cx="17.7" cy="29.2" r="0.9"/><circle cx="36.4" cy="28.9" r="0.8"/><circle cx="8.7" cy="30.9" r="0.8"/><circle cx="10.2" cy="30.9" r="0.9"/><circle cx="34.0" cy="30.4" r="0.8"/><circle cx="36.5" cy="30.8" r="0.7"/><circle cx="39.4" cy="30.5" r="0.9"/><circle cx="9.0" cy="31.8" r="0.7"/><circle cx="10.2" cy="32.1" r="0.7"/><circle cx="33.8" cy="31.8" r="0.7"/><circle cx="36.7" cy="32.0" r="1.0"/><circle cx="46.4" cy="33.7" r="1.0"/><circle cx="43.9" cy="35.4" r="0.9"/><circle cx="45.3" cy="35.1" r="0.7"/><circle cx="46.5" cy="35.4" r="1.0"/><circle cx="45.2" cy="36.9" r="0.8"/><circle cx="46.3" cy="37.9" r="0.9"/></g><g fill="#2828ff"><circle cx="16.6" cy="6.4" r="1.1"/><circle cx="17.9" cy="6.0" r="1.0"/><circle cx="14.9" cy="7.6" r="1.0"/><circle cx="18.0" cy="9.2" r="1.0"/><circle cx="37.6" cy="9.3" r="0.8"/><circle cx="14.6" cy="10.6" r="1.0"/><circle cx="10.5" cy="11.7" r="0.9"/><circle cx="16.5" cy="11.6" r="1.0"/><circle cx="38.4" cy="12.0" r="1.0"/><circle cx="16.1" cy="13.6" r="0.9"/><circle cx="51.4" cy="13.3" r="0.7"/><circle cx="35.5" cy="14.6" r="0.8"/><circle cx="30.8" cy="16.6" r="1.0"/><circle cx="35.1" cy="16.2" r="0.8"/><circle cx="37.7" cy="17.7" r="1.0"/><circle cx="28.1" cy="19.2" r="0.8"/><circle cx="33.4" cy="19.1" r="0.9"/><circle cx="36.6" cy="19.3" r="0.8"/><circle cx="32.1" cy="20.5" r="0.8"/><circle cx="34.9" cy="20.5" r="0.9"/><circle cx="25.0" cy="22.0" r="0.7"/><circle cx="27.6" cy="22.1" r="0.7"/><circle cx="32.3" cy="22.2" r="1.1"/><circle cx="23.6" cy="23.2" r="0.8"/><circle cx="24.6" cy="23.5" r="0.7"/><circle cx="24.6" cy="24.8" r="1.1"/><circle cx="36.3" cy="26.3" r="0.8"/><circle cx="20.9" cy="28.1" r="0.7"/><circle cx="12.1" cy="28.9" r="1.1"/><circle cx="14.9" cy="29.0" r="0.9"/><circle cx="38.0" cy="29.1" r="1.1"/><circle cx="16.1" cy="30.6" r="0.9"/><circle cx="40.9" cy="31.8" r="0.8"/><circle cx="42.6" cy="33.6" r="0.8"/><circle cx="43.4" cy="33.6" r="0.8"/><circle cx="42.0" cy="35.1" r="1.1"/><circle cx="46.8" cy="36.5" r="1.0"/></g></g><g id="gF"><g fill="#22942a"><circle cx="9.1" cy="0.5" r="1.0"/><circle cx="24.8" cy="0.0" r="1.0"/><circle cx="26.4" cy="-0.1" r="1.3"/><circle cx="48.1" cy="0.7" r="0.9"/><circle cx="51.4" cy="0.3" r="1.0"/><circle cx="53.6" cy="0.1" r="0.9"/><circle cx="17.7" cy="2.0" r="1.0"/><circle cx="23.2" cy="1.5" r="0.9"/><circle cx="26.0" cy="1.5" r="1.0"/><circle cx="34.0" cy="1.9" r="1.2"/><circle cx="35.3" cy="1.7" r="0.9"/><circle cx="36.3" cy="1.6" r="1.2"/><circle cx="37.7" cy="2.0" r="1.1"/><circle cx="55.1" cy="2.0" r="1.0"/><circle cx="22.1" cy="2.9" r="1.0"/><circle cx="23.1" cy="3.0" r="1.0"/><circle cx="39.2" cy="3.6" r="1.1"/><circle cx="44.1" cy="3.5" r="1.1"/><circle cx="46.6" cy="3.5" r="0.9"/><circle cx="48.0" cy="3.3" r="1.3"/><circle cx="49.7" cy="3.4" r="1.0"/><circle cx="19.5" cy="4.8" r="1.3"/><circle cx="20.3" cy="4.3" r="0.9"/><circle cx="22.0" cy="4.8" r="1.2"/><circle cx="23.4" cy="4.7" r="1.0"/><circle cx="25.0" cy="4.5" r="1.2"/><circle cx="28.0" cy="4.5" r="0.9"/><circle cx="29.2" cy="4.8" r="1.3"/><circle cx="32.4" cy="4.9" r="1.1"/><circle cx="33.5" cy="4.9" r="1.1"/><circle cx="35.0" cy="4.4" r="1.1"/><circle cx="38.0" cy="4.6" r="1.3"/><circle cx="43.4" cy="4.4" r="1.3"/><circle cx="46.8" cy="4.7" r="0.9"/><circle cx="49.7" cy="4.8" r="0.9"/><circle cx="54.3" cy="4.4" r="1.2"/><circle cx="56.6" cy="4.6" r="1.0"/><circle cx="21.7" cy="6.2" r="1.0"/><circle cx="23.5" cy="6.2" r="1.3"/><circle cx="26.1" cy="6.1" r="1.2"/><circle cx="29.5" cy="5.7" r="1.1"/><circle cx="33.6" cy="6.2" r="1.3"/><circle cx="42.2" cy="6.1" r="1.1"/><circle cx="43.8" cy="5.7" r="0.9"/><circle cx="45.0" cy="6.5" r="1.0"/><circle cx="49.7" cy="6.0" r="1.1"/><circle cx="10.1" cy="7.8" r="1.0"/><circle cx="20.7" cy="7.7" r="0.9"/><circle cx="23.8" cy="7.3" r="1.0"/><circle cx="26.3" cy="7.8" r="1.2"/><circle cx="35.2" cy="7.2" r="1.3"/><circle cx="36.7" cy="7.7" r="1.0"/><circle cx="45.3" cy="7.2" r="1.0"/><circle cx="7.4" cy="9.2" r="1.1"/><circle cx="8.6" cy="9.4" r="1.1"/><circle cx="10.8" cy="9.1" r="1.1"/><circle cx="20.6" cy="9.1" r="1.2"/><circle cx="22.2" cy="8.7" r="1.1"/><circle cx="23.4" cy="8.6" r="1.2"/><circle cx="34.9" cy="9.3" r="1.1"/><circle cx="12.1" cy="10.7" r="1.1"/><circle cx="13.7" cy="10.8" r="0.9"/><circle cx="14.7" cy="10.1" r="1.0"/><circle cx="21.8" cy="10.4" r="1.1"/><circle cx="29.4" cy="10.8" r="1.2"/><circle cx="35.1" cy="10.7" r="1.0"/><circle cx="36.6" cy="10.3" r="0.9"/><circle cx="37.6" cy="10.2" r="1.0"/><circle cx="40.8" cy="10.8" r="0.9"/><circle cx="46.8" cy="10.5" r="0.9"/><circle cx="48.1" cy="10.7" r="1.0"/><circle cx="7.5" cy="11.9" r="0.9"/><circle cx="9.0" cy="11.6" r="1.2"/><circle cx="14.8" cy="11.6" r="1.2"/><circle cx="16.4" cy="11.9" r="1.2"/><circle cx="22.0" cy="11.8" r="0.9"/><circle cx="29.5" cy="12.2" r="0.9"/><circle cx="30.9" cy="11.7" r="1.1"/><circle cx="35.4" cy="11.6" r="1.1"/><circle cx="36.6" cy="11.6" r="1.2"/><circle cx="38.2" cy="12.3" r="1.3"/><circle cx="41.1" cy="11.9" r="1.0"/><circle cx="42.3" cy="12.2" r="1.0"/><circle cx="43.9" cy="11.8" r="1.1"/><circle cx="47.0" cy="12.0" r="1.0"/><circle cx="49.4" cy="11.8" r="1.1"/><circle cx="52.5" cy="11.7" r="1.1"/><circle cx="53.7" cy="12.3" r="1.2"/><circle cx="13.4" cy="13.3" r="1.1"/><circle cx="14.4" cy="13.2" r="1.1"/><circle cx="20.9" cy="13.6" r="1.0"/><circle cx="21.7" cy="13.4" r="1.0"/><circle cx="30.9" cy="13.0" r="0.9"/><circle cx="32.2" cy="13.0" r="1.2"/><circle cx="33.6" cy="13.4" r="1.2"/><circle cx="35.1" cy="13.4" r="1.1"/><circle cx="37.7" cy="13.3" r="1.1"/><circle cx="39.1" cy="13.7" r="0.9"/><circle cx="40.7" cy="13.0" r="1.0"/><circle cx="42.3" cy="13.7" r="0.9"/><circle cx="44.0" cy="13.4" r="0.9"/><circle cx="45.1" cy="13.7" r="1.0"/><circle cx="52.1" cy="13.4" r="1.1"/><circle cx="6.3" cy="14.8" r="1.3"/><circle cx="22.1" cy="14.4" r="1.3"/><circle cx="28.0" cy="14.9" r="1.3"/><circle cx="29.2" cy="14.6" r="1.0"/><circle cx="32.6" cy="14.7" r="1.0"/><circle cx="34.9" cy="14.5" r="1.2"/><circle cx="41.1" cy="15.0" r="1.2"/><circle cx="43.5" cy="15.2" r="1.1"/><circle cx="44.9" cy="14.7" r="1.1"/><circle cx="54.0" cy="14.7" r="0.9"/><circle cx="6.2" cy="16.1" r="1.2"/><circle cx="13.1" cy="15.9" r="1.1"/><circle cx="14.8" cy="16.6" r="1.3"/><circle cx="22.4" cy="16.4" r="0.9"/><circle cx="27.9" cy="16.5" r="1.3"/><circle cx="32.1" cy="16.0" r="0.9"/><circle cx="33.3" cy="16.6" r="1.3"/><circle cx="35.0" cy="16.1" r="1.2"/><circle cx="36.3" cy="16.6" r="1.3"/><circle cx="38.0" cy="16.0" r="1.1"/><circle cx="43.9" cy="16.5" r="1.2"/><circle cx="3.1" cy="18.1" r="1.1"/><circle cx="4.7" cy="17.8" r="1.0"/><circle cx="11.8" cy="17.9" r="1.1"/><circle cx="14.9" cy="17.8" r="0.9"/><circle cx="17.9" cy="17.9" r="1.0"/><circle cx="30.7" cy="17.3" r="0.9"/><circle cx="39.6" cy="18.1" r="1.0"/><circle cx="43.5" cy="17.5" r="1.3"/><circle cx="45.5" cy="17.6" r="1.0"/><circle cx="52.1" cy="17.3" r="1.0"/><circle cx="12.1" cy="19.1" r="1.0"/><circle cx="16.2" cy="19.1" r="1.2"/><circle cx="20.4" cy="19.0" r="0.9"/><circle cx="29.3" cy="19.0" r="1.0"/><circle cx="38.2" cy="19.1" r="0.9"/><circle cx="39.4" cy="19.0" r="1.1"/><circle cx="46.8" cy="19.0" r="1.1"/><circle cx="51.1" cy="19.0" r="0.9"/><circle cx="52.2" cy="18.9" r="1.2"/><circle cx="16.5" cy="20.9" r="1.1"/><circle cx="26.4" cy="20.7" r="1.0"/><circle cx="28.2" cy="20.3" r="1.2"/><circle cx="29.3" cy="20.6" r="1.0"/><circle cx="35.2" cy="20.9" r="1.1"/><circle cx="36.5" cy="20.8" r="0.9"/><circle cx="45.6" cy="20.6" r="0.9"/><circle cx="47.1" cy="20.8" r="1.3"/><circle cx="47.8" cy="20.7" r="1.0"/><circle cx="51.0" cy="20.6" r="1.0"/><circle cx="14.6" cy="22.2" r="1.1"/><circle cx="16.4" cy="22.0" r="1.2"/><circle cx="18.0" cy="21.9" r="0.9"/><circle cx="18.9" cy="22.3" r="1.3"/><circle cx="20.4" cy="22.4" r="1.2"/><circle cx="21.9" cy="22.0" r="0.9"/><circle cx="31.0" cy="21.9" r="0.9"/><circle cx="32.6" cy="21.7" r="1.0"/><circle cx="33.6" cy="22.3" r="0.9"/><circle cx="34.7" cy="21.9" r="1.2"/><circle cx="49.4" cy="22.0" r="1.3"/><circle cx="51.4" cy="22.4" r="1.3"/><circle cx="54.0" cy="22.3" r="1.1"/><circle cx="13.5" cy="23.3" r="1.1"/><circle cx="16.5" cy="23.4" r="0.9"/><circle cx="20.7" cy="23.6" r="0.9"/><circle cx="44.1" cy="23.4" r="0.9"/><circle cx="45.3" cy="23.1" r="1.1"/><circle cx="46.5" cy="23.7" r="1.2"/><circle cx="48.1" cy="23.9" r="1.0"/><circle cx="51.4" cy="23.6" r="0.9"/><circle cx="11.8" cy="25.1" r="0.9"/><circle cx="13.3" cy="24.6" r="0.9"/><circle cx="16.6" cy="24.7" r="0.9"/><circle cx="17.9" cy="24.7" r="1.0"/><circle cx="23.8" cy="24.8" r="0.9"/><circle cx="26.7" cy="25.1" r="1.2"/><circle cx="41.1" cy="25.0" r="1.3"/><circle cx="42.3" cy="25.0" r="1.2"/><circle cx="45.4" cy="25.2" r="1.2"/><circle cx="46.7" cy="25.2" r="1.2"/><circle cx="47.9" cy="25.1" r="1.0"/><circle cx="51.1" cy="24.9" r="1.2"/><circle cx="52.6" cy="25.3" r="1.0"/><circle cx="53.6" cy="24.6" r="1.2"/><circle cx="13.4" cy="26.2" r="1.0"/><circle cx="14.7" cy="26.7" r="1.0"/><circle cx="16.0" cy="26.6" r="1.0"/><circle cx="23.6" cy="26.8" r="1.0"/><circle cx="24.8" cy="26.3" r="0.9"/><circle cx="26.7" cy="26.7" r="0.9"/><circle cx="28.2" cy="26.1" r="1.0"/><circle cx="32.5" cy="26.7" r="1.1"/><circle cx="42.5" cy="26.3" r="1.1"/><circle cx="43.8" cy="26.2" r="1.2"/><circle cx="46.5" cy="26.1" r="1.3"/><circle cx="54.2" cy="26.2" r="1.1"/><circle cx="12.2" cy="27.9" r="1.2"/><circle cx="16.6" cy="27.8" r="1.3"/><circle cx="18.0" cy="28.0" r="1.2"/><circle cx="19.2" cy="28.1" r="1.0"/><circle cx="23.5" cy="27.7" r="1.2"/><circle cx="26.1" cy="27.5" r="0.9"/><circle cx="27.5" cy="27.6" r="1.3"/><circle cx="29.5" cy="27.6" r="0.9"/><circle cx="30.4" cy="28.2" r="1.1"/><circle cx="31.8" cy="28.0" r="1.0"/><circle cx="42.1" cy="27.7" r="1.0"/><circle cx="44.1" cy="27.7" r="1.2"/><circle cx="45.6" cy="27.8" r="1.2"/><circle cx="14.8" cy="29.5" r="1.2"/><circle cx="16.3" cy="29.7" r="0.9"/><circle cx="25.2" cy="29.7" r="1.2"/><circle cx="29.0" cy="29.0" r="1.1"/><circle cx="31.0" cy="29.1" r="1.1"/><circle cx="34.0" cy="29.0" r="0.9"/><circle cx="39.5" cy="29.1" r="1.2"/><circle cx="41.0" cy="29.4" r="1.2"/><circle cx="55.7" cy="29.1" r="1.1"/><circle cx="4.7" cy="30.5" r="1.0"/><circle cx="16.1" cy="31.0" r="1.3"/><circle cx="17.4" cy="30.9" r="1.3"/><circle cx="26.8" cy="31.1" r="1.3"/><circle cx="27.8" cy="30.5" r="1.2"/><circle cx="33.6" cy="30.7" r="1.2"/><circle cx="35.3" cy="31.0" r="1.2"/><circle cx="55.6" cy="30.8" r="1.3"/><circle cx="3.3" cy="32.0" r="0.9"/><circle cx="4.8" cy="32.2" r="1.2"/><circle cx="18.9" cy="32.5" r="1.2"/><circle cx="26.2" cy="31.9" r="0.9"/><circle cx="27.5" cy="32.0" r="1.0"/><circle cx="29.1" cy="32.0" r="1.3"/><circle cx="34.9" cy="32.6" r="1.0"/><circle cx="36.7" cy="32.3" r="0.9"/><circle cx="43.7" cy="32.4" r="1.0"/><circle cx="53.6" cy="31.8" r="1.3"/><circle cx="1.5" cy="34.0" r="1.1"/><circle cx="3.6" cy="33.4" r="1.2"/><circle cx="10.1" cy="33.5" r="1.1"/><circle cx="16.3" cy="33.6" r="1.3"/><circle cx="17.7" cy="33.3" r="0.9"/><circle cx="26.0" cy="33.3" r="1.2"/><circle cx="27.8" cy="33.7" r="1.0"/><circle cx="31.1" cy="33.8" r="1.0"/><circle cx="33.4" cy="33.3" r="1.0"/><circle cx="35.4" cy="34.0" r="1.2"/><circle cx="39.2" cy="33.9" r="0.9"/><circle cx="40.9" cy="34.0" r="1.1"/><circle cx="42.4" cy="33.5" r="1.1"/><circle cx="43.5" cy="34.0" r="0.9"/><circle cx="45.1" cy="33.5" r="1.1"/><circle cx="13.1" cy="34.8" r="1.0"/><circle cx="15.0" cy="35.5" r="1.1"/><circle cx="16.6" cy="35.4" r="1.0"/><circle cx="26.3" cy="34.9" r="0.9"/><circle cx="29.6" cy="35.5" r="1.0"/><circle cx="31.9" cy="34.9" r="1.1"/><circle cx="34.8" cy="35.4" r="1.1"/><circle cx="37.6" cy="35.2" r="0.9"/><circle cx="39.4" cy="35.3" r="1.1"/><circle cx="45.4" cy="35.5" r="1.2"/><circle cx="16.6" cy="36.5" r="1.1"/><circle cx="17.9" cy="36.6" r="1.2"/><circle cx="21.8" cy="36.5" r="1.2"/><circle cx="23.1" cy="36.6" r="1.1"/><circle cx="25.2" cy="36.8" r="1.1"/><circle cx="30.5" cy="36.8" r="1.2"/><circle cx="32.0" cy="36.2" r="1.2"/><circle cx="33.9" cy="36.8" r="1.3"/><circle cx="36.3" cy="36.7" r="1.3"/><circle cx="3.5" cy="38.1" r="1.0"/><circle cx="4.3" cy="38.2" r="1.0"/><circle cx="26.4" cy="38.1" r="1.0"/><circle cx="30.5" cy="38.0" r="0.9"/><circle cx="32.6" cy="38.0" r="1.1"/><circle cx="57.0" cy="38.3" r="0.9"/><circle cx="19.4" cy="39.8" r="1.2"/><circle cx="24.6" cy="39.2" r="1.3"/><circle cx="33.6" cy="39.6" r="0.9"/><circle cx="5.7" cy="40.8" r="0.9"/></g><g fill="#166418"><circle cx="7.5" cy="0.6" r="1.1"/><circle cx="49.8" cy="0.2" r="0.9"/><circle cx="25.0" cy="1.5" r="0.9"/><circle cx="27.5" cy="1.7" r="1.0"/><circle cx="32.3" cy="1.7" r="1.2"/><circle cx="48.4" cy="1.9" r="0.9"/><circle cx="52.5" cy="1.7" r="1.0"/><circle cx="54.3" cy="1.8" r="1.3"/><circle cx="17.9" cy="3.5" r="0.9"/><circle cx="19.0" cy="3.3" r="1.2"/><circle cx="20.8" cy="3.1" r="0.9"/><circle cx="26.7" cy="3.4" r="1.2"/><circle cx="28.1" cy="3.1" r="1.1"/><circle cx="32.1" cy="3.3" r="1.2"/><circle cx="33.5" cy="3.5" r="1.0"/><circle cx="36.9" cy="3.4" r="1.2"/><circle cx="44.9" cy="3.4" r="1.1"/><circle cx="51.1" cy="3.5" r="1.2"/><circle cx="55.1" cy="2.8" r="0.9"/><circle cx="56.9" cy="2.9" r="0.9"/><circle cx="26.8" cy="5.0" r="0.9"/><circle cx="39.3" cy="4.9" r="0.9"/><circle cx="42.2" cy="4.6" r="1.0"/><circle cx="52.8" cy="4.6" r="1.3"/><circle cx="25.0" cy="5.9" r="1.1"/><circle cx="28.1" cy="6.0" r="1.1"/><circle cx="37.7" cy="6.1" r="1.2"/><circle cx="39.4" cy="6.4" r="1.0"/><circle cx="52.2" cy="5.8" r="0.9"/><circle cx="56.8" cy="6.4" r="0.9"/><circle cx="22.0" cy="7.7" r="1.1"/><circle cx="25.0" cy="7.9" r="1.1"/><circle cx="37.9" cy="7.2" r="0.9"/><circle cx="12.1" cy="8.8" r="1.1"/><circle cx="25.2" cy="8.9" r="1.1"/><circle cx="36.8" cy="9.1" r="1.0"/><circle cx="38.0" cy="9.2" r="1.1"/><circle cx="39.2" cy="9.0" r="0.9"/><circle cx="41.1" cy="9.3" r="0.9"/><circle cx="9.0" cy="10.5" r="0.9"/><circle cx="10.7" cy="10.5" r="1.2"/><circle cx="20.3" cy="10.8" r="1.3"/><circle cx="23.1" cy="10.4" r="1.2"/><circle cx="28.2" cy="10.7" r="1.0"/><circle cx="42.0" cy="10.1" r="1.1"/><circle cx="13.0" cy="11.8" r="0.9"/><circle cx="20.7" cy="11.9" r="1.1"/><circle cx="23.8" cy="11.7" r="1.0"/><circle cx="32.2" cy="11.6" r="1.0"/><circle cx="33.7" cy="12.2" r="1.2"/><circle cx="39.7" cy="12.3" r="0.9"/><circle cx="48.2" cy="11.9" r="1.3"/><circle cx="8.8" cy="13.0" r="0.9"/><circle cx="17.7" cy="13.6" r="1.2"/><circle cx="19.0" cy="13.3" r="1.0"/><circle cx="23.3" cy="13.1" r="0.9"/><circle cx="28.2" cy="13.0" r="1.1"/><circle cx="29.5" cy="13.3" r="1.2"/><circle cx="36.4" cy="13.3" r="1.1"/><circle cx="51.1" cy="13.6" r="1.3"/><circle cx="54.1" cy="13.2" r="1.1"/><circle cx="4.4" cy="14.8" r="1.1"/><circle cx="12.1" cy="14.9" r="1.1"/><circle cx="13.6" cy="14.5" r="1.1"/><circle cx="17.9" cy="14.7" r="1.2"/><circle cx="19.3" cy="14.9" r="1.2"/><circle cx="21.0" cy="14.8" r="1.1"/><circle cx="30.4" cy="14.5" r="1.0"/><circle cx="33.8" cy="14.8" r="0.9"/><circle cx="52.6" cy="14.8" r="1.2"/><circle cx="20.8" cy="15.9" r="1.0"/><circle cx="23.4" cy="16.0" r="1.0"/><circle cx="29.6" cy="15.9" r="0.9"/><circle cx="31.0" cy="16.3" r="1.1"/><circle cx="39.3" cy="16.1" r="1.1"/><circle cx="42.3" cy="16.5" r="1.3"/><circle cx="45.2" cy="16.0" r="0.9"/><circle cx="51.0" cy="16.4" r="1.3"/><circle cx="52.3" cy="16.6" r="0.9"/><circle cx="54.1" cy="16.1" r="1.3"/><circle cx="13.7" cy="17.7" r="1.2"/><circle cx="19.4" cy="17.5" r="1.2"/><circle cx="20.4" cy="17.3" r="1.1"/><circle cx="22.1" cy="18.1" r="1.0"/><circle cx="28.2" cy="17.8" r="1.1"/><circle cx="29.4" cy="17.6" r="1.0"/><circle cx="33.5" cy="17.6" r="1.2"/><circle cx="35.0" cy="18.0" r="0.9"/><circle cx="38.0" cy="18.0" r="1.0"/><circle cx="51.1" cy="17.4" r="0.9"/><circle cx="53.9" cy="17.4" r="1.1"/><circle cx="15.2" cy="18.9" r="0.9"/><circle cx="17.8" cy="18.9" r="0.9"/><circle cx="27.6" cy="19.0" r="0.9"/><circle cx="30.4" cy="19.1" r="0.9"/><circle cx="35.1" cy="19.5" r="1.1"/><circle cx="43.9" cy="19.2" r="1.3"/><circle cx="45.2" cy="19.1" r="1.3"/><circle cx="13.4" cy="20.4" r="1.0"/><circle cx="14.5" cy="20.5" r="0.9"/><circle cx="17.7" cy="20.6" r="0.9"/><circle cx="20.7" cy="20.5" r="1.0"/><circle cx="25.1" cy="20.9" r="1.0"/><circle cx="31.1" cy="20.2" r="0.9"/><circle cx="49.4" cy="20.8" r="1.2"/><circle cx="7.5" cy="21.8" r="1.2"/><circle cx="8.8" cy="22.4" r="1.1"/><circle cx="13.2" cy="22.1" r="1.3"/><circle cx="26.2" cy="22.4" r="1.3"/><circle cx="29.2" cy="22.2" r="1.2"/><circle cx="47.0" cy="21.8" r="0.9"/><circle cx="48.4" cy="21.9" r="1.0"/><circle cx="9.1" cy="23.5" r="1.1"/><circle cx="12.2" cy="23.8" r="1.2"/><circle cx="17.8" cy="23.7" r="1.0"/><circle cx="18.9" cy="23.6" r="1.2"/><circle cx="26.8" cy="23.2" r="1.2"/><circle cx="27.7" cy="23.7" r="1.0"/><circle cx="49.4" cy="23.8" r="1.0"/><circle cx="54.1" cy="23.5" r="1.2"/><circle cx="19.5" cy="24.7" r="1.0"/><circle cx="20.8" cy="24.6" r="1.1"/><circle cx="24.6" cy="25.1" r="1.1"/><circle cx="30.7" cy="25.1" r="1.2"/><circle cx="12.0" cy="26.1" r="1.0"/><circle cx="17.9" cy="26.2" r="0.9"/><circle cx="29.1" cy="26.0" r="1.1"/><circle cx="30.4" cy="26.4" r="0.9"/><circle cx="40.8" cy="26.1" r="1.1"/><circle cx="45.1" cy="26.1" r="1.0"/><circle cx="47.9" cy="26.3" r="1.2"/><circle cx="49.9" cy="26.4" r="1.0"/><circle cx="13.2" cy="28.2" r="1.0"/><circle cx="14.9" cy="27.5" r="1.1"/><circle cx="33.6" cy="28.0" r="1.0"/><circle cx="39.4" cy="27.8" r="1.2"/><circle cx="41.1" cy="27.8" r="1.0"/><circle cx="55.7" cy="28.1" r="1.1"/><circle cx="57.1" cy="28.1" r="0.9"/><circle cx="3.6" cy="29.7" r="1.2"/><circle cx="18.0" cy="29.4" r="1.0"/><circle cx="19.1" cy="29.0" r="1.0"/><circle cx="26.6" cy="29.4" r="1.1"/><circle cx="27.9" cy="29.3" r="1.0"/><circle cx="32.2" cy="29.4" r="0.9"/><circle cx="42.1" cy="29.4" r="1.0"/><circle cx="2.0" cy="31.1" r="1.1"/><circle cx="2.8" cy="31.1" r="0.9"/><circle cx="10.7" cy="30.6" r="1.1"/><circle cx="12.1" cy="30.5" r="1.0"/><circle cx="13.2" cy="31.1" r="1.0"/><circle cx="25.1" cy="30.5" r="1.1"/><circle cx="31.0" cy="30.9" r="1.1"/><circle cx="32.2" cy="30.4" r="0.9"/><circle cx="42.3" cy="30.8" r="1.0"/><circle cx="53.8" cy="30.4" r="1.0"/><circle cx="56.8" cy="30.8" r="1.1"/><circle cx="0.3" cy="31.9" r="1.2"/><circle cx="1.4" cy="32.5" r="0.9"/><circle cx="10.1" cy="32.6" r="1.0"/><circle cx="14.5" cy="32.6" r="1.1"/><circle cx="18.1" cy="31.9" r="1.1"/><circle cx="42.1" cy="32.5" r="1.1"/><circle cx="45.1" cy="32.4" r="1.2"/><circle cx="55.5" cy="32.2" r="1.2"/><circle cx="11.8" cy="33.6" r="0.9"/><circle cx="13.2" cy="33.3" r="1.0"/><circle cx="15.0" cy="33.6" r="0.9"/><circle cx="29.7" cy="34.0" r="1.2"/><circle cx="31.9" cy="33.3" r="1.0"/><circle cx="36.8" cy="33.5" r="1.1"/><circle cx="37.8" cy="33.7" r="1.0"/><circle cx="55.4" cy="33.3" r="0.9"/><circle cx="12.2" cy="34.7" r="1.1"/><circle cx="17.7" cy="34.8" r="1.1"/><circle cx="19.1" cy="35.2" r="1.3"/><circle cx="24.7" cy="35.4" r="1.1"/><circle cx="27.5" cy="34.8" r="1.2"/><circle cx="33.9" cy="35.3" r="1.1"/><circle cx="36.8" cy="35.1" r="0.9"/><circle cx="42.0" cy="35.2" r="1.2"/><circle cx="43.4" cy="34.8" r="1.1"/><circle cx="6.4" cy="36.9" r="1.3"/><circle cx="19.2" cy="36.9" r="0.9"/><circle cx="26.7" cy="36.3" r="1.3"/><circle cx="6.4" cy="37.9" r="0.9"/><circle cx="7.4" cy="38.0" r="1.1"/><circle cx="19.3" cy="37.9" r="1.1"/><circle cx="22.0" cy="38.3" r="1.1"/><circle cx="23.6" cy="38.2" r="1.1"/><circle cx="25.1" cy="37.8" r="1.2"/><circle cx="28.2" cy="37.8" r="1.0"/><circle cx="29.3" cy="37.7" r="1.0"/><circle cx="36.3" cy="37.8" r="0.9"/><circle cx="20.8" cy="39.2" r="1.2"/><circle cx="22.1" cy="39.7" r="1.2"/><circle cx="23.8" cy="39.7" r="1.3"/><circle cx="28.0" cy="39.2" r="1.0"/><circle cx="32.5" cy="39.4" r="1.0"/><circle cx="34.8" cy="39.1" r="1.0"/></g><g fill="#3cbc3c"><circle cx="52.2" cy="0.6" r="1.1"/><circle cx="49.3" cy="1.9" r="1.1"/><circle cx="51.3" cy="1.4" r="1.0"/><circle cx="25.1" cy="3.1" r="1.3"/><circle cx="34.8" cy="3.4" r="1.2"/><circle cx="38.1" cy="3.0" r="1.1"/><circle cx="52.4" cy="3.1" r="1.1"/><circle cx="53.8" cy="3.0" r="1.1"/><circle cx="18.0" cy="4.9" r="1.2"/><circle cx="36.4" cy="4.3" r="1.1"/><circle cx="45.2" cy="4.3" r="1.0"/><circle cx="48.4" cy="4.6" r="1.1"/><circle cx="51.3" cy="4.6" r="1.2"/><circle cx="35.1" cy="6.3" r="1.3"/><circle cx="36.9" cy="5.9" r="0.9"/><circle cx="50.9" cy="6.4" r="1.0"/><circle cx="7.2" cy="7.5" r="1.1"/><circle cx="9.2" cy="7.2" r="1.1"/><circle cx="11.5" cy="7.8" r="1.1"/><circle cx="27.5" cy="7.4" r="1.0"/><circle cx="29.1" cy="7.7" r="1.1"/><circle cx="28.2" cy="8.8" r="1.0"/><circle cx="29.0" cy="8.9" r="1.0"/><circle cx="7.2" cy="10.4" r="1.0"/><circle cx="39.1" cy="10.5" r="1.3"/><circle cx="10.3" cy="11.6" r="1.0"/><circle cx="11.7" cy="11.6" r="1.0"/><circle cx="17.5" cy="11.7" r="1.0"/><circle cx="19.2" cy="11.8" r="1.1"/><circle cx="10.4" cy="13.0" r="1.0"/><circle cx="12.2" cy="13.5" r="1.2"/><circle cx="15.9" cy="13.1" r="1.0"/><circle cx="15.0" cy="15.2" r="1.2"/><circle cx="15.9" cy="14.7" r="1.3"/><circle cx="23.5" cy="14.4" r="0.9"/><circle cx="36.5" cy="15.0" r="1.1"/><circle cx="37.9" cy="15.2" r="0.9"/><circle cx="39.4" cy="14.4" r="1.0"/><circle cx="42.2" cy="14.8" r="1.3"/><circle cx="51.0" cy="14.5" r="1.0"/><circle cx="4.6" cy="15.9" r="0.9"/><circle cx="16.5" cy="16.0" r="1.3"/><circle cx="17.7" cy="16.6" r="1.0"/><circle cx="19.0" cy="16.6" r="1.2"/><circle cx="40.9" cy="16.4" r="1.1"/><circle cx="5.8" cy="17.8" r="1.1"/><circle cx="16.4" cy="17.6" r="0.9"/><circle cx="32.3" cy="17.8" r="1.1"/><circle cx="36.8" cy="18.0" r="0.9"/><circle cx="47.1" cy="17.5" r="1.3"/><circle cx="48.3" cy="17.5" r="1.2"/><circle cx="49.7" cy="17.5" r="1.1"/><circle cx="13.7" cy="19.1" r="0.9"/><circle cx="19.1" cy="19.5" r="0.9"/><circle cx="32.0" cy="19.4" r="1.0"/><circle cx="34.0" cy="19.5" r="1.0"/><circle cx="36.4" cy="19.4" r="1.0"/><circle cx="48.5" cy="19.5" r="1.3"/><circle cx="49.2" cy="18.8" r="1.0"/><circle cx="11.8" cy="20.6" r="1.0"/><circle cx="19.1" cy="20.4" r="1.0"/><circle cx="32.1" cy="20.4" r="1.2"/><circle cx="33.4" cy="20.8" r="1.0"/><circle cx="52.4" cy="20.6" r="1.3"/><circle cx="27.7" cy="22.3" r="1.0"/><circle cx="52.3" cy="22.0" r="0.9"/><circle cx="7.6" cy="23.1" r="1.1"/><circle cx="14.6" cy="23.9" r="1.0"/><circle cx="22.0" cy="23.2" r="0.9"/><circle cx="23.6" cy="23.5" r="1.2"/><circle cx="25.1" cy="23.4" r="1.0"/><circle cx="29.3" cy="23.6" r="0.9"/><circle cx="52.4" cy="23.5" r="1.1"/><circle cx="15.0" cy="25.2" r="1.2"/><circle cx="22.1" cy="25.0" r="1.2"/><circle cx="28.0" cy="25.1" r="0.9"/><circle cx="29.3" cy="25.0" r="0.9"/><circle cx="43.5" cy="24.9" r="1.1"/><circle cx="49.4" cy="25.1" r="1.1"/><circle cx="19.3" cy="26.0" r="1.0"/><circle cx="21.8" cy="26.2" r="1.1"/><circle cx="50.7" cy="26.5" r="1.2"/><circle cx="55.7" cy="26.4" r="0.9"/><circle cx="25.2" cy="27.8" r="0.9"/><circle cx="12.2" cy="29.7" r="1.0"/><circle cx="13.2" cy="29.2" r="1.2"/><circle cx="44.0" cy="28.9" r="1.2"/><circle cx="53.9" cy="29.5" r="0.9"/><circle cx="57.1" cy="29.7" r="1.1"/><circle cx="14.5" cy="31.1" r="1.3"/><circle cx="29.6" cy="30.8" r="1.1"/><circle cx="11.8" cy="32.2" r="1.0"/><circle cx="13.1" cy="32.6" r="1.2"/><circle cx="16.3" cy="32.2" r="1.3"/><circle cx="30.8" cy="32.2" r="1.3"/><circle cx="32.5" cy="32.5" r="1.2"/><circle cx="33.5" cy="32.3" r="1.0"/><circle cx="4.4" cy="33.9" r="1.3"/><circle cx="18.9" cy="33.4" r="0.9"/><circle cx="23.9" cy="35.5" r="0.9"/><circle cx="31.1" cy="34.8" r="1.1"/><circle cx="4.5" cy="36.5" r="1.2"/><circle cx="20.5" cy="36.2" r="1.0"/><circle cx="28.2" cy="36.6" r="1.1"/><circle cx="29.3" cy="36.4" r="1.3"/><circle cx="35.3" cy="36.2" r="0.9"/><circle cx="37.9" cy="36.9" r="1.1"/><circle cx="20.4" cy="37.7" r="1.1"/><circle cx="33.4" cy="38.0" r="1.3"/><circle cx="35.0" cy="38.0" r="0.9"/><circle cx="4.5" cy="39.1" r="1.1"/><circle cx="6.0" cy="39.4" r="1.2"/><circle cx="26.7" cy="39.6" r="0.9"/><circle cx="31.0" cy="39.3" r="1.2"/><circle cx="19.4" cy="41.0" r="1.3"/><circle cx="20.8" cy="41.2" r="1.1"/><circle cx="21.9" cy="41.3" r="1.3"/></g></g></defs>
<g transform="translate(102.7,403.6)" clip-path="url(#cp)"><rect width="57.3" height="42.3" fill="#000"/>
<use href="#bE"/>
<text x="2.5" y="8.4" font-family="'Liberation Serif', serif" font-weight="bold" font-size="6.6" fill="#e8e8e8">E<tspan font-size="7" dx="0.3">'</tspan></text>
</g>
<g transform="translate(161.5,403.6)" clip-path="url(#cp)"><rect width="56.5" height="42.3" fill="#000"/>
<use href="#bF"/>
<rect x="44.0" y="38.5" width="8.8" height="1.1" fill="#eee"/>
<text x="2.5" y="8.4" font-family="'Liberation Serif', serif" font-weight="bold" font-size="6.6" fill="#e8e8e8">F<tspan font-size="7" dx="0.3">'</tspan></text>
</g>
<g transform="translate(219.5,403.6)" clip-path="url(#cp)"><rect width="56.8" height="42.3" fill="#000"/>
<use href="#bG"/>
<rect x="44.3" y="38.5" width="8.8" height="1.1" fill="#eee"/>
<text x="2.5" y="8.4" font-family="'Liberation Serif', serif" font-weight="bold" font-size="6.6" fill="#e8e8e8">G<tspan font-size="7" dx="0.3">'</tspan></text>
</g>
<g transform="translate(278.0,403.6)" clip-path="url(#cp)"><rect width="57.5" height="42.3" fill="#000"/>
<use href="#bH"/>
<rect x="45.0" y="38.5" width="8.8" height="1.1" fill="#eee"/>
<text x="2.5" y="8.4" font-family="'Liberation Serif', serif" font-weight="bold" font-size="6.6" fill="#e8e8e8">H<tspan font-size="7" dx="0.3">'</tspan></text>
</g>
<g transform="translate(102.7,447.7)" clip-path="url(#cp)"><rect width="57.3" height="41.9" fill="#061e06"/>
<rect x="44.8" y="38.1" width="8.8" height="1.1" fill="#eee"/>
<text x="2.5" y="8.4" font-family="'Liberation Serif', serif" font-weight="bold" font-size="6.6" fill="#e8e8e8">E<tspan font-size="7" dx="0.3">''</tspan></text>
</g>
<g transform="translate(161.5,447.7)" clip-path="url(#cp)"><rect width="56.5" height="41.9" fill="#000"/>
<use href="#gF"/>
<rect x="44.0" y="38.1" width="8.8" height="1.1" fill="#eee"/>
<text x="2.5" y="8.4" font-family="'Liberation Serif', serif" font-weight="bold" font-size="6.6" fill="#e8e8e8">F<tspan font-size="7" dx="0.3">''</tspan></text>
</g>
<g transform="translate(219.5,447.7)" clip-path="url(#cp)"><rect width="56.8" height="41.9" fill="#000"/>
<rect x="44.3" y="38.1" width="8.8" height="1.1" fill="#eee"/>
<text x="2.5" y="8.4" font-family="'Liberation Serif', serif" font-weight="bold" font-size="6.6" fill="#e8e8e8">G<tspan font-size="7" dx="0.3">''</tspan></text>
</g>
<g transform="translate(278.0,447.7)" clip-path="url(#cp)"><rect width="57.5" height="41.9" fill="#000"/>
<rect x="45.0" y="38.1" width="8.8" height="1.1" fill="#eee"/>
<text x="2.5" y="8.4" font-family="'Liberation Serif', serif" font-weight="bold" font-size="6.6" fill="#e8e8e8">H<tspan font-size="7" dx="0.3">''</tspan></text>
</g>
<g transform="translate(102.7,491.6)" clip-path="url(#cp)"><rect width="57.3" height="43.2" fill="#000"/>
<use href="#bE"/>
<rect x="44.8" y="39.4" width="8.8" height="1.1" fill="#eee"/>
<text x="2.5" y="8.4" font-family="'Liberation Serif', serif" font-weight="bold" font-size="6.6" fill="#e8e8e8">E<tspan font-size="7" dx="0.3"></tspan></text>
</g>
<g transform="translate(161.5,491.6)" clip-path="url(#cp)"><rect width="56.5" height="43.2" fill="#000"/>
<use href="#bF" opacity="0.62"/>
<use href="#gF" style="mix-blend-mode:screen" opacity="0.95"/>
<rect x="44.0" y="39.4" width="8.8" height="1.1" fill="#eee"/>
<text x="2.5" y="8.4" font-family="'Liberation Serif', serif" font-weight="bold" font-size="6.6" fill="#e8e8e8">F<tspan font-size="7" dx="0.3"></tspan></text>
</g>
<g transform="translate(219.5,491.6)" clip-path="url(#cp)"><rect width="56.8" height="43.2" fill="#000"/>
<use href="#bG"/>
<rect x="44.3" y="39.4" width="8.8" height="1.1" fill="#eee"/>
<text x="2.5" y="8.4" font-family="'Liberation Serif', serif" font-weight="bold" font-size="6.6" fill="#e8e8e8">G<tspan font-size="7" dx="0.3"></tspan></text>
</g>
<g transform="translate(278.0,491.6)" clip-path="url(#cp)"><rect width="57.5" height="43.2" fill="#000"/>
<use href="#bH"/>
<rect x="45.0" y="39.4" width="8.8" height="1.1" fill="#eee"/>
<text x="2.5" y="8.4" font-family="'Liberation Serif', serif" font-weight="bold" font-size="6.6" fill="#e8e8e8">H<tspan font-size="7" dx="0.3"></tspan></text>
</g>
<rect x="142.8" y="436.2" width="12.6" height="5" fill="#000"/><rect x="146.4" y="442" width="8.6" height="1.1" fill="#eee"/>
<text x="143.4" y="440.4" font-family="Liberation Serif, serif" font-weight="bold" font-size="3.6" fill="#ddd">50 µm</text>
<text x="97.5" y="437" font-family="'Liberation Serif', serif" font-size="7.5" font-weight="bold" fill="#111" stroke="#111" stroke-width="0.32" text-anchor="start" transform="rotate(-90 97.5 437)">Hoechst</text>
<text x="98.5" y="491.5" font-family="'Liberation Serif', serif" font-size="7.4" font-weight="bold" fill="#111" stroke="#111" stroke-width="0.32" text-anchor="start" transform="rotate(-90 98.5 491.5)">pS935 LRRK2</text>
<text x="98.5" y="520.5" font-family="'Liberation Serif', serif" font-size="7.5" font-weight="bold" fill="#111" stroke="#111" stroke-width="0.32" text-anchor="start" transform="rotate(-90 98.5 520.5)">Merge</text>
<text x="138" y="390.0" font-family="'Liberation Serif', serif" font-size="7.4" font-weight="bold" fill="#111" stroke="#111" stroke-width="0.32" text-anchor="start">LRRK2 WT</text>
<text x="257" y="389.6" font-family="'Liberation Serif', serif" font-size="7.4" font-weight="bold" fill="#111" stroke="#111" stroke-width="0.32" text-anchor="start">LRRK2 KO</text>
<text x="123.5" y="399.4" font-family="'Liberation Serif', serif" font-size="7.0" font-weight="bold" fill="#111" stroke="#111" stroke-width="0.32" text-anchor="start">UNT</text>
<text x="181" y="399.4" font-family="'Liberation Serif', serif" font-size="7.0" font-weight="bold" fill="#111" stroke="#111" stroke-width="0.32" text-anchor="start">ROT</text>
<text x="239" y="399.4" font-family="'Liberation Serif', serif" font-size="7.0" font-weight="bold" fill="#111" stroke="#111" stroke-width="0.32" text-anchor="start">UNT</text>
<text x="296" y="399.4" font-family="'Liberation Serif', serif" font-size="7.0" font-weight="bold" fill="#111" stroke="#111" stroke-width="0.32" text-anchor="start">ROT</text>
<path d="M130,389.7 H136.5 M180.5,386.6 H185 V388 M248.9,389.7 H253.7 M289.6,386.6 H294.5 V388" stroke="#888" stroke-width="0.7" fill="none"/>
</svg>
</body></html>
